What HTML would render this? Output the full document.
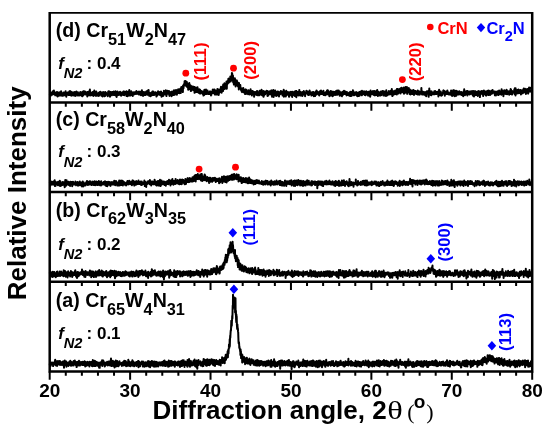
<!DOCTYPE html><html><head><meta charset="utf-8"><title>XRD patterns</title><style>html,body{margin:0;padding:0;background:#fff;overflow:hidden}svg{display:block}</style></head><body><svg width="550" height="431" viewBox="0 0 550 431"><defs><filter id="soft" x="0" y="0" width="1" height="1" color-interpolation-filters="sRGB"><feGaussianBlur stdDeviation="0.4"/></filter></defs><rect width="550" height="431" fill="#fff"/><g filter="url(#soft)"><polyline fill="none" stroke="#000" stroke-width="2.0" stroke-linejoin="round" points="49.7,93.9 49.9,94.3 50.0,93.5 50.2,92.7 50.3,93.3 50.5,92.6 50.7,94.0 50.8,95.6 51.0,93.2 51.1,93.1 51.3,94.5 51.5,94.3 51.6,94.0 51.8,92.7 52.0,93.8 52.1,94.8 52.3,92.1 52.4,93.3 52.6,91.4 52.8,92.2 52.9,91.5 53.1,93.6 53.2,92.2 53.4,94.2 53.6,94.1 53.7,93.6 53.9,90.6 54.0,93.2 54.2,93.8 54.4,94.0 54.5,91.9 54.7,93.2 54.8,92.6 55.0,92.8 55.2,95.3 55.3,92.8 55.5,93.8 55.7,95.0 55.8,93.1 56.0,93.7 56.1,94.0 56.3,94.0 56.5,92.3 56.6,94.0 56.8,95.6 56.9,91.9 57.1,95.0 57.3,94.0 57.4,93.0 57.6,96.5 57.7,94.9 57.9,92.3 58.1,94.0 58.2,94.6 58.4,93.6 58.5,94.8 58.7,93.8 58.9,94.7 59.0,95.7 59.2,93.0 59.3,94.1 59.5,93.3 59.7,94.0 59.8,92.3 60.0,93.1 60.2,93.6 60.3,95.0 60.5,95.4 60.6,92.1 60.8,92.8 61.0,94.7 61.1,91.3 61.3,93.3 61.4,93.7 61.6,95.5 61.8,94.8 61.9,93.4 62.1,93.4 62.2,93.5 62.4,95.8 62.6,93.3 62.7,93.5 62.9,94.3 63.0,93.7 63.2,93.6 63.4,92.4 63.5,93.8 63.7,93.3 63.9,95.4 64.0,94.7 64.2,93.8 64.3,94.7 64.5,93.4 64.7,95.2 64.8,93.8 65.0,94.6 65.1,92.2 65.3,94.3 65.5,91.7 65.6,91.2 65.8,93.5 65.9,92.7 66.1,94.1 66.3,96.8 66.4,92.8 66.6,93.0 66.7,94.1 66.9,94.5 67.1,93.6 67.2,93.6 67.4,94.8 67.6,94.5 67.7,92.5 67.9,93.7 68.0,93.9 68.2,92.5 68.4,94.2 68.5,92.7 68.7,95.1 68.8,94.1 69.0,94.0 69.2,93.1 69.3,93.7 69.5,91.2 69.6,92.4 69.8,94.3 70.0,91.1 70.1,94.9 70.3,91.6 70.4,94.8 70.6,92.7 70.8,94.9 70.9,94.0 71.1,91.8 71.3,95.5 71.4,95.7 71.6,93.8 71.7,93.5 71.9,93.6 72.1,92.6 72.2,95.3 72.4,93.1 72.5,93.8 72.7,92.8 72.9,93.0 73.0,92.2 73.2,95.5 73.3,93.6 73.5,95.1 73.7,93.9 73.8,92.9 74.0,93.4 74.1,93.1 74.3,93.8 74.5,93.3 74.6,93.4 74.8,92.0 75.0,92.8 75.1,96.0 75.3,93.0 75.4,92.5 75.6,94.3 75.8,95.7 75.9,91.9 76.1,93.6 76.2,93.0 76.4,91.5 76.6,94.8 76.7,93.8 76.9,93.9 77.0,92.8 77.2,94.4 77.4,93.1 77.5,93.6 77.7,92.4 77.8,92.2 78.0,95.6 78.2,93.2 78.3,94.2 78.5,93.8 78.6,93.2 78.8,93.2 79.0,94.6 79.1,93.4 79.3,93.6 79.5,93.9 79.6,95.4 79.8,94.7 79.9,94.3 80.1,93.1 80.3,92.0 80.4,95.1 80.6,95.1 80.7,93.6 80.9,94.5 81.1,94.8 81.2,94.9 81.4,95.0 81.5,93.2 81.7,95.8 81.9,92.2 82.0,94.9 82.2,94.5 82.3,95.0 82.5,96.3 82.7,95.7 82.8,92.3 83.0,91.6 83.2,94.9 83.3,92.5 83.5,93.8 83.6,94.9 83.8,91.7 84.0,91.1 84.1,94.1 84.3,93.9 84.4,93.5 84.6,93.9 84.8,92.7 84.9,91.8 85.1,93.6 85.2,92.5 85.4,91.7 85.6,94.5 85.7,93.7 85.9,94.3 86.0,92.5 86.2,93.0 86.4,92.5 86.5,92.7 86.7,94.1 86.9,92.8 87.0,94.3 87.2,94.2 87.3,96.4 87.5,92.0 87.7,95.0 87.8,93.7 88.0,93.8 88.1,91.9 88.3,93.2 88.5,94.8 88.6,93.7 88.8,93.9 88.9,93.4 89.1,95.3 89.3,93.8 89.4,90.9 89.6,92.9 89.7,91.2 89.9,89.6 90.1,93.1 90.2,95.5 90.4,93.9 90.6,92.3 90.7,92.6 90.9,95.3 91.0,94.0 91.2,93.9 91.4,93.7 91.5,93.8 91.7,94.8 91.8,94.5 92.0,94.1 92.2,92.4 92.3,94.5 92.5,92.9 92.6,95.2 92.8,92.1 93.0,93.6 93.1,93.8 93.3,92.1 93.4,96.0 93.6,95.7 93.8,93.2 93.9,94.8 94.1,94.3 94.3,90.4 94.4,94.1 94.6,93.7 94.7,93.9 94.9,92.4 95.1,93.4 95.2,93.6 95.4,95.3 95.5,94.2 95.7,93.8 95.9,95.8 96.0,93.1 96.2,93.3 96.3,91.4 96.5,95.8 96.7,95.0 96.8,95.0 97.0,94.7 97.1,93.9 97.3,94.1 97.5,93.5 97.6,93.5 97.8,93.9 97.9,95.8 98.1,94.5 98.3,93.7 98.4,93.0 98.6,93.0 98.8,95.9 98.9,94.4 99.1,93.9 99.2,93.3 99.4,92.3 99.6,93.7 99.7,94.9 99.9,93.3 100.0,93.5 100.2,93.5 100.4,93.9 100.5,91.7 100.7,93.5 100.8,92.7 101.0,94.9 101.2,92.8 101.3,94.5 101.5,95.8 101.6,93.4 101.8,93.0 102.0,94.0 102.1,93.8 102.3,92.5 102.5,94.4 102.6,96.4 102.8,93.4 102.9,93.5 103.1,92.4 103.3,94.2 103.4,92.1 103.6,92.3 103.7,95.4 103.9,92.6 104.1,95.2 104.2,95.8 104.4,94.1 104.5,94.5 104.7,96.3 104.9,93.5 105.0,93.0 105.2,92.0 105.3,93.8 105.5,95.7 105.7,95.0 105.8,92.5 106.0,92.6 106.2,93.1 106.3,94.1 106.5,93.5 106.6,94.0 106.8,94.1 107.0,93.4 107.1,93.7 107.3,94.0 107.4,93.6 107.6,94.4 107.8,96.2 107.9,94.5 108.1,93.8 108.2,91.6 108.4,94.3 108.6,91.2 108.7,91.9 108.9,94.9 109.0,94.7 109.2,93.6 109.4,91.5 109.5,93.3 109.7,92.9 109.9,94.6 110.0,96.7 110.2,94.0 110.3,92.7 110.5,92.2 110.7,93.7 110.8,93.5 111.0,92.2 111.1,93.9 111.3,92.2 111.5,95.2 111.6,95.1 111.8,95.2 111.9,93.1 112.1,94.4 112.3,93.6 112.4,93.2 112.6,93.3 112.7,92.0 112.9,91.9 113.1,94.8 113.2,93.5 113.4,94.0 113.6,95.0 113.7,91.5 113.9,92.7 114.0,94.0 114.2,94.3 114.4,93.2 114.5,95.1 114.7,94.0 114.8,92.2 115.0,92.5 115.2,94.8 115.3,94.3 115.5,91.3 115.6,95.5 115.8,94.5 116.0,95.5 116.1,93.2 116.3,93.3 116.4,92.3 116.6,97.0 116.8,93.5 116.9,95.8 117.1,92.9 117.2,93.9 117.4,91.6 117.6,93.2 117.7,95.0 117.9,92.1 118.1,95.1 118.2,94.2 118.4,92.4 118.5,93.1 118.7,93.1 118.9,93.7 119.0,93.0 119.2,92.6 119.3,93.3 119.5,92.4 119.7,92.0 119.8,93.7 120.0,94.9 120.1,91.7 120.3,93.7 120.5,92.9 120.6,92.4 120.8,94.8 120.9,93.0 121.1,95.7 121.3,92.7 121.4,94.2 121.6,93.4 121.8,92.7 121.9,94.5 122.1,93.5 122.2,94.5 122.4,93.7 122.6,92.3 122.7,93.6 122.9,93.8 123.0,95.0 123.2,92.5 123.4,93.7 123.5,91.5 123.7,94.6 123.8,92.3 124.0,91.4 124.2,93.6 124.3,95.2 124.5,91.7 124.6,92.3 124.8,92.7 125.0,92.2 125.1,94.2 125.3,92.7 125.5,92.8 125.6,94.5 125.8,92.7 125.9,94.3 126.1,92.4 126.3,92.1 126.4,91.3 126.6,96.1 126.7,93.3 126.9,94.0 127.1,93.7 127.2,93.9 127.4,93.8 127.5,96.2 127.7,92.3 127.9,91.7 128.0,92.4 128.2,92.0 128.3,94.7 128.5,94.8 128.7,92.4 128.8,91.9 129.0,93.2 129.2,95.5 129.3,90.0 129.5,94.4 129.6,92.3 129.8,95.1 130.0,92.3 130.1,93.3 130.3,91.7 130.4,92.4 130.6,95.5 130.8,94.8 130.9,93.2 131.1,92.6 131.2,91.2 131.4,93.2 131.6,93.6 131.7,93.6 131.9,93.6 132.0,92.2 132.2,93.6 132.4,93.6 132.5,95.4 132.7,96.1 132.9,93.5 133.0,92.7 133.2,93.6 133.3,92.9 133.5,92.7 133.7,93.6 133.8,92.3 134.0,94.5 134.1,93.5 134.3,94.0 134.5,93.4 134.6,92.7 134.8,92.4 134.9,93.4 135.1,93.0 135.3,94.0 135.4,93.7 135.6,91.9 135.7,93.8 135.9,91.9 136.1,92.9 136.2,93.3 136.4,91.0 136.5,93.8 136.7,93.9 136.9,93.5 137.0,93.1 137.2,93.2 137.4,92.4 137.5,93.3 137.7,92.9 137.8,93.8 138.0,92.1 138.2,94.0 138.3,93.8 138.5,93.5 138.6,93.1 138.8,94.4 139.0,91.5 139.1,94.3 139.3,94.0 139.4,94.0 139.6,94.2 139.8,92.8 139.9,93.3 140.1,94.5 140.2,94.2 140.4,93.9 140.6,91.7 140.7,94.4 140.9,95.2 141.1,95.0 141.2,94.0 141.4,91.6 141.5,94.9 141.7,93.4 141.9,90.3 142.0,94.1 142.2,91.7 142.3,91.9 142.5,92.8 142.7,95.3 142.8,93.2 143.0,94.0 143.1,95.9 143.3,95.7 143.5,93.5 143.6,93.3 143.8,92.0 143.9,92.7 144.1,94.2 144.3,94.1 144.4,93.8 144.6,94.9 144.8,92.6 144.9,93.6 145.1,94.6 145.2,94.4 145.4,95.0 145.6,94.1 145.7,93.2 145.9,94.1 146.0,92.3 146.2,91.5 146.4,94.4 146.5,93.5 146.7,94.0 146.8,91.4 147.0,93.1 147.2,92.8 147.3,92.5 147.5,90.7 147.6,93.2 147.8,94.8 148.0,94.1 148.1,92.8 148.3,93.6 148.5,94.6 148.6,90.0 148.8,93.4 148.9,94.3 149.1,94.5 149.3,95.8 149.4,95.1 149.6,94.0 149.7,94.0 149.9,94.6 150.1,92.9 150.2,93.5 150.4,94.8 150.5,96.2 150.7,93.4 150.9,93.5 151.0,93.8 151.2,95.3 151.3,93.5 151.5,95.5 151.7,92.3 151.8,93.3 152.0,93.3 152.2,94.6 152.3,94.9 152.5,91.6 152.6,92.4 152.8,94.0 153.0,92.7 153.1,91.6 153.3,94.9 153.4,94.2 153.6,94.2 153.8,92.9 153.9,94.9 154.1,93.2 154.2,95.0 154.4,92.4 154.6,92.4 154.7,93.8 154.9,92.6 155.0,94.4 155.2,93.9 155.4,92.3 155.5,93.6 155.7,93.1 155.8,94.7 156.0,92.7 156.2,93.0 156.3,95.1 156.5,96.5 156.7,96.2 156.8,93.6 157.0,93.8 157.1,95.5 157.3,93.4 157.5,92.2 157.6,93.7 157.8,94.1 157.9,92.4 158.1,91.3 158.3,91.6 158.4,94.4 158.6,92.5 158.7,93.3 158.9,93.8 159.1,94.3 159.2,93.1 159.4,94.2 159.5,92.3 159.7,93.0 159.9,92.1 160.0,95.0 160.2,93.5 160.4,92.5 160.5,93.0 160.7,93.2 160.8,94.4 161.0,91.4 161.2,92.1 161.3,93.0 161.5,96.8 161.6,94.7 161.8,93.3 162.0,94.4 162.1,96.2 162.3,93.1 162.4,93.0 162.6,95.0 162.8,94.1 162.9,94.3 163.1,92.8 163.2,96.0 163.4,95.7 163.6,94.2 163.7,94.3 163.9,90.7 164.1,94.3 164.2,93.2 164.4,94.0 164.5,94.3 164.7,93.0 164.9,91.2 165.0,93.9 165.2,92.4 165.3,93.0 165.5,92.6 165.7,92.9 165.8,90.3 166.0,95.0 166.1,93.7 166.3,94.8 166.5,96.0 166.6,93.4 166.8,91.0 166.9,92.2 167.1,91.7 167.3,92.7 167.4,93.4 167.6,90.7 167.8,93.8 167.9,91.3 168.1,93.7 168.2,93.2 168.4,92.9 168.6,93.2 168.7,92.6 168.9,92.5 169.0,91.0 169.2,93.2 169.4,95.7 169.5,95.9 169.7,95.0 169.8,94.2 170.0,92.3 170.2,95.2 170.3,93.1 170.5,93.1 170.6,92.8 170.8,93.3 171.0,92.6 171.1,93.1 171.3,91.7 171.5,92.7 171.6,96.2 171.8,93.1 171.9,92.8 172.1,93.8 172.3,94.1 172.4,91.6 172.6,92.8 172.7,94.3 172.9,93.4 173.1,93.2 173.2,95.1 173.4,92.1 173.5,93.1 173.7,92.3 173.9,95.0 174.0,90.3 174.2,92.0 174.3,92.2 174.5,93.8 174.7,93.7 174.8,94.8 175.0,90.7 175.1,93.9 175.3,92.4 175.5,91.9 175.6,93.5 175.8,91.5 176.0,89.9 176.1,92.2 176.3,90.6 176.4,91.7 176.6,93.1 176.8,93.0 176.9,94.7 177.1,92.2 177.2,90.3 177.4,91.3 177.6,91.0 177.7,90.6 177.9,92.8 178.0,91.2 178.2,89.3 178.4,93.0 178.5,91.8 178.7,92.4 178.8,91.9 179.0,92.6 179.2,91.7 179.3,93.3 179.5,92.0 179.7,91.9 179.8,91.8 180.0,88.9 180.1,90.7 180.3,90.4 180.5,91.0 180.6,88.4 180.8,92.9 180.9,90.3 181.1,88.1 181.3,87.1 181.4,89.2 181.6,89.3 181.7,88.1 181.9,89.2 182.1,87.7 182.2,89.5 182.4,87.1 182.5,88.1 182.7,89.6 182.9,92.1 183.0,85.7 183.2,86.4 183.4,85.5 183.5,88.1 183.7,84.4 183.8,85.3 184.0,85.9 184.2,84.0 184.3,83.8 184.5,84.4 184.6,81.2 184.8,82.2 185.0,84.0 185.1,84.9 185.3,84.1 185.4,80.9 185.6,83.3 185.8,85.7 185.9,85.1 186.1,83.9 186.2,82.3 186.4,85.2 186.6,82.9 186.7,81.8 186.9,82.6 187.1,87.0 187.2,84.7 187.4,86.6 187.5,83.6 187.7,86.4 187.9,83.7 188.0,84.6 188.2,89.7 188.3,86.7 188.5,84.5 188.7,85.4 188.8,86.3 189.0,88.1 189.1,85.1 189.3,83.0 189.5,85.8 189.6,86.5 189.8,86.8 189.9,89.1 190.1,87.4 190.3,88.4 190.4,85.2 190.6,88.7 190.8,91.0 190.9,88.7 191.1,87.9 191.2,87.8 191.4,90.7 191.6,86.2 191.7,87.6 191.9,88.7 192.0,89.2 192.2,87.3 192.4,88.6 192.5,87.7 192.7,88.4 192.8,88.1 193.0,86.4 193.2,88.4 193.3,89.9 193.5,86.9 193.6,88.2 193.8,89.8 194.0,87.0 194.1,89.1 194.3,87.1 194.4,90.8 194.6,92.8 194.8,92.4 194.9,88.8 195.1,90.4 195.3,89.5 195.4,89.6 195.6,92.0 195.7,87.5 195.9,91.3 196.1,89.7 196.2,92.1 196.4,90.2 196.5,88.9 196.7,90.5 196.9,91.3 197.0,90.3 197.2,91.1 197.3,89.6 197.5,87.2 197.7,92.0 197.8,91.7 198.0,91.0 198.1,90.9 198.3,92.5 198.5,90.3 198.6,90.0 198.8,90.8 199.0,93.0 199.1,89.2 199.3,93.1 199.4,90.5 199.6,89.8 199.8,93.4 199.9,91.4 200.1,89.7 200.2,91.2 200.4,93.1 200.6,93.5 200.7,91.2 200.9,92.5 201.0,93.0 201.2,91.1 201.4,92.5 201.5,92.0 201.7,91.3 201.8,91.4 202.0,92.3 202.2,92.3 202.3,91.4 202.5,91.7 202.7,93.9 202.8,92.6 203.0,93.6 203.1,94.1 203.3,93.2 203.5,95.6 203.6,91.3 203.8,93.6 203.9,92.0 204.1,95.1 204.3,94.9 204.4,89.8 204.6,91.2 204.7,93.5 204.9,93.7 205.1,93.6 205.2,92.5 205.4,93.2 205.5,93.5 205.7,92.5 205.9,94.0 206.0,89.5 206.2,93.5 206.4,91.2 206.5,94.0 206.7,92.3 206.8,91.4 207.0,93.2 207.2,91.4 207.3,91.4 207.5,90.5 207.6,92.6 207.8,93.3 208.0,94.1 208.1,92.5 208.3,94.1 208.4,92.7 208.6,92.5 208.8,93.5 208.9,94.1 209.1,92.2 209.2,92.3 209.4,92.4 209.6,92.8 209.7,91.4 209.9,94.1 210.1,92.1 210.2,93.3 210.4,91.5 210.5,93.1 210.7,93.2 210.9,92.0 211.0,95.4 211.2,93.1 211.3,95.0 211.5,93.9 211.7,91.7 211.8,92.0 212.0,93.2 212.1,92.6 212.3,92.6 212.5,92.1 212.6,90.0 212.8,92.2 212.9,89.4 213.1,93.0 213.3,91.4 213.4,91.4 213.6,92.1 213.7,92.8 213.9,90.4 214.1,89.9 214.2,90.9 214.4,89.5 214.6,91.0 214.7,94.5 214.9,90.8 215.0,93.2 215.2,90.3 215.4,92.6 215.5,91.8 215.7,92.1 215.8,93.0 216.0,94.6 216.2,92.4 216.3,92.2 216.5,90.6 216.6,92.8 216.8,91.6 217.0,93.1 217.1,91.8 217.3,94.4 217.4,89.0 217.6,91.3 217.8,93.0 217.9,91.2 218.1,90.5 218.3,91.2 218.4,89.5 218.6,91.6 218.7,95.0 218.9,93.0 219.1,89.7 219.2,89.9 219.4,90.6 219.5,92.6 219.7,89.8 219.9,89.9 220.0,92.2 220.2,92.1 220.3,90.1 220.5,88.9 220.7,88.1 220.8,89.3 221.0,86.8 221.1,91.4 221.3,89.1 221.5,90.7 221.6,92.8 221.8,91.6 222.0,87.8 222.1,90.9 222.3,91.2 222.4,88.0 222.6,87.5 222.8,88.7 222.9,86.1 223.1,91.0 223.2,84.4 223.4,86.4 223.6,87.6 223.7,87.5 223.9,88.0 224.0,88.0 224.2,87.0 224.4,89.1 224.5,83.2 224.7,86.7 224.8,85.2 225.0,86.5 225.2,86.5 225.3,84.2 225.5,84.5 225.7,86.9 225.8,85.8 226.0,83.7 226.1,88.6 226.3,88.8 226.5,81.4 226.6,84.5 226.8,88.6 226.9,85.0 227.1,83.6 227.3,82.5 227.4,81.6 227.6,82.0 227.7,81.1 227.9,83.5 228.1,80.9 228.2,80.5 228.4,78.7 228.5,80.8 228.7,78.8 228.9,80.1 229.0,82.5 229.2,80.8 229.4,80.9 229.5,80.4 229.7,79.5 229.8,79.0 230.0,78.4 230.2,80.6 230.3,76.4 230.5,81.6 230.6,78.5 230.8,76.7 231.0,77.2 231.1,76.7 231.3,78.5 231.4,76.5 231.6,80.6 231.8,76.3 231.9,72.9 232.1,76.4 232.2,73.6 232.4,78.0 232.6,80.5 232.7,79.7 232.9,75.4 233.0,76.8 233.2,82.5 233.4,79.4 233.5,78.9 233.7,81.4 233.9,84.6 234.0,82.2 234.2,79.9 234.3,80.6 234.5,81.4 234.7,79.0 234.8,78.2 235.0,80.8 235.1,79.0 235.3,81.1 235.5,81.6 235.6,86.5 235.8,80.2 235.9,82.0 236.1,82.1 236.3,83.6 236.4,85.0 236.6,82.3 236.7,81.9 236.9,80.5 237.1,82.2 237.2,85.3 237.4,84.6 237.6,82.8 237.7,84.3 237.9,85.3 238.0,86.4 238.2,84.6 238.4,85.4 238.5,82.8 238.7,84.3 238.8,89.4 239.0,82.9 239.2,86.4 239.3,87.5 239.5,86.7 239.6,86.2 239.8,87.6 240.0,87.9 240.1,88.0 240.3,85.1 240.4,88.2 240.6,87.2 240.8,87.9 240.9,89.3 241.1,90.1 241.3,90.7 241.4,88.6 241.6,91.0 241.7,91.5 241.9,91.6 242.1,92.1 242.2,89.8 242.4,89.9 242.5,91.5 242.7,88.2 242.9,90.8 243.0,89.7 243.2,90.1 243.3,88.1 243.5,89.5 243.7,90.9 243.8,92.3 244.0,92.5 244.1,91.0 244.3,90.9 244.5,90.1 244.6,91.9 244.8,91.1 245.0,92.4 245.1,94.1 245.3,91.5 245.4,89.5 245.6,90.5 245.8,89.6 245.9,90.1 246.1,93.7 246.2,92.2 246.4,89.8 246.6,92.9 246.7,93.8 246.9,91.5 247.0,91.1 247.2,91.6 247.4,92.6 247.5,93.1 247.7,93.9 247.8,93.9 248.0,93.9 248.2,94.2 248.3,93.2 248.5,90.2 248.7,92.2 248.8,92.8 249.0,91.9 249.1,93.7 249.3,92.0 249.5,91.2 249.6,94.5 249.8,93.4 249.9,92.8 250.1,93.8 250.3,94.0 250.4,93.1 250.6,89.2 250.7,91.7 250.9,92.0 251.1,91.3 251.2,92.9 251.4,94.3 251.5,92.0 251.7,91.2 251.9,95.5 252.0,92.1 252.2,91.1 252.3,93.1 252.5,93.3 252.7,91.8 252.8,93.9 253.0,92.1 253.2,91.5 253.3,93.1 253.5,93.9 253.6,92.0 253.8,93.3 254.0,92.7 254.1,96.7 254.3,91.9 254.4,94.8 254.6,92.8 254.8,92.7 254.9,93.9 255.1,94.1 255.2,94.6 255.4,93.4 255.6,92.1 255.7,92.2 255.9,93.6 256.0,93.7 256.2,94.8 256.4,93.5 256.5,94.4 256.7,95.0 256.9,93.2 257.0,91.0 257.2,91.4 257.3,91.1 257.5,95.2 257.7,91.9 257.8,94.7 258.0,93.8 258.1,95.3 258.3,94.4 258.5,92.9 258.6,92.8 258.8,93.2 258.9,93.3 259.1,92.4 259.3,93.0 259.4,95.2 259.6,90.8 259.7,93.4 259.9,91.9 260.1,93.3 260.2,94.2 260.4,93.0 260.6,94.1 260.7,91.0 260.9,94.6 261.0,92.3 261.2,94.0 261.4,93.4 261.5,89.7 261.7,92.1 261.8,93.4 262.0,95.2 262.2,93.5 262.3,93.5 262.5,91.3 262.6,95.1 262.8,95.6 263.0,93.2 263.1,92.9 263.3,91.0 263.4,94.3 263.6,96.8 263.8,94.1 263.9,94.9 264.1,93.9 264.3,91.9 264.4,95.0 264.6,91.6 264.7,92.9 264.9,93.6 265.1,94.4 265.2,93.8 265.4,93.7 265.5,92.2 265.7,91.5 265.9,93.3 266.0,92.3 266.2,91.5 266.3,91.5 266.5,92.6 266.7,90.8 266.8,91.4 267.0,91.1 267.1,93.5 267.3,93.8 267.5,95.9 267.6,91.3 267.8,92.3 268.0,94.5 268.1,93.0 268.3,92.8 268.4,95.5 268.6,92.8 268.8,91.7 268.9,91.5 269.1,93.7 269.2,93.7 269.4,91.4 269.6,92.0 269.7,94.0 269.9,94.0 270.0,92.4 270.2,94.1 270.4,94.0 270.5,90.9 270.7,92.9 270.8,93.8 271.0,92.5 271.2,90.5 271.3,92.9 271.5,94.3 271.6,95.4 271.8,90.4 272.0,96.7 272.1,91.8 272.3,94.6 272.5,94.9 272.6,94.6 272.8,93.5 272.9,91.8 273.1,94.1 273.3,92.4 273.4,90.0 273.6,97.0 273.7,94.2 273.9,95.7 274.1,92.1 274.2,95.2 274.4,95.4 274.5,95.4 274.7,93.3 274.9,91.7 275.0,93.1 275.2,90.4 275.3,91.1 275.5,93.4 275.7,92.0 275.8,93.1 276.0,93.2 276.2,95.9 276.3,95.0 276.5,93.3 276.6,94.9 276.8,92.3 277.0,92.9 277.1,94.5 277.3,91.7 277.4,93.0 277.6,91.6 277.8,93.5 277.9,95.5 278.1,92.3 278.2,93.6 278.4,92.2 278.6,91.8 278.7,91.7 278.9,95.2 279.0,96.4 279.2,94.0 279.4,92.4 279.5,94.3 279.7,92.9 279.9,94.4 280.0,93.7 280.2,93.7 280.3,94.1 280.5,92.6 280.7,92.8 280.8,91.1 281.0,92.8 281.1,91.5 281.3,93.2 281.5,92.1 281.6,93.5 281.8,93.9 281.9,91.5 282.1,92.3 282.3,92.1 282.4,94.3 282.6,95.6 282.7,94.5 282.9,92.9 283.1,95.3 283.2,91.4 283.4,95.3 283.6,92.5 283.7,89.7 283.9,96.8 284.0,95.4 284.2,92.0 284.4,93.6 284.5,93.1 284.7,93.5 284.8,91.4 285.0,92.5 285.2,94.0 285.3,93.7 285.5,94.9 285.6,93.5 285.8,96.4 286.0,92.4 286.1,93.7 286.3,90.8 286.4,91.7 286.6,95.1 286.8,92.1 286.9,94.1 287.1,93.3 287.3,92.0 287.4,92.9 287.6,92.7 287.7,92.7 287.9,94.4 288.1,94.2 288.2,92.6 288.4,92.2 288.5,93.7 288.7,93.2 288.9,94.7 289.0,96.8 289.2,94.5 289.3,93.3 289.5,93.1 289.7,92.2 289.8,92.2 290.0,92.1 290.1,92.9 290.3,92.8 290.5,94.3 290.6,92.8 290.8,93.1 290.9,91.8 291.1,95.5 291.3,94.0 291.4,95.7 291.6,94.4 291.8,95.3 291.9,93.0 292.1,94.3 292.2,96.9 292.4,91.8 292.6,94.9 292.7,95.6 292.9,93.9 293.0,94.4 293.2,95.1 293.4,92.5 293.5,93.9 293.7,92.2 293.8,92.5 294.0,92.5 294.2,93.2 294.3,93.6 294.5,94.0 294.6,91.5 294.8,96.0 295.0,94.9 295.1,94.4 295.3,92.9 295.5,93.3 295.6,94.1 295.8,93.9 295.9,91.1 296.1,94.4 296.3,97.3 296.4,90.9 296.6,94.7 296.7,93.9 296.9,93.2 297.1,95.2 297.2,91.8 297.4,93.6 297.5,95.3 297.7,93.1 297.9,92.8 298.0,93.5 298.2,92.8 298.3,95.5 298.5,92.2 298.7,94.6 298.8,91.7 299.0,94.3 299.2,93.2 299.3,89.9 299.5,93.4 299.6,91.9 299.8,92.8 300.0,95.5 300.1,91.9 300.3,92.0 300.4,95.3 300.6,93.5 300.8,95.5 300.9,93.8 301.1,92.2 301.2,93.3 301.4,95.0 301.6,94.6 301.7,93.4 301.9,93.4 302.0,93.2 302.2,92.6 302.4,96.0 302.5,93.4 302.7,91.9 302.9,92.7 303.0,94.4 303.2,94.2 303.3,93.2 303.5,92.5 303.7,93.4 303.8,91.1 304.0,91.6 304.1,94.5 304.3,92.7 304.5,93.9 304.6,95.0 304.8,94.3 304.9,93.4 305.1,96.2 305.3,94.3 305.4,92.9 305.6,94.4 305.7,93.9 305.9,92.2 306.1,93.5 306.2,93.2 306.4,90.7 306.6,93.2 306.7,93.0 306.9,92.8 307.0,91.2 307.2,92.9 307.4,93.3 307.5,93.5 307.7,91.9 307.8,94.2 308.0,91.7 308.2,93.1 308.3,95.1 308.5,92.5 308.6,92.7 308.8,94.8 309.0,92.9 309.1,93.0 309.3,93.7 309.4,94.8 309.6,90.4 309.8,92.3 309.9,92.0 310.1,91.9 310.2,92.2 310.4,92.3 310.6,93.8 310.7,92.2 310.9,93.5 311.1,93.9 311.2,92.4 311.4,93.6 311.5,95.6 311.7,93.8 311.9,92.5 312.0,93.3 312.2,92.2 312.3,93.7 312.5,94.5 312.7,92.3 312.8,93.1 313.0,94.9 313.1,92.7 313.3,93.6 313.5,92.0 313.6,92.3 313.8,92.7 313.9,96.2 314.1,92.8 314.3,92.7 314.4,92.6 314.6,93.2 314.8,94.2 314.9,93.6 315.1,96.1 315.2,93.7 315.4,95.3 315.6,93.7 315.7,94.2 315.9,91.5 316.0,93.2 316.2,93.3 316.4,93.1 316.5,90.6 316.7,94.5 316.8,92.9 317.0,92.8 317.2,93.0 317.3,93.1 317.5,93.9 317.6,91.7 317.8,92.2 318.0,93.8 318.1,93.6 318.3,92.9 318.5,92.6 318.6,92.3 318.8,93.3 318.9,94.9 319.1,92.0 319.3,95.4 319.4,94.5 319.6,92.8 319.7,94.4 319.9,91.5 320.1,91.1 320.2,91.7 320.4,92.8 320.5,93.0 320.7,92.7 320.9,93.5 321.0,90.6 321.2,94.0 321.3,91.5 321.5,92.5 321.7,92.8 321.8,91.9 322.0,91.6 322.2,92.1 322.3,93.4 322.5,94.1 322.6,94.1 322.8,92.1 323.0,92.3 323.1,92.2 323.3,94.0 323.4,90.7 323.6,95.0 323.8,92.7 323.9,92.3 324.1,93.8 324.2,94.7 324.4,93.8 324.6,94.7 324.7,93.5 324.9,95.0 325.0,95.0 325.2,93.2 325.4,95.3 325.5,93.6 325.7,93.5 325.9,92.2 326.0,93.0 326.2,94.4 326.3,91.7 326.5,94.2 326.7,93.8 326.8,93.7 327.0,90.5 327.1,93.2 327.3,94.2 327.5,92.4 327.6,93.5 327.8,90.3 327.9,94.2 328.1,92.5 328.3,94.5 328.4,91.0 328.6,94.3 328.7,93.1 328.9,94.4 329.1,92.2 329.2,92.6 329.4,96.3 329.5,92.3 329.7,92.4 329.9,93.0 330.0,92.0 330.2,94.9 330.4,95.6 330.5,92.4 330.7,91.1 330.8,94.9 331.0,94.8 331.2,94.4 331.3,94.9 331.5,92.2 331.6,93.1 331.8,91.6 332.0,91.5 332.1,94.6 332.3,92.5 332.4,96.3 332.6,93.5 332.8,92.5 332.9,94.4 333.1,95.7 333.2,94.0 333.4,91.8 333.6,93.8 333.7,95.2 333.9,92.7 334.1,92.3 334.2,94.7 334.4,93.5 334.5,91.9 334.7,92.9 334.9,92.4 335.0,93.7 335.2,93.5 335.3,94.9 335.5,94.3 335.7,91.3 335.8,93.9 336.0,94.5 336.1,94.0 336.3,94.7 336.5,92.6 336.6,92.1 336.8,94.6 336.9,92.0 337.1,90.5 337.3,94.7 337.4,92.4 337.6,93.0 337.8,91.5 337.9,91.6 338.1,91.8 338.2,92.9 338.4,93.8 338.6,90.4 338.7,94.3 338.9,91.8 339.0,92.0 339.2,94.2 339.4,93.3 339.5,91.3 339.7,95.8 339.8,92.2 340.0,93.7 340.2,93.6 340.3,95.2 340.5,92.8 340.6,94.7 340.8,92.4 341.0,94.8 341.1,92.4 341.3,92.9 341.5,95.8 341.6,93.8 341.8,93.5 341.9,96.3 342.1,93.8 342.3,92.3 342.4,94.3 342.6,91.8 342.7,94.8 342.9,94.9 343.1,92.6 343.2,92.5 343.4,93.6 343.5,93.4 343.7,92.1 343.9,94.1 344.0,90.7 344.2,92.8 344.3,92.8 344.5,93.0 344.7,93.7 344.8,91.7 345.0,94.1 345.2,93.1 345.3,92.5 345.5,91.6 345.6,91.8 345.8,93.8 346.0,92.1 346.1,93.4 346.3,94.7 346.4,94.7 346.6,95.4 346.8,92.9 346.9,91.9 347.1,94.7 347.2,93.7 347.4,94.8 347.6,93.3 347.7,94.9 347.9,94.4 348.0,94.3 348.2,94.0 348.4,93.9 348.5,93.6 348.7,93.6 348.8,94.6 349.0,92.7 349.2,95.6 349.3,93.2 349.5,94.6 349.7,93.2 349.8,93.0 350.0,96.0 350.1,92.9 350.3,91.7 350.5,92.4 350.6,92.9 350.8,96.1 350.9,93.6 351.1,94.5 351.3,92.0 351.4,93.8 351.6,94.2 351.7,95.7 351.9,92.4 352.1,94.1 352.2,93.7 352.4,92.0 352.5,93.3 352.7,93.0 352.9,90.3 353.0,94.1 353.2,94.0 353.4,92.7 353.5,91.6 353.7,95.3 353.8,93.7 354.0,94.6 354.2,95.2 354.3,92.6 354.5,94.4 354.6,93.0 354.8,93.2 355.0,93.2 355.1,93.3 355.3,94.8 355.4,93.5 355.6,93.1 355.8,93.0 355.9,93.8 356.1,92.1 356.2,92.7 356.4,93.2 356.6,92.6 356.7,93.2 356.9,92.5 357.1,95.9 357.2,95.0 357.4,93.9 357.5,93.2 357.7,96.2 357.9,93.7 358.0,93.2 358.2,93.7 358.3,93.7 358.5,95.1 358.7,93.3 358.8,96.0 359.0,92.2 359.1,94.2 359.3,92.0 359.5,95.7 359.6,92.9 359.8,93.2 359.9,94.5 360.1,94.9 360.3,91.8 360.4,92.8 360.6,91.5 360.8,93.5 360.9,93.2 361.1,92.8 361.2,92.4 361.4,92.8 361.6,92.3 361.7,94.0 361.9,95.3 362.0,90.8 362.2,93.1 362.4,92.7 362.5,93.9 362.7,92.0 362.8,93.1 363.0,91.9 363.2,94.2 363.3,93.4 363.5,93.1 363.6,93.8 363.8,93.0 364.0,91.3 364.1,94.1 364.3,93.7 364.5,93.1 364.6,94.6 364.8,94.9 364.9,91.9 365.1,92.3 365.3,95.3 365.4,95.1 365.6,92.3 365.7,91.7 365.9,92.4 366.1,92.6 366.2,91.2 366.4,93.3 366.5,91.6 366.7,91.7 366.9,94.5 367.0,92.4 367.2,93.2 367.3,94.1 367.5,94.3 367.7,92.8 367.8,93.3 368.0,92.2 368.1,95.6 368.3,94.1 368.5,91.8 368.6,93.3 368.8,94.2 369.0,93.9 369.1,95.7 369.3,95.1 369.4,92.6 369.6,93.1 369.8,91.6 369.9,93.6 370.1,93.5 370.2,96.8 370.4,93.4 370.6,90.5 370.7,92.4 370.9,93.4 371.0,91.6 371.2,92.1 371.4,92.8 371.5,93.7 371.7,93.0 371.8,92.1 372.0,94.3 372.2,92.5 372.3,92.6 372.5,91.4 372.7,92.2 372.8,94.1 373.0,91.1 373.1,93.2 373.3,94.2 373.5,92.7 373.6,93.6 373.8,91.8 373.9,95.0 374.1,94.7 374.3,93.5 374.4,90.9 374.6,91.9 374.7,94.5 374.9,95.5 375.1,93.6 375.2,94.9 375.4,92.4 375.5,93.0 375.7,93.2 375.9,93.8 376.0,91.2 376.2,94.5 376.4,95.0 376.5,91.7 376.7,91.4 376.8,93.7 377.0,92.4 377.2,90.1 377.3,94.3 377.5,93.4 377.6,92.6 377.8,96.0 378.0,93.4 378.1,92.2 378.3,93.3 378.4,91.8 378.6,92.2 378.8,93.7 378.9,92.5 379.1,92.6 379.2,95.4 379.4,94.3 379.6,94.2 379.7,93.9 379.9,93.8 380.1,95.1 380.2,93.2 380.4,95.6 380.5,91.9 380.7,92.8 380.9,91.4 381.0,92.7 381.2,93.9 381.3,95.1 381.5,92.3 381.7,93.2 381.8,92.7 382.0,92.2 382.1,91.6 382.3,93.2 382.5,90.9 382.6,93.3 382.8,93.2 382.9,92.3 383.1,91.8 383.3,91.3 383.4,95.6 383.6,91.4 383.8,95.2 383.9,93.9 384.1,92.6 384.2,91.6 384.4,94.5 384.6,95.4 384.7,91.9 384.9,92.7 385.0,94.5 385.2,93.5 385.4,95.7 385.5,92.3 385.7,93.8 385.8,91.4 386.0,95.9 386.2,92.1 386.3,90.2 386.5,92.9 386.6,92.9 386.8,95.6 387.0,92.6 387.1,93.0 387.3,93.8 387.4,95.1 387.6,93.0 387.8,94.4 387.9,93.7 388.1,92.6 388.3,93.1 388.4,93.0 388.6,91.8 388.7,94.6 388.9,91.1 389.1,94.5 389.2,94.2 389.4,92.8 389.5,91.9 389.7,92.6 389.9,93.6 390.0,93.9 390.2,93.3 390.3,94.2 390.5,92.1 390.7,93.2 390.8,90.8 391.0,93.9 391.1,93.0 391.3,92.3 391.5,94.4 391.6,93.7 391.8,89.0 392.0,92.8 392.1,90.8 392.3,94.2 392.4,96.1 392.6,92.0 392.8,92.8 392.9,92.3 393.1,93.1 393.2,93.5 393.4,94.3 393.6,91.2 393.7,94.7 393.9,91.2 394.0,92.9 394.2,94.0 394.4,93.4 394.5,91.1 394.7,91.4 394.8,91.7 395.0,92.2 395.2,93.9 395.3,90.4 395.5,92.8 395.7,93.0 395.8,92.9 396.0,92.7 396.1,94.2 396.3,92.7 396.5,93.2 396.6,92.7 396.8,94.4 396.9,89.1 397.1,93.6 397.3,91.4 397.4,91.3 397.6,90.2 397.7,88.9 397.9,91.0 398.1,90.5 398.2,92.1 398.4,89.2 398.5,93.4 398.7,91.7 398.9,90.8 399.0,90.1 399.2,89.9 399.4,89.4 399.5,90.2 399.7,90.9 399.8,90.6 400.0,88.7 400.2,90.3 400.3,89.3 400.5,90.9 400.6,93.4 400.8,91.5 401.0,90.0 401.1,87.9 401.3,88.2 401.4,87.7 401.6,91.4 401.8,89.0 401.9,90.3 402.1,89.2 402.2,90.2 402.4,92.2 402.6,88.9 402.7,89.4 402.9,88.7 403.1,91.2 403.2,88.3 403.4,88.1 403.5,87.7 403.7,87.6 403.9,90.5 404.0,93.8 404.2,88.2 404.3,91.3 404.5,90.2 404.7,88.1 404.8,89.4 405.0,89.4 405.1,88.7 405.3,92.8 405.5,86.9 405.6,90.5 405.8,90.4 405.9,89.0 406.1,90.2 406.3,91.4 406.4,90.3 406.6,90.7 406.7,91.2 406.9,87.1 407.1,92.5 407.2,93.8 407.4,91.8 407.6,91.9 407.7,88.3 407.9,90.3 408.0,89.3 408.2,89.7 408.4,92.1 408.5,89.5 408.7,90.6 408.8,88.0 409.0,90.7 409.2,91.1 409.3,90.0 409.5,90.0 409.6,93.9 409.8,89.4 410.0,89.7 410.1,90.1 410.3,93.1 410.4,94.4 410.6,91.9 410.8,90.5 410.9,90.9 411.1,93.1 411.3,90.4 411.4,93.8 411.6,93.8 411.7,91.9 411.9,92.8 412.1,92.9 412.2,94.1 412.4,90.5 412.5,93.7 412.7,91.5 412.9,91.0 413.0,92.3 413.2,91.9 413.3,90.8 413.5,90.0 413.7,91.0 413.8,94.3 414.0,95.0 414.1,93.2 414.3,94.0 414.5,91.7 414.6,92.3 414.8,92.8 415.0,91.0 415.1,91.2 415.3,92.7 415.4,92.1 415.6,91.1 415.8,93.1 415.9,92.3 416.1,94.0 416.2,92.7 416.4,92.3 416.6,92.9 416.7,92.5 416.9,91.8 417.0,92.2 417.2,93.8 417.4,93.6 417.5,94.5 417.7,90.5 417.8,92.3 418.0,92.3 418.2,93.1 418.3,92.2 418.5,92.2 418.7,93.9 418.8,93.1 419.0,91.3 419.1,94.7 419.3,94.2 419.5,92.1 419.6,94.0 419.8,91.9 419.9,94.4 420.1,92.6 420.3,91.9 420.4,92.5 420.6,91.9 420.7,93.2 420.9,93.2 421.1,93.0 421.2,92.2 421.4,88.1 421.5,93.1 421.7,90.5 421.9,93.3 422.0,94.5 422.2,93.4 422.4,92.5 422.5,92.8 422.7,92.8 422.8,92.3 423.0,92.2 423.2,91.8 423.3,94.6 423.5,93.0 423.6,94.3 423.8,92.7 424.0,93.1 424.1,92.8 424.3,93.7 424.4,94.1 424.6,93.4 424.8,92.2 424.9,92.0 425.1,95.2 425.2,92.7 425.4,92.7 425.6,95.0 425.7,94.5 425.9,93.8 426.0,92.5 426.2,96.2 426.4,93.6 426.5,93.8 426.7,92.8 426.9,91.2 427.0,91.3 427.2,93.6 427.3,93.6 427.5,92.8 427.7,91.5 427.8,91.2 428.0,92.7 428.1,91.2 428.3,94.3 428.5,94.6 428.6,96.8 428.8,94.2 428.9,92.3 429.1,91.9 429.3,88.6 429.4,92.3 429.6,92.9 429.7,94.4 429.9,93.9 430.1,93.9 430.2,93.4 430.4,94.0 430.6,95.0 430.7,91.7 430.9,92.5 431.0,91.3 431.2,95.2 431.4,94.8 431.5,94.1 431.7,91.5 431.8,93.3 432.0,92.8 432.2,93.2 432.3,92.9 432.5,93.8 432.6,92.6 432.8,94.2 433.0,93.4 433.1,92.7 433.3,93.0 433.4,92.5 433.6,94.2 433.8,92.8 433.9,93.5 434.1,92.6 434.3,91.2 434.4,94.3 434.6,91.7 434.7,94.0 434.9,93.7 435.1,90.9 435.2,91.9 435.4,92.4 435.5,92.0 435.7,91.6 435.9,94.1 436.0,92.8 436.2,93.6 436.3,92.6 436.5,93.5 436.7,92.1 436.8,93.1 437.0,93.9 437.1,93.2 437.3,92.5 437.5,91.7 437.6,93.3 437.8,93.6 438.0,92.8 438.1,92.1 438.3,93.8 438.4,96.4 438.6,92.7 438.8,93.6 438.9,93.6 439.1,89.8 439.2,93.3 439.4,92.2 439.6,94.9 439.7,92.8 439.9,92.1 440.0,92.8 440.2,93.3 440.4,92.4 440.5,93.1 440.7,91.4 440.8,92.8 441.0,94.1 441.2,95.7 441.3,94.1 441.5,93.5 441.7,94.7 441.8,94.5 442.0,95.3 442.1,94.5 442.3,93.0 442.5,93.5 442.6,93.4 442.8,93.5 442.9,93.4 443.1,92.1 443.3,90.4 443.4,92.2 443.6,90.5 443.7,93.2 443.9,93.1 444.1,90.9 444.2,94.0 444.4,94.3 444.5,93.2 444.7,95.3 444.9,95.6 445.0,91.5 445.2,94.5 445.3,93.7 445.5,93.7 445.7,94.3 445.8,92.2 446.0,92.3 446.2,92.0 446.3,92.1 446.5,93.0 446.6,91.2 446.8,91.8 447.0,93.9 447.1,93.0 447.3,93.6 447.4,90.6 447.6,92.1 447.8,92.4 447.9,93.2 448.1,92.4 448.2,94.3 448.4,93.0 448.6,93.1 448.7,93.1 448.9,94.0 449.0,92.5 449.2,94.6 449.4,93.7 449.5,93.3 449.7,93.2 449.9,93.8 450.0,94.4 450.2,94.4 450.3,93.6 450.5,94.3 450.7,93.3 450.8,94.8 451.0,93.1 451.1,90.4 451.3,94.9 451.5,93.3 451.6,91.6 451.8,92.9 451.9,92.0 452.1,95.9 452.3,93.8 452.4,91.1 452.6,93.8 452.7,92.6 452.9,95.6 453.1,91.7 453.2,90.2 453.4,93.2 453.6,92.7 453.7,92.6 453.9,90.3 454.0,93.7 454.2,95.3 454.4,90.6 454.5,94.6 454.7,92.4 454.8,96.2 455.0,93.7 455.2,92.9 455.3,94.6 455.5,93.8 455.6,92.3 455.8,94.0 456.0,92.4 456.1,90.8 456.3,95.8 456.4,92.6 456.6,92.3 456.8,93.5 456.9,91.1 457.1,91.3 457.3,92.4 457.4,92.4 457.6,93.2 457.7,94.6 457.9,92.5 458.1,93.7 458.2,93.9 458.4,91.7 458.5,93.4 458.7,91.9 458.9,94.5 459.0,93.7 459.2,93.1 459.3,91.3 459.5,93.2 459.7,92.1 459.8,94.0 460.0,92.9 460.1,92.0 460.3,94.3 460.5,94.0 460.6,92.3 460.8,94.6 461.0,92.7 461.1,92.7 461.3,93.3 461.4,92.1 461.6,92.5 461.8,92.9 461.9,95.1 462.1,95.1 462.2,92.8 462.4,95.2 462.6,93.0 462.7,93.6 462.9,94.2 463.0,93.5 463.2,96.3 463.4,93.4 463.5,91.5 463.7,94.8 463.8,92.5 464.0,92.7 464.2,89.2 464.3,94.4 464.5,94.2 464.6,94.1 464.8,94.4 465.0,95.3 465.1,93.0 465.3,94.3 465.5,92.1 465.6,92.6 465.8,94.5 465.9,93.6 466.1,91.3 466.3,93.5 466.4,92.8 466.6,92.0 466.7,93.6 466.9,92.5 467.1,91.0 467.2,91.6 467.4,95.4 467.5,91.1 467.7,93.4 467.9,93.9 468.0,93.9 468.2,91.5 468.3,92.6 468.5,93.3 468.7,94.1 468.8,92.2 469.0,91.5 469.2,94.4 469.3,94.5 469.5,93.5 469.6,92.3 469.8,93.6 470.0,93.2 470.1,94.2 470.3,91.4 470.4,93.2 470.6,92.8 470.8,91.6 470.9,93.3 471.1,93.1 471.2,92.5 471.4,93.6 471.6,91.2 471.7,93.0 471.9,93.6 472.0,93.4 472.2,94.5 472.4,91.5 472.5,91.1 472.7,93.4 472.9,93.6 473.0,95.8 473.2,93.9 473.3,91.9 473.5,94.1 473.7,91.9 473.8,91.1 474.0,96.5 474.1,93.5 474.3,94.0 474.5,93.8 474.6,95.4 474.8,93.4 474.9,94.6 475.1,91.7 475.3,91.2 475.4,94.9 475.6,95.0 475.7,93.7 475.9,93.3 476.1,93.2 476.2,92.1 476.4,95.0 476.6,93.9 476.7,93.7 476.9,93.5 477.0,94.4 477.2,93.7 477.4,94.0 477.5,91.5 477.7,93.7 477.8,95.9 478.0,92.3 478.2,92.8 478.3,94.2 478.5,94.3 478.6,93.8 478.8,90.9 479.0,93.7 479.1,91.5 479.3,91.9 479.4,93.7 479.6,92.6 479.8,94.1 479.9,97.1 480.1,94.0 480.3,94.0 480.4,91.8 480.6,92.2 480.7,91.6 480.9,92.3 481.1,91.6 481.2,92.1 481.4,92.7 481.5,91.7 481.7,91.1 481.9,91.2 482.0,93.6 482.2,93.1 482.3,94.3 482.5,94.4 482.7,92.5 482.8,93.9 483.0,91.1 483.1,96.0 483.3,94.6 483.5,92.7 483.6,91.4 483.8,93.5 483.9,90.5 484.1,91.9 484.3,94.0 484.4,93.1 484.6,92.3 484.8,94.2 484.9,91.6 485.1,93.3 485.2,92.3 485.4,91.8 485.6,93.6 485.7,91.6 485.9,95.5 486.0,92.2 486.2,95.6 486.4,91.5 486.5,93.7 486.7,91.4 486.8,91.2 487.0,93.2 487.2,93.8 487.3,91.3 487.5,94.5 487.6,91.9 487.8,93.1 488.0,93.4 488.1,93.7 488.3,90.6 488.5,95.1 488.6,93.7 488.8,92.4 488.9,91.6 489.1,90.7 489.3,91.1 489.4,93.6 489.6,92.5 489.7,91.4 489.9,92.2 490.1,95.0 490.2,92.5 490.4,92.1 490.5,94.7 490.7,93.5 490.9,93.0 491.0,92.1 491.2,90.8 491.3,91.3 491.5,92.2 491.7,92.6 491.8,93.3 492.0,93.6 492.2,93.2 492.3,93.2 492.5,91.5 492.6,90.0 492.8,92.2 493.0,91.6 493.1,92.0 493.3,92.5 493.4,91.2 493.6,91.4 493.8,92.7 493.9,93.0 494.1,92.0 494.2,93.5 494.4,92.5 494.6,91.5 494.7,92.9 494.9,95.3 495.0,91.9 495.2,94.4 495.4,94.6 495.5,94.8 495.7,91.7 495.9,95.5 496.0,93.0 496.2,92.5 496.3,92.5 496.5,93.6 496.7,92.9 496.8,92.5 497.0,94.5 497.1,91.8 497.3,91.4 497.5,93.8 497.6,93.7 497.8,94.2 497.9,91.3 498.1,94.2 498.3,93.4 498.4,95.1 498.6,91.1 498.7,93.0 498.9,92.4 499.1,90.6 499.2,91.8 499.4,94.2 499.6,92.1 499.7,91.7 499.9,93.9 500.0,94.0 500.2,94.0 500.4,91.6 500.5,92.6 500.7,94.1 500.8,91.8 501.0,91.7 501.2,93.8 501.3,94.7 501.5,91.1 501.6,89.2 501.8,90.7 502.0,91.3 502.1,92.4 502.3,93.4 502.4,92.4 502.6,91.7 502.8,92.8 502.9,91.3 503.1,92.5 503.2,91.7 503.4,96.2 503.6,93.7 503.7,91.4 503.9,91.2 504.1,92.0 504.2,90.3 504.4,91.6 504.5,91.5 504.7,93.7 504.9,91.9 505.0,91.4 505.2,90.7 505.3,90.9 505.5,92.4 505.7,92.2 505.8,94.0 506.0,91.6 506.1,93.9 506.3,92.8 506.5,92.4 506.6,89.7 506.8,90.7 506.9,93.4 507.1,94.3 507.3,92.7 507.4,93.4 507.6,91.8 507.8,91.9 507.9,91.5 508.1,93.7 508.2,92.8 508.4,92.0 508.6,91.9 508.7,93.1 508.9,92.8 509.0,91.2 509.2,94.7 509.4,92.7 509.5,92.3 509.7,94.3 509.8,93.7 510.0,92.1 510.2,93.0 510.3,90.8 510.5,91.4 510.6,89.1 510.8,93.9 511.0,89.6 511.1,93.1 511.3,91.1 511.5,90.8 511.6,91.9 511.8,92.5 511.9,93.0 512.1,94.6 512.3,92.6 512.4,93.3 512.6,91.3 512.7,93.1 512.9,92.3 513.1,91.4 513.2,91.9 513.4,92.0 513.5,92.3 513.7,92.6 513.9,91.3 514.0,91.0 514.2,93.0 514.3,89.6 514.5,91.1 514.7,94.1 514.8,88.2 515.0,91.0 515.2,92.9 515.3,89.6 515.5,95.5 515.6,88.3 515.8,93.9 516.0,94.1 516.1,93.1 516.3,91.5 516.4,92.3 516.6,90.6 516.8,93.0 516.9,90.2 517.1,91.4 517.2,93.2 517.4,90.2 517.6,91.2 517.7,92.0 517.9,89.8 518.0,93.4 518.2,92.2 518.4,89.6 518.5,91.6 518.7,90.6 518.9,90.7 519.0,91.7 519.2,90.6 519.3,93.0 519.5,90.6 519.7,93.0 519.8,91.5 520.0,92.8 520.1,90.8 520.3,90.8 520.5,89.9 520.6,92.3 520.8,92.8 520.9,94.5 521.1,93.3 521.3,91.8 521.4,91.1 521.6,92.0 521.7,91.4 521.9,93.5 522.1,92.7 522.2,90.2 522.4,90.4 522.5,93.3 522.7,91.8 522.9,91.0 523.0,93.0 523.2,90.7 523.4,90.9 523.5,90.6 523.7,88.4 523.8,92.5 524.0,89.5 524.2,90.4 524.3,90.1 524.5,92.2 524.6,91.1 524.8,91.2 525.0,88.7 525.1,91.0 525.3,89.0 525.4,91.6 525.6,91.6 525.8,91.1 525.9,94.0 526.1,91.8 526.2,91.9 526.4,91.2 526.6,90.7 526.7,92.4 526.9,92.6 527.1,89.1 527.2,92.5 527.4,91.7 527.5,92.4 527.7,91.6 527.9,89.1 528.0,89.2 528.2,93.6 528.3,91.3 528.5,88.8 528.7,91.4 528.8,90.3 529.0,88.1 529.1,87.5 529.3,88.5 529.5,91.2 529.6,90.7 529.8,90.4 529.9,91.2 530.1,91.7 530.3,87.7 530.4,90.3 530.6,89.5 530.8,88.9 530.9,89.9"/><polyline fill="none" stroke="#000" stroke-width="2.0" stroke-linejoin="round" points="49.7,183.2 49.9,183.0 50.0,181.6 50.2,182.8 50.3,185.8 50.5,182.1 50.7,181.3 50.8,183.7 51.0,184.1 51.1,183.9 51.3,182.0 51.5,184.6 51.6,182.4 51.8,182.0 52.0,182.6 52.1,183.2 52.3,184.2 52.4,184.1 52.6,183.3 52.8,184.5 52.9,183.4 53.1,184.4 53.2,181.7 53.4,181.5 53.6,184.3 53.7,181.7 53.9,183.0 54.0,183.2 54.2,182.8 54.4,182.8 54.5,185.0 54.7,180.3 54.8,184.4 55.0,186.1 55.2,183.4 55.3,183.3 55.5,184.2 55.7,185.6 55.8,181.9 56.0,183.5 56.1,183.1 56.3,184.0 56.5,183.5 56.6,184.1 56.8,182.8 56.9,183.4 57.1,182.5 57.3,182.5 57.4,183.2 57.6,183.2 57.7,181.9 57.9,185.2 58.1,183.2 58.2,181.7 58.4,184.7 58.5,182.4 58.7,184.0 58.9,183.3 59.0,183.6 59.2,183.6 59.3,182.7 59.5,183.4 59.7,185.8 59.8,180.7 60.0,183.4 60.2,183.9 60.3,182.1 60.5,181.7 60.6,185.9 60.8,182.9 61.0,185.8 61.1,184.0 61.3,183.4 61.4,183.9 61.6,184.1 61.8,184.8 61.9,183.9 62.1,183.5 62.2,183.6 62.4,185.0 62.6,184.3 62.7,182.1 62.9,182.6 63.0,183.7 63.2,182.6 63.4,182.9 63.5,182.2 63.7,183.0 63.9,183.9 64.0,184.5 64.2,183.4 64.3,185.8 64.5,183.3 64.7,187.2 64.8,184.5 65.0,183.9 65.1,182.7 65.3,179.9 65.5,183.2 65.6,183.6 65.8,185.7 65.9,181.7 66.1,185.6 66.3,183.0 66.4,184.2 66.6,180.3 66.7,183.5 66.9,182.9 67.1,184.2 67.2,183.5 67.4,182.0 67.6,184.5 67.7,184.2 67.9,184.1 68.0,184.6 68.2,184.7 68.4,183.3 68.5,181.7 68.7,181.7 68.8,185.0 69.0,184.2 69.2,183.5 69.3,182.8 69.5,183.4 69.6,183.4 69.8,182.9 70.0,182.5 70.1,185.9 70.3,183.6 70.4,182.6 70.6,181.8 70.8,182.5 70.9,184.2 71.1,184.3 71.3,183.1 71.4,183.4 71.6,183.0 71.7,182.0 71.9,184.9 72.1,183.8 72.2,186.3 72.4,182.4 72.5,183.2 72.7,184.4 72.9,183.0 73.0,181.7 73.2,182.2 73.3,183.5 73.5,183.8 73.7,183.2 73.8,184.5 74.0,184.5 74.1,183.7 74.3,183.4 74.5,183.0 74.6,184.0 74.8,184.4 75.0,183.4 75.1,183.9 75.3,182.9 75.4,181.6 75.6,182.1 75.8,184.3 75.9,183.9 76.1,185.3 76.2,183.4 76.4,184.4 76.6,184.9 76.7,184.5 76.9,182.6 77.0,183.1 77.2,183.5 77.4,182.1 77.5,183.9 77.7,184.6 77.8,182.8 78.0,185.7 78.2,183.0 78.3,183.1 78.5,183.0 78.6,182.5 78.8,183.8 79.0,183.4 79.1,185.3 79.3,184.1 79.5,184.0 79.6,183.1 79.8,181.6 79.9,183.2 80.1,182.3 80.3,184.5 80.4,183.3 80.6,185.3 80.7,184.2 80.9,184.3 81.1,183.6 81.2,183.6 81.4,184.1 81.5,184.4 81.7,182.5 81.9,183.9 82.0,186.5 82.2,183.2 82.3,183.0 82.5,182.5 82.7,181.6 82.8,184.8 83.0,183.4 83.2,183.7 83.3,185.6 83.5,186.4 83.6,182.3 83.8,184.6 84.0,184.1 84.1,183.8 84.3,183.9 84.4,183.3 84.6,185.2 84.8,184.1 84.9,183.7 85.1,184.8 85.2,184.4 85.4,183.9 85.6,183.7 85.7,185.4 85.9,183.9 86.0,183.2 86.2,182.3 86.4,182.9 86.5,182.1 86.7,183.5 86.9,183.6 87.0,180.9 87.2,183.3 87.3,184.1 87.5,183.5 87.7,182.2 87.8,184.9 88.0,182.5 88.1,181.8 88.3,182.0 88.5,183.3 88.6,184.5 88.8,184.7 88.9,183.6 89.1,181.9 89.3,182.5 89.4,182.2 89.6,183.1 89.7,181.2 89.9,183.5 90.1,184.1 90.2,183.1 90.4,183.9 90.6,182.2 90.7,181.6 90.9,182.6 91.0,184.7 91.2,184.6 91.4,182.8 91.5,184.8 91.7,182.9 91.8,185.1 92.0,183.9 92.2,182.8 92.3,184.3 92.5,182.4 92.6,182.2 92.8,181.6 93.0,183.6 93.1,183.3 93.3,183.2 93.4,182.8 93.6,185.0 93.8,182.8 93.9,182.4 94.1,184.8 94.3,185.0 94.4,183.7 94.6,181.2 94.7,182.6 94.9,184.1 95.1,183.3 95.2,185.2 95.4,181.7 95.5,184.1 95.7,182.6 95.9,184.9 96.0,183.2 96.2,184.6 96.3,182.5 96.5,181.6 96.7,182.0 96.8,182.6 97.0,182.1 97.1,184.8 97.3,184.9 97.5,183.6 97.6,182.1 97.8,183.2 97.9,182.5 98.1,185.1 98.3,183.7 98.4,183.9 98.6,182.8 98.8,180.9 98.9,182.4 99.1,182.0 99.2,183.8 99.4,183.4 99.6,182.3 99.7,182.8 99.9,185.2 100.0,182.1 100.2,182.2 100.4,183.0 100.5,182.5 100.7,182.8 100.8,183.9 101.0,185.4 101.2,181.2 101.3,183.3 101.5,183.4 101.6,183.2 101.8,183.1 102.0,182.9 102.1,184.5 102.3,182.7 102.5,183.1 102.6,183.3 102.8,183.4 102.9,183.1 103.1,184.5 103.3,183.3 103.4,183.5 103.6,183.2 103.7,182.1 103.9,182.3 104.1,182.0 104.2,183.5 104.4,182.4 104.5,182.0 104.7,183.6 104.9,183.9 105.0,181.2 105.2,185.3 105.3,183.3 105.5,183.2 105.7,184.6 105.8,183.4 106.0,182.6 106.2,185.9 106.3,182.0 106.5,183.2 106.6,184.3 106.8,182.0 107.0,183.2 107.1,183.8 107.3,186.2 107.4,182.2 107.6,183.2 107.8,184.1 107.9,183.4 108.1,181.8 108.2,183.8 108.4,183.4 108.6,183.8 108.7,184.7 108.9,184.5 109.0,183.8 109.2,183.7 109.4,182.0 109.5,183.1 109.7,183.6 109.9,182.8 110.0,183.4 110.2,182.3 110.3,185.1 110.5,185.9 110.7,182.8 110.8,183.8 111.0,183.0 111.1,184.8 111.3,183.8 111.5,183.4 111.6,183.0 111.8,183.4 111.9,182.1 112.1,184.1 112.3,182.4 112.4,183.9 112.6,183.4 112.7,184.6 112.9,183.3 113.1,184.5 113.2,182.2 113.4,184.0 113.6,183.0 113.7,183.5 113.9,183.4 114.0,184.4 114.2,180.8 114.4,183.7 114.5,181.5 114.7,184.7 114.8,180.9 115.0,182.1 115.2,181.3 115.3,185.3 115.5,181.7 115.6,183.4 115.8,182.6 116.0,181.1 116.1,182.9 116.3,184.1 116.4,183.0 116.6,184.4 116.8,182.8 116.9,183.3 117.1,182.8 117.2,183.7 117.4,185.6 117.6,183.7 117.7,183.5 117.9,182.5 118.1,182.4 118.2,185.0 118.4,181.9 118.5,182.2 118.7,183.1 118.9,182.8 119.0,185.6 119.2,180.4 119.3,183.7 119.5,184.1 119.7,181.9 119.8,182.5 120.0,183.8 120.1,185.2 120.3,182.1 120.5,181.4 120.6,184.4 120.8,185.1 120.9,182.9 121.1,180.6 121.3,185.0 121.4,183.0 121.6,184.6 121.8,183.2 121.9,182.8 122.1,182.7 122.2,185.0 122.4,185.0 122.6,180.7 122.7,182.1 122.9,185.4 123.0,182.8 123.2,181.6 123.4,183.3 123.5,183.1 123.7,183.1 123.8,182.7 124.0,182.9 124.2,182.7 124.3,183.7 124.5,182.3 124.6,182.9 124.8,183.1 125.0,184.8 125.1,183.7 125.3,183.1 125.5,183.9 125.6,183.7 125.8,184.6 125.9,183.9 126.1,185.4 126.3,184.9 126.4,183.2 126.6,182.7 126.7,184.3 126.9,183.9 127.1,183.1 127.2,181.5 127.4,181.0 127.5,183.7 127.7,184.2 127.9,184.2 128.0,181.7 128.2,184.5 128.3,182.6 128.5,183.7 128.7,183.7 128.8,182.3 129.0,182.5 129.2,180.7 129.3,182.1 129.5,181.0 129.6,183.8 129.8,183.3 130.0,184.3 130.1,183.7 130.3,182.5 130.4,183.6 130.6,182.8 130.8,184.0 130.9,183.6 131.1,182.0 131.2,183.2 131.4,183.3 131.6,182.8 131.7,184.3 131.9,185.3 132.0,182.8 132.2,182.8 132.4,180.5 132.5,183.1 132.7,182.7 132.9,180.6 133.0,183.6 133.2,183.9 133.3,182.3 133.5,182.8 133.7,182.0 133.8,184.1 134.0,181.4 134.1,182.8 134.3,185.6 134.5,183.3 134.6,183.8 134.8,183.0 134.9,181.8 135.1,183.2 135.3,183.7 135.4,182.0 135.6,183.6 135.7,184.7 135.9,184.5 136.1,181.3 136.2,182.0 136.4,181.2 136.5,184.5 136.7,183.9 136.9,184.1 137.0,182.1 137.2,181.8 137.4,183.3 137.5,183.3 137.7,182.2 137.8,183.4 138.0,184.0 138.2,183.5 138.3,181.9 138.5,180.6 138.6,182.9 138.8,183.4 139.0,182.9 139.1,182.7 139.3,182.3 139.4,184.1 139.6,183.1 139.8,183.3 139.9,182.0 140.1,182.4 140.2,183.4 140.4,182.0 140.6,181.6 140.7,182.8 140.9,184.6 141.1,183.4 141.2,184.9 141.4,183.0 141.5,182.8 141.7,181.5 141.9,182.5 142.0,184.9 142.2,183.6 142.3,184.1 142.5,184.0 142.7,183.2 142.8,182.9 143.0,183.3 143.1,184.0 143.3,183.7 143.5,183.8 143.6,183.3 143.8,182.2 143.9,182.8 144.1,182.0 144.3,184.4 144.4,180.6 144.6,182.9 144.8,186.1 144.9,182.7 145.1,181.8 145.2,183.1 145.4,184.7 145.6,182.9 145.7,183.9 145.9,183.3 146.0,182.7 146.2,187.0 146.4,183.2 146.5,182.5 146.7,182.5 146.8,183.6 147.0,183.6 147.2,184.1 147.3,183.3 147.5,181.4 147.6,183.8 147.8,182.7 148.0,182.8 148.1,181.3 148.3,182.4 148.5,182.2 148.6,183.1 148.8,181.3 148.9,183.2 149.1,183.3 149.3,181.7 149.4,182.3 149.6,182.1 149.7,184.2 149.9,180.0 150.1,182.7 150.2,181.1 150.4,182.6 150.5,184.1 150.7,182.3 150.9,183.3 151.0,182.1 151.2,185.5 151.3,184.2 151.5,184.5 151.7,181.5 151.8,181.7 152.0,184.4 152.2,182.8 152.3,182.8 152.5,183.5 152.6,181.5 152.8,184.0 153.0,183.1 153.1,183.6 153.3,182.2 153.4,183.7 153.6,182.2 153.8,184.2 153.9,184.4 154.1,184.2 154.2,183.7 154.4,183.8 154.6,179.7 154.7,184.1 154.9,182.7 155.0,183.2 155.2,182.7 155.4,181.3 155.5,182.4 155.7,183.8 155.8,184.8 156.0,182.3 156.2,181.9 156.3,184.8 156.5,181.9 156.7,185.6 156.8,183.1 157.0,181.9 157.1,184.2 157.3,185.1 157.5,181.2 157.6,184.9 157.8,182.6 157.9,184.8 158.1,182.5 158.3,181.0 158.4,183.6 158.6,184.1 158.7,185.6 158.9,185.1 159.1,183.8 159.2,182.7 159.4,182.3 159.5,182.6 159.7,181.9 159.9,182.6 160.0,179.8 160.2,183.2 160.4,182.9 160.5,186.1 160.7,183.9 160.8,182.3 161.0,183.6 161.2,181.4 161.3,182.2 161.5,180.6 161.6,184.7 161.8,183.6 162.0,181.5 162.1,182.8 162.3,184.1 162.4,183.5 162.6,183.4 162.8,181.8 162.9,182.1 163.1,183.0 163.2,184.0 163.4,181.9 163.6,181.5 163.7,184.3 163.9,181.7 164.1,184.2 164.2,183.2 164.4,183.9 164.5,185.0 164.7,183.7 164.9,183.8 165.0,181.7 165.2,182.0 165.3,183.6 165.5,184.7 165.7,184.6 165.8,185.7 166.0,183.2 166.1,183.1 166.3,184.1 166.5,182.8 166.6,182.7 166.8,181.5 166.9,184.0 167.1,181.4 167.3,183.4 167.4,181.0 167.6,184.1 167.8,181.5 167.9,183.8 168.1,180.8 168.2,182.2 168.4,184.2 168.6,181.7 168.7,182.8 168.9,182.1 169.0,179.8 169.2,183.1 169.4,183.2 169.5,181.3 169.7,183.4 169.8,181.7 170.0,181.4 170.2,182.7 170.3,181.8 170.5,185.5 170.6,180.7 170.8,183.6 171.0,183.9 171.1,180.2 171.3,180.5 171.5,183.3 171.6,182.0 171.8,183.1 171.9,184.0 172.1,182.1 172.3,181.3 172.4,179.1 172.6,182.8 172.7,181.4 172.9,183.0 173.1,182.8 173.2,180.8 173.4,184.7 173.5,183.9 173.7,183.6 173.9,181.0 174.0,182.0 174.2,181.8 174.3,182.0 174.5,181.1 174.7,183.0 174.8,182.8 175.0,182.9 175.1,181.8 175.3,184.1 175.5,182.7 175.6,178.9 175.8,181.6 176.0,182.3 176.1,183.6 176.3,182.0 176.4,182.1 176.6,181.5 176.8,183.2 176.9,181.8 177.1,181.6 177.2,181.4 177.4,183.0 177.6,181.6 177.7,180.1 177.9,183.1 178.0,181.4 178.2,182.7 178.4,182.7 178.5,183.8 178.7,183.6 178.8,181.5 179.0,182.0 179.2,180.5 179.3,184.3 179.5,182.7 179.7,183.9 179.8,181.7 180.0,179.4 180.1,184.1 180.3,182.2 180.5,182.2 180.6,182.1 180.8,182.9 180.9,182.7 181.1,179.9 181.3,183.4 181.4,181.2 181.6,181.3 181.7,184.2 181.9,183.1 182.1,181.4 182.2,179.4 182.4,182.0 182.5,182.5 182.7,181.7 182.9,180.1 183.0,180.7 183.2,180.0 183.4,182.0 183.5,182.7 183.7,183.0 183.8,180.6 184.0,181.9 184.2,182.3 184.3,180.8 184.5,181.3 184.6,184.3 184.8,181.7 185.0,182.6 185.1,180.7 185.3,181.4 185.4,178.9 185.6,181.2 185.8,182.8 185.9,184.0 186.1,182.7 186.2,182.0 186.4,181.1 186.6,180.2 186.7,180.7 186.9,181.7 187.1,179.8 187.2,182.1 187.4,179.4 187.5,178.3 187.7,179.3 187.9,178.3 188.0,178.7 188.2,182.1 188.3,180.2 188.5,180.7 188.7,182.0 188.8,182.1 189.0,179.5 189.1,182.1 189.3,180.7 189.5,180.1 189.6,180.6 189.8,177.9 189.9,178.8 190.1,179.7 190.3,180.6 190.4,179.2 190.6,179.4 190.8,181.0 190.9,181.6 191.1,180.6 191.2,181.2 191.4,178.7 191.6,178.8 191.7,179.6 191.9,178.6 192.0,178.3 192.2,181.4 192.4,178.6 192.5,177.3 192.7,179.5 192.8,181.4 193.0,178.7 193.2,180.4 193.3,177.8 193.5,177.6 193.6,177.2 193.8,178.0 194.0,181.0 194.1,176.3 194.3,180.6 194.4,176.4 194.6,177.5 194.8,179.1 194.9,178.7 195.1,178.1 195.3,175.0 195.4,178.1 195.6,175.9 195.7,181.5 195.9,177.1 196.1,177.6 196.2,175.5 196.4,176.5 196.5,175.1 196.7,178.7 196.9,176.7 197.0,178.0 197.2,175.9 197.3,176.2 197.5,179.0 197.7,175.4 197.8,174.0 198.0,177.5 198.1,175.0 198.3,176.1 198.5,178.3 198.6,175.5 198.8,178.3 199.0,175.7 199.1,179.3 199.3,179.0 199.4,176.1 199.6,176.5 199.8,175.5 199.9,177.2 200.1,178.8 200.2,174.6 200.4,178.4 200.6,174.9 200.7,175.6 200.9,174.2 201.0,180.5 201.2,177.2 201.4,177.6 201.5,176.1 201.7,179.0 201.8,173.9 202.0,177.4 202.2,180.9 202.3,176.8 202.5,177.5 202.7,178.6 202.8,176.3 203.0,177.7 203.1,179.2 203.3,178.1 203.5,178.4 203.6,177.3 203.8,178.4 203.9,178.0 204.1,180.3 204.3,179.2 204.4,177.7 204.6,174.4 204.7,179.3 204.9,179.4 205.1,176.9 205.2,175.3 205.4,176.7 205.5,179.9 205.7,176.9 205.9,177.9 206.0,179.0 206.2,180.5 206.4,178.7 206.5,178.6 206.7,178.0 206.8,181.3 207.0,180.5 207.2,178.8 207.3,176.9 207.5,177.9 207.6,180.0 207.8,178.1 208.0,180.5 208.1,179.8 208.3,179.7 208.4,180.3 208.6,180.1 208.8,178.1 208.9,178.9 209.1,182.9 209.2,177.7 209.4,178.8 209.6,181.1 209.7,179.3 209.9,178.4 210.1,177.7 210.2,180.4 210.4,181.2 210.5,181.7 210.7,179.8 210.9,181.3 211.0,178.3 211.2,180.1 211.3,178.9 211.5,180.1 211.7,181.0 211.8,181.4 212.0,178.5 212.1,181.8 212.3,179.3 212.5,178.5 212.6,179.7 212.8,177.9 212.9,180.0 213.1,180.4 213.3,179.8 213.4,180.8 213.6,179.6 213.7,180.1 213.9,178.0 214.1,180.1 214.2,178.9 214.4,179.5 214.6,180.0 214.7,180.4 214.9,177.8 215.0,177.9 215.2,179.7 215.4,180.8 215.5,180.7 215.7,181.4 215.8,182.0 216.0,180.9 216.2,180.1 216.3,178.7 216.5,178.8 216.6,179.5 216.8,180.5 217.0,180.5 217.1,180.1 217.3,179.9 217.4,181.0 217.6,180.4 217.8,180.5 217.9,180.5 218.1,179.3 218.3,178.6 218.4,180.8 218.6,180.7 218.7,179.7 218.9,179.5 219.1,183.3 219.2,178.9 219.4,179.7 219.5,180.4 219.7,178.3 219.9,180.1 220.0,182.5 220.2,181.3 220.3,180.8 220.5,180.8 220.7,180.0 220.8,181.2 221.0,179.6 221.1,179.2 221.3,179.9 221.5,181.1 221.6,180.2 221.8,180.7 222.0,176.8 222.1,181.4 222.3,183.0 222.4,181.6 222.6,179.1 222.8,178.3 222.9,179.9 223.1,178.0 223.2,180.5 223.4,178.6 223.6,180.8 223.7,181.4 223.9,176.3 224.0,179.7 224.2,178.2 224.4,177.1 224.5,178.2 224.7,178.8 224.8,180.6 225.0,176.8 225.2,180.5 225.3,182.0 225.5,179.8 225.7,179.7 225.8,178.8 226.0,177.0 226.1,179.5 226.3,179.2 226.5,179.7 226.6,182.5 226.8,179.6 226.9,179.1 227.1,180.8 227.3,176.3 227.4,176.5 227.6,177.7 227.7,177.2 227.9,179.2 228.1,177.6 228.2,180.7 228.4,180.3 228.5,179.1 228.7,177.3 228.9,178.8 229.0,179.0 229.2,176.0 229.4,178.2 229.5,178.7 229.7,177.9 229.8,180.0 230.0,179.4 230.2,176.1 230.3,177.5 230.5,176.0 230.6,178.2 230.8,175.8 231.0,178.6 231.1,177.8 231.3,178.7 231.4,176.8 231.6,174.7 231.8,179.8 231.9,176.7 232.1,179.2 232.2,177.6 232.4,178.0 232.6,179.8 232.7,177.4 232.9,179.1 233.0,174.4 233.2,178.2 233.4,176.4 233.5,176.6 233.7,176.9 233.9,177.4 234.0,179.5 234.2,173.9 234.3,177.0 234.5,175.8 234.7,178.8 234.8,176.3 235.0,177.7 235.1,176.4 235.3,178.1 235.5,178.7 235.6,176.5 235.8,177.3 235.9,175.0 236.1,177.8 236.3,178.7 236.4,176.5 236.6,179.2 236.7,174.2 236.9,174.6 237.1,175.4 237.2,176.9 237.4,177.8 237.6,177.7 237.7,177.8 237.9,179.1 238.0,177.3 238.2,176.1 238.4,176.2 238.5,181.5 238.7,174.7 238.8,178.1 239.0,180.7 239.2,179.3 239.3,177.3 239.5,178.7 239.6,180.0 239.8,180.6 240.0,177.5 240.1,180.1 240.3,179.4 240.4,180.7 240.6,181.2 240.8,178.7 240.9,177.2 241.1,179.9 241.3,182.0 241.4,180.5 241.6,179.9 241.7,183.1 241.9,178.2 242.1,181.1 242.2,179.0 242.4,180.0 242.5,180.1 242.7,182.2 242.9,178.7 243.0,179.4 243.2,177.9 243.3,180.9 243.5,179.7 243.7,181.0 243.8,178.9 244.0,180.0 244.1,182.0 244.3,180.3 244.5,181.5 244.6,181.4 244.8,180.2 245.0,178.6 245.1,182.2 245.3,181.1 245.4,182.3 245.6,178.2 245.8,178.7 245.9,178.1 246.1,179.9 246.2,182.5 246.4,181.9 246.6,181.1 246.7,181.4 246.9,182.3 247.0,180.9 247.2,181.9 247.4,181.6 247.5,178.5 247.7,180.9 247.8,183.3 248.0,181.0 248.2,181.3 248.3,180.7 248.5,180.9 248.7,183.1 248.8,181.3 249.0,180.3 249.1,177.6 249.3,181.0 249.5,179.1 249.6,179.4 249.8,182.8 249.9,182.7 250.1,179.3 250.3,183.0 250.4,182.5 250.6,180.9 250.7,182.9 250.9,179.8 251.1,180.4 251.2,180.1 251.4,180.5 251.5,183.2 251.7,180.3 251.9,180.6 252.0,180.8 252.2,182.3 252.3,181.7 252.5,183.2 252.7,181.2 252.8,180.5 253.0,181.5 253.2,182.2 253.3,181.0 253.5,182.5 253.6,184.5 253.8,181.5 254.0,182.3 254.1,184.0 254.3,181.4 254.4,181.2 254.6,180.9 254.8,182.8 254.9,182.9 255.1,182.1 255.2,182.4 255.4,183.9 255.6,183.4 255.7,180.6 255.9,182.3 256.0,182.5 256.2,183.3 256.4,182.1 256.5,181.6 256.7,181.8 256.9,180.1 257.0,182.4 257.2,181.7 257.3,183.0 257.5,181.1 257.7,181.9 257.8,181.2 258.0,181.1 258.1,183.3 258.3,181.9 258.5,183.0 258.6,181.1 258.8,182.6 258.9,180.4 259.1,181.9 259.3,181.9 259.4,183.2 259.6,182.7 259.7,182.3 259.9,183.6 260.1,182.8 260.2,183.2 260.4,183.5 260.6,182.5 260.7,182.2 260.9,183.0 261.0,182.1 261.2,183.1 261.4,184.0 261.5,183.7 261.7,182.1 261.8,181.0 262.0,182.5 262.2,182.5 262.3,184.0 262.5,182.1 262.6,182.4 262.8,183.6 263.0,182.0 263.1,182.5 263.3,184.8 263.4,184.5 263.6,183.5 263.8,183.0 263.9,181.5 264.1,183.4 264.3,182.8 264.4,183.0 264.6,182.1 264.7,182.7 264.9,182.5 265.1,183.1 265.2,184.5 265.4,183.2 265.5,180.7 265.7,181.5 265.9,180.8 266.0,181.8 266.2,183.4 266.3,183.2 266.5,182.0 266.7,183.1 266.8,181.8 267.0,181.0 267.1,181.0 267.3,181.7 267.5,184.5 267.6,181.1 267.8,184.3 268.0,184.4 268.1,182.6 268.3,182.7 268.4,182.0 268.6,182.8 268.8,183.6 268.9,182.8 269.1,184.1 269.2,184.3 269.4,183.2 269.6,183.2 269.7,182.8 269.9,183.3 270.0,181.5 270.2,183.3 270.4,183.1 270.5,181.8 270.7,185.5 270.8,181.7 271.0,181.8 271.2,183.2 271.3,180.5 271.5,181.9 271.6,181.0 271.8,181.7 272.0,182.7 272.1,183.3 272.3,184.2 272.5,183.9 272.6,184.3 272.8,183.6 272.9,182.3 273.1,184.3 273.3,182.3 273.4,182.1 273.6,184.8 273.7,183.9 273.9,183.2 274.1,183.8 274.2,184.0 274.4,181.2 274.5,182.8 274.7,181.5 274.9,183.1 275.0,182.1 275.2,184.6 275.3,183.6 275.5,181.9 275.7,182.9 275.8,181.5 276.0,183.0 276.2,183.6 276.3,183.3 276.5,180.6 276.6,182.5 276.8,183.6 277.0,183.3 277.1,184.4 277.3,181.4 277.4,183.6 277.6,182.2 277.8,183.2 277.9,183.5 278.1,183.8 278.2,182.3 278.4,183.2 278.6,181.5 278.7,181.3 278.9,183.7 279.0,182.9 279.2,181.0 279.4,181.9 279.5,183.0 279.7,184.9 279.9,184.3 280.0,184.0 280.2,180.8 280.3,182.9 280.5,183.6 280.7,183.5 280.8,183.5 281.0,182.7 281.1,185.2 281.3,184.8 281.5,182.9 281.6,181.8 281.8,185.5 281.9,182.3 282.1,184.5 282.3,185.4 282.4,181.9 282.6,183.4 282.7,182.6 282.9,183.7 283.1,183.4 283.2,185.4 283.4,183.8 283.6,183.0 283.7,184.4 283.9,182.7 284.0,182.6 284.2,185.8 284.4,182.0 284.5,182.4 284.7,183.1 284.8,181.8 285.0,180.5 285.2,184.3 285.3,182.1 285.5,182.4 285.6,182.6 285.8,181.9 286.0,181.7 286.1,183.3 286.3,186.0 286.4,184.0 286.6,184.0 286.8,181.2 286.9,183.0 287.1,181.6 287.3,184.0 287.4,182.8 287.6,183.1 287.7,183.0 287.9,182.4 288.1,181.2 288.2,183.8 288.4,181.4 288.5,181.6 288.7,182.7 288.9,182.2 289.0,183.4 289.2,184.3 289.3,183.4 289.5,183.3 289.7,183.1 289.8,184.1 290.0,180.8 290.1,183.5 290.3,182.0 290.5,181.6 290.6,183.1 290.8,182.6 290.9,183.8 291.1,184.4 291.3,180.3 291.4,183.0 291.6,185.5 291.8,184.2 291.9,184.9 292.1,183.2 292.2,181.4 292.4,181.7 292.6,184.0 292.7,184.3 292.9,182.2 293.0,182.8 293.2,183.4 293.4,181.0 293.5,182.7 293.7,185.1 293.8,185.8 294.0,183.0 294.2,185.3 294.3,182.5 294.5,182.1 294.6,180.4 294.8,184.3 295.0,182.7 295.1,186.0 295.3,183.5 295.5,183.4 295.6,180.9 295.8,184.9 295.9,182.7 296.1,182.9 296.3,180.4 296.4,184.3 296.6,184.3 296.7,182.4 296.9,183.2 297.1,183.6 297.2,184.3 297.4,183.3 297.5,185.2 297.7,182.8 297.9,182.4 298.0,182.6 298.2,180.1 298.3,182.2 298.5,184.4 298.7,183.5 298.8,182.1 299.0,183.6 299.2,180.7 299.3,182.8 299.5,183.8 299.6,184.0 299.8,182.2 300.0,184.3 300.1,185.4 300.3,182.6 300.4,184.1 300.6,181.3 300.8,180.8 300.9,183.9 301.1,183.2 301.2,183.4 301.4,182.5 301.6,182.8 301.7,184.1 301.9,185.2 302.0,182.9 302.2,181.2 302.4,184.7 302.5,183.9 302.7,184.0 302.9,183.4 303.0,186.0 303.2,183.3 303.3,183.8 303.5,180.9 303.7,182.5 303.8,182.3 304.0,183.1 304.1,183.6 304.3,182.3 304.5,185.3 304.6,181.9 304.8,182.6 304.9,183.5 305.1,181.7 305.3,183.9 305.4,183.9 305.6,182.8 305.7,185.5 305.9,183.3 306.1,183.5 306.2,182.0 306.4,181.1 306.6,182.4 306.7,182.8 306.9,182.6 307.0,184.1 307.2,180.3 307.4,181.8 307.5,181.0 307.7,184.8 307.8,182.5 308.0,182.6 308.2,181.8 308.3,184.3 308.5,182.7 308.6,183.5 308.8,180.7 309.0,184.6 309.1,183.7 309.3,183.9 309.4,184.7 309.6,183.0 309.8,183.0 309.9,184.1 310.1,183.7 310.2,182.9 310.4,183.2 310.6,182.6 310.7,184.1 310.9,184.3 311.1,183.2 311.2,185.5 311.4,181.3 311.5,182.9 311.7,185.3 311.9,182.7 312.0,181.3 312.2,184.9 312.3,183.9 312.5,181.8 312.7,184.1 312.8,182.0 313.0,181.6 313.1,183.0 313.3,182.6 313.5,181.9 313.6,182.8 313.8,182.0 313.9,183.3 314.1,183.2 314.3,184.1 314.4,182.7 314.6,181.6 314.8,181.6 314.9,182.9 315.1,185.1 315.2,184.2 315.4,182.4 315.6,184.4 315.7,181.8 315.9,184.4 316.0,182.7 316.2,184.1 316.4,184.0 316.5,182.9 316.7,183.6 316.8,181.9 317.0,183.1 317.2,184.5 317.3,188.2 317.5,184.1 317.6,183.3 317.8,182.0 318.0,184.5 318.1,181.2 318.3,182.2 318.5,183.7 318.6,181.8 318.8,185.1 318.9,184.5 319.1,182.5 319.3,182.5 319.4,181.6 319.6,181.5 319.7,183.8 319.9,184.0 320.1,183.6 320.2,183.5 320.4,182.5 320.5,183.7 320.7,181.4 320.9,183.2 321.0,185.0 321.2,184.8 321.3,182.7 321.5,182.8 321.7,184.9 321.8,185.4 322.0,181.4 322.2,182.7 322.3,183.5 322.5,184.7 322.6,182.2 322.8,184.0 323.0,182.9 323.1,186.1 323.3,183.8 323.4,183.1 323.6,182.8 323.8,184.5 323.9,184.1 324.1,181.9 324.2,183.5 324.4,181.6 324.6,182.3 324.7,181.7 324.9,181.6 325.0,182.4 325.2,182.0 325.4,183.9 325.5,184.2 325.7,182.9 325.9,181.9 326.0,184.2 326.2,180.8 326.3,180.9 326.5,184.1 326.7,184.0 326.8,184.4 327.0,183.0 327.1,181.7 327.3,182.6 327.5,183.9 327.6,182.3 327.8,182.4 327.9,181.5 328.1,181.8 328.3,184.3 328.4,183.8 328.6,181.8 328.7,181.9 328.9,182.6 329.1,183.9 329.2,181.8 329.4,183.0 329.5,180.6 329.7,181.7 329.9,183.8 330.0,184.3 330.2,181.8 330.4,182.3 330.5,184.2 330.7,182.8 330.8,182.6 331.0,183.9 331.2,183.5 331.3,184.6 331.5,184.2 331.6,182.5 331.8,183.1 332.0,183.2 332.1,181.6 332.3,182.1 332.4,184.4 332.6,181.3 332.8,184.5 332.9,183.6 333.1,183.1 333.2,183.9 333.4,183.8 333.6,184.7 333.7,182.8 333.9,183.0 334.1,183.0 334.2,185.5 334.4,184.4 334.5,182.1 334.7,182.8 334.9,182.4 335.0,183.3 335.2,183.5 335.3,186.0 335.5,181.0 335.7,184.5 335.8,183.8 336.0,182.4 336.1,183.1 336.3,182.7 336.5,183.3 336.6,184.5 336.8,181.4 336.9,184.8 337.1,182.8 337.3,185.1 337.4,183.8 337.6,184.8 337.8,183.9 337.9,184.6 338.1,183.3 338.2,182.3 338.4,184.1 338.6,184.1 338.7,185.8 338.9,180.8 339.0,183.0 339.2,184.5 339.4,181.7 339.5,183.0 339.7,185.8 339.8,185.0 340.0,182.2 340.2,185.0 340.3,184.7 340.5,184.2 340.6,183.7 340.8,183.6 341.0,182.2 341.1,182.6 341.3,184.2 341.5,183.4 341.6,185.5 341.8,182.9 341.9,180.4 342.1,182.9 342.3,183.6 342.4,183.7 342.6,183.4 342.7,182.3 342.9,185.1 343.1,182.5 343.2,184.1 343.4,182.9 343.5,181.8 343.7,185.0 343.9,180.2 344.0,182.3 344.2,183.8 344.3,182.9 344.5,184.2 344.7,183.2 344.8,182.7 345.0,185.9 345.2,183.0 345.3,183.1 345.5,182.0 345.6,182.4 345.8,184.1 346.0,184.0 346.1,183.3 346.3,182.4 346.4,184.1 346.6,181.2 346.8,182.9 346.9,183.0 347.1,182.3 347.2,183.5 347.4,182.5 347.6,182.3 347.7,185.5 347.9,184.2 348.0,184.7 348.2,183.4 348.4,184.5 348.5,184.2 348.7,184.8 348.8,186.2 349.0,183.0 349.2,183.6 349.3,183.2 349.5,179.1 349.7,181.6 349.8,183.3 350.0,184.1 350.1,182.6 350.3,184.7 350.5,184.9 350.6,182.8 350.8,185.0 350.9,185.4 351.1,183.9 351.3,182.1 351.4,185.1 351.6,183.1 351.7,182.9 351.9,183.5 352.1,182.7 352.2,184.6 352.4,184.3 352.5,184.8 352.7,184.0 352.9,182.4 353.0,183.1 353.2,184.4 353.4,182.8 353.5,186.8 353.7,183.0 353.8,182.6 354.0,184.7 354.2,184.2 354.3,183.3 354.5,183.0 354.6,183.8 354.8,184.3 355.0,184.2 355.1,183.0 355.3,183.8 355.4,184.3 355.6,184.2 355.8,179.6 355.9,182.2 356.1,182.4 356.2,183.0 356.4,183.5 356.6,184.4 356.7,184.1 356.9,183.2 357.1,183.3 357.2,185.4 357.4,182.6 357.5,183.7 357.7,185.2 357.9,183.7 358.0,180.9 358.2,183.8 358.3,182.9 358.5,183.2 358.7,184.6 358.8,183.9 359.0,183.0 359.1,184.4 359.3,183.8 359.5,183.4 359.6,183.7 359.8,183.6 359.9,182.9 360.1,182.8 360.3,183.4 360.4,182.2 360.6,181.8 360.8,184.9 360.9,183.0 361.1,183.3 361.2,183.2 361.4,183.4 361.6,183.4 361.7,183.4 361.9,182.4 362.0,184.4 362.2,182.5 362.4,184.6 362.5,181.0 362.7,182.0 362.8,184.5 363.0,183.1 363.2,182.5 363.3,183.8 363.5,182.1 363.6,183.4 363.8,180.7 364.0,182.8 364.1,182.5 364.3,184.0 364.5,184.4 364.6,182.3 364.8,185.3 364.9,182.6 365.1,180.8 365.3,180.5 365.4,185.2 365.6,183.2 365.7,182.5 365.9,182.4 366.1,182.0 366.2,185.0 366.4,183.2 366.5,185.5 366.7,183.1 366.9,180.5 367.0,184.3 367.2,182.9 367.3,183.0 367.5,185.2 367.7,183.0 367.8,184.7 368.0,183.3 368.1,182.4 368.3,183.9 368.5,182.6 368.6,184.8 368.8,184.5 369.0,183.4 369.1,184.1 369.3,184.0 369.4,183.0 369.6,184.4 369.8,183.0 369.9,184.1 370.1,182.2 370.2,183.4 370.4,183.8 370.6,182.4 370.7,182.8 370.9,182.7 371.0,184.2 371.2,182.5 371.4,183.9 371.5,185.2 371.7,183.8 371.8,181.4 372.0,183.5 372.2,184.6 372.3,183.0 372.5,184.7 372.7,184.1 372.8,183.8 373.0,183.0 373.1,182.7 373.3,183.0 373.5,183.4 373.6,184.0 373.8,183.8 373.9,183.0 374.1,183.4 374.3,183.8 374.4,181.4 374.6,182.4 374.7,182.4 374.9,183.1 375.1,183.0 375.2,183.0 375.4,182.3 375.5,184.1 375.7,183.7 375.9,181.4 376.0,183.4 376.2,182.0 376.4,185.4 376.5,182.8 376.7,182.9 376.8,183.4 377.0,183.1 377.2,183.3 377.3,185.2 377.5,183.6 377.6,184.3 377.8,184.7 378.0,182.2 378.1,185.4 378.3,184.2 378.4,184.5 378.6,182.3 378.8,184.3 378.9,183.8 379.1,182.7 379.2,186.1 379.4,184.0 379.6,183.1 379.7,183.6 379.9,184.4 380.1,184.7 380.2,184.0 380.4,184.8 380.5,185.1 380.7,181.8 380.9,182.8 381.0,182.2 381.2,183.5 381.3,185.1 381.5,184.1 381.7,182.1 381.8,183.0 382.0,184.6 382.1,182.7 382.3,183.2 382.5,183.7 382.6,181.1 382.8,184.3 382.9,183.7 383.1,184.0 383.3,182.2 383.4,182.4 383.6,182.6 383.8,183.6 383.9,183.4 384.1,183.5 384.2,185.5 384.4,184.9 384.6,182.5 384.7,182.5 384.9,185.4 385.0,183.0 385.2,185.0 385.4,185.3 385.5,182.7 385.7,183.0 385.8,183.4 386.0,182.3 386.2,182.1 386.3,182.8 386.5,184.4 386.6,182.8 386.8,183.1 387.0,182.8 387.1,181.7 387.3,185.1 387.4,180.5 387.6,182.5 387.8,184.0 387.9,181.6 388.1,184.1 388.3,184.8 388.4,182.3 388.6,183.6 388.7,182.0 388.9,183.9 389.1,183.4 389.2,183.6 389.4,185.0 389.5,183.9 389.7,184.9 389.9,184.1 390.0,181.9 390.2,183.6 390.3,183.9 390.5,181.6 390.7,184.9 390.8,183.4 391.0,183.8 391.1,182.2 391.3,183.4 391.5,183.7 391.6,182.9 391.8,183.4 392.0,180.7 392.1,185.0 392.3,182.0 392.4,180.7 392.6,182.1 392.8,182.3 392.9,184.0 393.1,182.2 393.2,183.6 393.4,182.1 393.6,186.0 393.7,184.0 393.9,185.7 394.0,182.1 394.2,184.1 394.4,182.1 394.5,184.0 394.7,184.1 394.8,181.4 395.0,181.9 395.2,181.9 395.3,181.5 395.5,182.4 395.7,182.1 395.8,181.5 396.0,183.4 396.1,183.9 396.3,181.7 396.5,182.6 396.6,183.3 396.8,183.0 396.9,182.4 397.1,184.2 397.3,184.3 397.4,184.1 397.6,183.0 397.7,185.7 397.9,185.4 398.1,182.8 398.2,183.1 398.4,184.7 398.5,182.3 398.7,183.7 398.9,183.3 399.0,182.4 399.2,183.0 399.4,181.3 399.5,182.6 399.7,180.8 399.8,186.0 400.0,185.0 400.2,184.7 400.3,183.6 400.5,184.4 400.6,184.7 400.8,184.4 401.0,184.3 401.1,182.1 401.3,183.7 401.4,182.5 401.6,181.7 401.8,181.8 401.9,183.7 402.1,184.4 402.2,181.5 402.4,185.3 402.6,184.9 402.7,182.7 402.9,182.6 403.1,183.0 403.2,184.3 403.4,182.6 403.5,181.7 403.7,183.5 403.9,180.6 404.0,183.3 404.2,184.5 404.3,183.4 404.5,184.0 404.7,183.7 404.8,183.9 405.0,183.2 405.1,182.0 405.3,182.7 405.5,182.9 405.6,184.5 405.8,185.0 405.9,183.5 406.1,182.0 406.3,182.0 406.4,182.7 406.6,184.6 406.7,183.3 406.9,182.8 407.1,181.9 407.2,184.0 407.4,183.2 407.6,182.8 407.7,183.0 407.9,184.9 408.0,182.6 408.2,184.9 408.4,184.3 408.5,182.8 408.7,183.9 408.8,182.6 409.0,181.7 409.2,182.4 409.3,181.5 409.5,183.3 409.6,182.7 409.8,183.3 410.0,183.7 410.1,178.7 410.3,183.0 410.4,180.3 410.6,182.8 410.8,181.4 410.9,182.6 411.1,184.2 411.3,180.3 411.4,182.7 411.6,182.3 411.7,180.0 411.9,183.2 412.1,182.4 412.2,181.7 412.4,181.4 412.5,186.4 412.7,181.8 412.9,180.0 413.0,181.1 413.2,181.8 413.3,181.7 413.5,182.1 413.7,180.8 413.8,182.9 414.0,181.5 414.1,180.4 414.3,181.0 414.5,181.6 414.6,183.2 414.8,182.7 415.0,181.6 415.1,182.0 415.3,182.3 415.4,184.6 415.6,181.2 415.8,182.6 415.9,182.9 416.1,180.7 416.2,182.2 416.4,182.1 416.6,181.3 416.7,182.6 416.9,183.2 417.0,183.4 417.2,181.6 417.4,182.1 417.5,185.0 417.7,180.4 417.8,182.2 418.0,183.0 418.2,182.1 418.3,182.7 418.5,182.1 418.7,182.9 418.8,183.6 419.0,181.6 419.1,182.2 419.3,181.8 419.5,181.4 419.6,181.9 419.8,180.5 419.9,182.9 420.1,184.2 420.3,184.2 420.4,183.6 420.6,180.7 420.7,184.0 420.9,181.1 421.1,182.0 421.2,184.4 421.4,180.7 421.5,183.2 421.7,182.5 421.9,181.9 422.0,181.0 422.2,182.7 422.4,181.6 422.5,183.5 422.7,183.8 422.8,180.5 423.0,181.6 423.2,181.9 423.3,180.8 423.5,180.9 423.6,182.4 423.8,182.1 424.0,180.3 424.1,181.7 424.3,183.1 424.4,180.9 424.6,181.3 424.8,184.5 424.9,184.2 425.1,180.5 425.2,180.8 425.4,183.0 425.6,181.1 425.7,182.3 425.9,182.0 426.0,183.3 426.2,179.5 426.4,179.9 426.5,181.1 426.7,184.0 426.9,182.5 427.0,180.6 427.2,183.4 427.3,183.6 427.5,182.5 427.7,182.4 427.8,183.3 428.0,184.3 428.1,183.0 428.3,183.5 428.5,182.8 428.6,182.4 428.8,181.7 428.9,183.2 429.1,182.5 429.3,182.6 429.4,184.1 429.6,183.5 429.7,184.0 429.9,181.0 430.1,183.7 430.2,182.3 430.4,182.0 430.6,182.0 430.7,184.5 430.9,184.0 431.0,182.2 431.2,181.6 431.4,183.1 431.5,182.5 431.7,185.1 431.8,181.3 432.0,180.8 432.2,182.8 432.3,183.1 432.5,183.3 432.6,184.0 432.8,185.7 433.0,182.7 433.1,182.5 433.3,181.0 433.4,183.4 433.6,184.2 433.8,182.8 433.9,184.6 434.1,183.2 434.3,185.0 434.4,183.6 434.6,181.9 434.7,182.4 434.9,181.3 435.1,181.1 435.2,183.5 435.4,184.3 435.5,185.6 435.7,183.1 435.9,182.9 436.0,181.9 436.2,184.4 436.3,183.7 436.5,182.5 436.7,184.1 436.8,183.9 437.0,181.0 437.1,184.1 437.3,183.4 437.5,182.8 437.6,182.7 437.8,185.4 438.0,185.1 438.1,185.5 438.3,181.9 438.4,182.5 438.6,184.4 438.8,181.8 438.9,182.4 439.1,181.1 439.2,185.5 439.4,184.6 439.6,183.8 439.7,183.5 439.9,182.8 440.0,182.8 440.2,184.0 440.4,182.4 440.5,184.8 440.7,182.7 440.8,182.2 441.0,184.9 441.2,183.1 441.3,184.0 441.5,182.8 441.7,180.6 441.8,183.9 442.0,181.7 442.1,184.6 442.3,181.4 442.5,181.0 442.6,183.7 442.8,183.8 442.9,183.4 443.1,181.8 443.3,184.4 443.4,181.5 443.6,182.7 443.7,182.3 443.9,182.8 444.1,184.3 444.2,182.5 444.4,184.0 444.5,184.1 444.7,181.2 444.9,181.9 445.0,182.8 445.2,182.6 445.3,183.7 445.5,181.0 445.7,184.2 445.8,184.2 446.0,183.1 446.2,181.6 446.3,183.3 446.5,182.7 446.6,184.0 446.8,183.2 447.0,184.2 447.1,182.8 447.3,185.1 447.4,180.5 447.6,182.1 447.8,183.9 447.9,181.5 448.1,184.2 448.2,181.9 448.4,183.4 448.6,182.2 448.7,182.8 448.9,183.5 449.0,183.2 449.2,182.9 449.4,185.9 449.5,183.3 449.7,182.2 449.9,184.4 450.0,184.3 450.2,184.8 450.3,185.5 450.5,182.2 450.7,184.6 450.8,184.7 451.0,183.3 451.1,183.6 451.3,179.7 451.5,182.6 451.6,185.5 451.8,181.2 451.9,182.7 452.1,183.7 452.3,184.0 452.4,185.3 452.6,181.2 452.7,183.4 452.9,184.4 453.1,181.8 453.2,183.3 453.4,185.6 453.6,184.9 453.7,184.0 453.9,180.2 454.0,183.2 454.2,183.8 454.4,183.0 454.5,183.3 454.7,187.1 454.8,183.1 455.0,182.2 455.2,183.6 455.3,183.0 455.5,183.0 455.6,183.2 455.8,184.3 456.0,183.6 456.1,181.9 456.3,183.2 456.4,183.9 456.6,182.8 456.8,184.7 456.9,184.3 457.1,182.2 457.3,183.7 457.4,185.7 457.6,185.2 457.7,183.3 457.9,184.4 458.1,182.5 458.2,181.6 458.4,184.0 458.5,183.6 458.7,184.0 458.9,183.3 459.0,183.7 459.2,182.7 459.3,183.9 459.5,184.4 459.7,183.3 459.8,184.3 460.0,181.2 460.1,182.4 460.3,185.1 460.5,185.5 460.6,183.7 460.8,183.2 461.0,181.8 461.1,183.8 461.3,184.3 461.4,181.6 461.6,184.0 461.8,183.9 461.9,183.9 462.1,182.0 462.2,184.0 462.4,181.5 462.6,185.1 462.7,183.5 462.9,182.0 463.0,185.0 463.2,184.7 463.4,182.6 463.5,186.0 463.7,182.1 463.8,183.7 464.0,184.8 464.2,180.6 464.3,184.6 464.5,183.3 464.6,183.3 464.8,182.1 465.0,183.8 465.1,182.0 465.3,182.2 465.5,182.8 465.6,181.9 465.8,185.2 465.9,181.8 466.1,182.4 466.3,183.0 466.4,183.4 466.6,184.3 466.7,184.3 466.9,183.0 467.1,182.9 467.2,183.4 467.4,184.3 467.5,184.2 467.7,182.7 467.9,180.9 468.0,185.9 468.2,184.5 468.3,183.7 468.5,183.8 468.7,182.7 468.8,182.2 469.0,183.0 469.2,183.1 469.3,182.6 469.5,181.6 469.6,183.0 469.8,184.1 470.0,182.8 470.1,183.4 470.3,180.9 470.4,183.1 470.6,183.2 470.8,181.9 470.9,181.3 471.1,183.9 471.2,182.4 471.4,183.9 471.6,182.9 471.7,184.1 471.9,183.0 472.0,181.6 472.2,183.3 472.4,183.0 472.5,184.2 472.7,182.8 472.9,182.9 473.0,184.4 473.2,184.8 473.3,184.3 473.5,184.6 473.7,183.9 473.8,184.3 474.0,184.4 474.1,183.8 474.3,183.4 474.5,183.5 474.6,186.3 474.8,183.4 474.9,183.1 475.1,182.9 475.3,183.3 475.4,183.7 475.6,182.0 475.7,181.0 475.9,183.7 476.1,181.4 476.2,183.7 476.4,183.5 476.6,184.8 476.7,185.4 476.9,183.8 477.0,182.7 477.2,182.0 477.4,182.4 477.5,183.4 477.7,180.9 477.8,183.5 478.0,183.4 478.2,184.1 478.3,183.0 478.5,183.5 478.6,182.5 478.8,182.8 479.0,181.2 479.1,183.5 479.3,185.2 479.4,183.6 479.6,183.8 479.8,182.2 479.9,185.1 480.1,182.4 480.3,184.3 480.4,183.5 480.6,182.2 480.7,184.6 480.9,183.4 481.1,183.6 481.2,183.9 481.4,183.3 481.5,182.9 481.7,183.9 481.9,182.9 482.0,183.4 482.2,182.6 482.3,181.6 482.5,182.6 482.7,182.8 482.8,183.4 483.0,184.8 483.1,181.3 483.3,183.5 483.5,180.7 483.6,182.1 483.8,182.8 483.9,180.7 484.1,181.1 484.3,183.6 484.4,183.5 484.6,183.2 484.8,182.4 484.9,186.0 485.1,183.2 485.2,182.3 485.4,185.4 485.6,184.1 485.7,182.9 485.9,184.8 486.0,183.6 486.2,184.1 486.4,183.7 486.5,182.1 486.7,184.5 486.8,183.6 487.0,182.2 487.2,182.5 487.3,184.5 487.5,182.9 487.6,183.4 487.8,184.2 488.0,183.5 488.1,181.5 488.3,184.1 488.5,184.5 488.6,184.4 488.8,185.3 488.9,183.8 489.1,184.3 489.3,185.3 489.4,183.0 489.6,185.5 489.7,185.5 489.9,184.3 490.1,185.6 490.2,184.4 490.4,182.3 490.5,184.7 490.7,183.8 490.9,183.9 491.0,183.6 491.2,185.0 491.3,184.0 491.5,182.5 491.7,184.0 491.8,184.2 492.0,182.5 492.2,182.9 492.3,182.9 492.5,182.6 492.6,183.8 492.8,184.6 493.0,185.6 493.1,184.8 493.3,184.6 493.4,184.7 493.6,185.0 493.8,182.9 493.9,184.2 494.1,183.8 494.2,183.2 494.4,182.8 494.6,182.8 494.7,183.1 494.9,181.9 495.0,184.0 495.2,183.3 495.4,183.5 495.5,183.8 495.7,184.2 495.9,182.7 496.0,183.2 496.2,181.4 496.3,180.7 496.5,181.0 496.7,185.2 496.8,181.2 497.0,183.9 497.1,185.2 497.3,182.8 497.5,185.3 497.6,185.6 497.8,184.5 497.9,186.2 498.1,184.1 498.3,182.5 498.4,184.0 498.6,182.8 498.7,181.8 498.9,181.8 499.1,186.2 499.2,182.7 499.4,183.4 499.6,182.6 499.7,183.6 499.9,183.1 500.0,182.9 500.2,181.9 500.4,181.7 500.5,182.5 500.7,183.7 500.8,185.9 501.0,184.7 501.2,185.6 501.3,184.0 501.5,183.3 501.6,181.8 501.8,183.4 502.0,180.8 502.1,183.0 502.3,185.4 502.4,183.8 502.6,184.8 502.8,182.9 502.9,181.7 503.1,182.8 503.2,182.9 503.4,184.9 503.6,185.8 503.7,182.5 503.9,183.0 504.1,183.2 504.2,183.0 504.4,181.9 504.5,183.5 504.7,183.8 504.9,183.9 505.0,182.0 505.2,183.3 505.3,181.3 505.5,184.5 505.7,182.2 505.8,183.1 506.0,182.9 506.1,182.7 506.3,182.1 506.5,181.3 506.6,185.5 506.8,183.7 506.9,183.7 507.1,185.9 507.3,183.3 507.4,184.1 507.6,183.4 507.8,184.8 507.9,184.0 508.1,183.8 508.2,183.1 508.4,183.8 508.6,184.8 508.7,180.9 508.9,183.3 509.0,182.9 509.2,183.1 509.4,181.0 509.5,184.3 509.7,182.4 509.8,183.1 510.0,182.8 510.2,181.4 510.3,182.9 510.5,181.2 510.6,182.3 510.8,183.0 511.0,183.4 511.1,183.5 511.3,183.3 511.5,186.0 511.6,183.9 511.8,182.0 511.9,182.7 512.1,182.6 512.3,183.2 512.4,182.7 512.6,182.4 512.7,185.4 512.9,183.5 513.1,183.0 513.2,183.1 513.4,183.2 513.5,185.1 513.7,184.0 513.9,184.8 514.0,179.7 514.2,183.8 514.3,184.7 514.5,185.8 514.7,183.5 514.8,181.4 515.0,184.1 515.2,182.7 515.3,181.3 515.5,182.7 515.6,184.7 515.8,184.9 516.0,184.3 516.1,182.2 516.3,186.4 516.4,182.0 516.6,183.3 516.8,181.7 516.9,185.0 517.1,184.0 517.2,184.5 517.4,183.5 517.6,183.3 517.7,183.6 517.9,181.2 518.0,184.6 518.2,184.5 518.4,183.0 518.5,183.4 518.7,183.8 518.9,185.3 519.0,183.9 519.2,183.5 519.3,182.8 519.5,181.6 519.7,182.7 519.8,183.5 520.0,183.1 520.1,183.5 520.3,184.3 520.5,184.0 520.6,183.8 520.8,184.2 520.9,183.7 521.1,183.4 521.3,184.0 521.4,181.4 521.6,184.9 521.7,181.9 521.9,184.4 522.1,183.5 522.2,184.8 522.4,183.5 522.5,182.3 522.7,184.7 522.9,183.7 523.0,183.6 523.2,183.5 523.4,184.6 523.5,184.4 523.7,183.7 523.8,181.6 524.0,183.0 524.2,183.6 524.3,185.6 524.5,183.9 524.6,183.3 524.8,184.9 525.0,183.3 525.1,183.4 525.3,183.6 525.4,181.6 525.6,184.6 525.8,184.0 525.9,183.1 526.1,182.1 526.2,183.7 526.4,185.1 526.6,182.7 526.7,182.2 526.9,184.0 527.1,181.5 527.2,180.8 527.4,182.9 527.5,182.6 527.7,183.1 527.9,182.8 528.0,183.8 528.2,183.2 528.3,182.7 528.5,182.9 528.7,184.2 528.8,184.6 529.0,184.5 529.1,184.3 529.3,179.5 529.5,182.2 529.6,183.1 529.8,183.7 529.9,181.5 530.1,185.2 530.3,183.8 530.4,182.7 530.6,183.7"/><polyline fill="none" stroke="#000" stroke-width="2.0" stroke-linejoin="round" points="49.7,273.4 49.9,272.8 50.0,274.7 50.2,273.3 50.3,271.8 50.5,273.0 50.7,273.8 50.8,272.3 51.0,275.9 51.1,272.3 51.3,276.6 51.5,275.3 51.6,272.5 51.8,274.2 52.0,275.7 52.1,273.7 52.3,272.2 52.4,274.1 52.6,277.0 52.8,271.7 52.9,274.8 53.1,274.0 53.2,273.8 53.4,273.4 53.6,273.5 53.7,275.5 53.9,274.9 54.0,272.5 54.2,276.3 54.4,272.0 54.5,275.0 54.7,274.2 54.8,275.8 55.0,274.5 55.2,275.6 55.3,273.9 55.5,275.4 55.7,274.5 55.8,277.2 56.0,272.9 56.1,275.8 56.3,274.7 56.5,274.2 56.6,273.1 56.8,274.6 56.9,271.8 57.1,271.9 57.3,275.0 57.4,271.6 57.6,276.1 57.7,273.6 57.9,274.4 58.1,274.1 58.2,274.6 58.4,273.6 58.5,273.4 58.7,273.8 58.9,275.6 59.0,275.7 59.2,275.9 59.3,274.5 59.5,273.7 59.7,271.5 59.8,274.9 60.0,275.2 60.2,273.4 60.3,275.2 60.5,275.9 60.6,274.1 60.8,275.6 61.0,274.4 61.1,271.4 61.3,273.3 61.4,273.4 61.6,274.8 61.8,272.7 61.9,273.3 62.1,272.5 62.2,273.9 62.4,274.1 62.6,275.4 62.7,275.2 62.9,274.2 63.0,274.3 63.2,274.1 63.4,274.2 63.5,276.3 63.7,270.2 63.9,273.7 64.0,274.5 64.2,275.7 64.3,272.3 64.5,274.5 64.7,275.3 64.8,273.3 65.0,271.1 65.1,273.4 65.3,272.2 65.5,275.0 65.6,272.7 65.8,276.7 65.9,274.2 66.1,272.8 66.3,273.2 66.4,272.3 66.6,274.6 66.7,276.2 66.9,273.7 67.1,275.4 67.2,272.6 67.4,274.4 67.6,277.4 67.7,271.9 67.9,275.8 68.0,275.7 68.2,271.2 68.4,271.8 68.5,272.5 68.7,275.4 68.8,273.3 69.0,273.7 69.2,275.0 69.3,274.2 69.5,274.3 69.6,273.5 69.8,275.7 70.0,272.8 70.1,276.5 70.3,273.5 70.4,272.8 70.6,275.0 70.8,274.7 70.9,271.0 71.1,274.3 71.3,271.9 71.4,272.7 71.6,275.2 71.7,272.7 71.9,274.5 72.1,273.4 72.2,276.9 72.4,273.8 72.5,272.2 72.7,272.3 72.9,272.6 73.0,274.2 73.2,274.0 73.3,275.4 73.5,274.2 73.7,274.2 73.8,274.5 74.0,273.8 74.1,274.4 74.3,275.1 74.5,275.1 74.6,273.1 74.8,271.3 75.0,272.7 75.1,274.4 75.3,270.2 75.4,273.2 75.6,274.6 75.8,273.1 75.9,272.3 76.1,276.6 76.2,276.0 76.4,273.6 76.6,275.9 76.7,275.9 76.9,272.3 77.0,278.0 77.2,272.5 77.4,273.6 77.5,272.3 77.7,274.1 77.8,272.0 78.0,273.9 78.2,275.6 78.3,274.3 78.5,273.5 78.6,276.3 78.8,272.6 79.0,275.4 79.1,273.5 79.3,274.3 79.5,274.0 79.6,274.1 79.8,273.9 79.9,272.8 80.1,273.1 80.3,274.6 80.4,273.8 80.6,272.2 80.7,272.9 80.9,272.9 81.1,273.8 81.2,274.2 81.4,274.1 81.5,272.9 81.7,274.0 81.9,271.9 82.0,269.6 82.2,273.8 82.3,271.4 82.5,272.5 82.7,272.1 82.8,274.9 83.0,272.1 83.2,274.3 83.3,273.2 83.5,272.0 83.6,271.5 83.8,274.6 84.0,274.5 84.1,275.1 84.3,276.7 84.4,274.3 84.6,274.3 84.8,273.7 84.9,274.1 85.1,273.4 85.2,272.5 85.4,276.9 85.6,271.1 85.7,274.3 85.9,274.5 86.0,274.1 86.2,272.4 86.4,273.6 86.5,273.2 86.7,272.3 86.9,273.8 87.0,273.3 87.2,273.0 87.3,274.9 87.5,272.3 87.7,274.5 87.8,272.9 88.0,274.5 88.1,274.0 88.3,274.2 88.5,272.4 88.6,272.7 88.8,272.6 88.9,274.1 89.1,275.0 89.3,275.5 89.4,273.1 89.6,274.0 89.7,271.4 89.9,270.5 90.1,272.5 90.2,272.8 90.4,271.5 90.6,271.2 90.7,274.6 90.9,272.6 91.0,271.3 91.2,277.3 91.4,274.1 91.5,273.4 91.7,274.8 91.8,272.7 92.0,276.2 92.2,271.5 92.3,271.9 92.5,273.6 92.6,272.7 92.8,275.9 93.0,271.4 93.1,272.7 93.3,274.2 93.4,274.7 93.6,275.3 93.8,274.3 93.9,277.1 94.1,273.1 94.3,274.1 94.4,275.1 94.6,273.3 94.7,273.4 94.9,273.1 95.1,272.8 95.2,272.1 95.4,273.0 95.5,271.5 95.7,274.4 95.9,271.4 96.0,276.9 96.2,276.3 96.3,275.4 96.5,273.5 96.7,272.9 96.8,275.6 97.0,274.1 97.1,274.6 97.3,272.7 97.5,275.4 97.6,272.6 97.8,273.9 97.9,271.2 98.1,272.8 98.3,274.5 98.4,273.1 98.6,273.1 98.8,275.0 98.9,273.7 99.1,275.6 99.2,270.1 99.4,274.6 99.6,274.5 99.7,271.5 99.9,271.8 100.0,275.1 100.2,272.2 100.4,272.8 100.5,274.7 100.7,273.3 100.8,274.5 101.0,272.5 101.2,274.2 101.3,275.4 101.5,274.3 101.6,270.5 101.8,274.7 102.0,273.9 102.1,272.4 102.3,275.9 102.5,271.2 102.6,276.6 102.8,272.8 102.9,276.1 103.1,273.7 103.3,271.8 103.4,273.9 103.6,274.3 103.7,274.6 103.9,275.4 104.1,272.4 104.2,274.5 104.4,274.9 104.5,273.4 104.7,272.4 104.9,272.3 105.0,274.9 105.2,275.0 105.3,272.5 105.5,271.8 105.7,275.6 105.8,271.4 106.0,274.0 106.2,272.6 106.3,271.1 106.5,273.9 106.6,273.5 106.8,275.9 107.0,277.2 107.1,273.5 107.3,275.3 107.4,275.3 107.6,273.0 107.8,272.5 107.9,276.2 108.1,273.2 108.2,273.7 108.4,273.3 108.6,273.6 108.7,272.8 108.9,274.9 109.0,275.6 109.2,273.2 109.4,271.7 109.5,273.8 109.7,271.5 109.9,272.8 110.0,275.6 110.2,277.2 110.3,274.3 110.5,272.2 110.7,274.9 110.8,270.4 111.0,272.7 111.1,276.0 111.3,274.9 111.5,271.7 111.6,271.3 111.8,275.0 111.9,273.7 112.1,272.9 112.3,274.4 112.4,272.9 112.6,270.9 112.7,275.0 112.9,272.8 113.1,272.2 113.2,271.8 113.4,274.1 113.6,272.5 113.7,274.7 113.9,273.3 114.0,275.4 114.2,273.2 114.4,272.8 114.5,270.8 114.7,272.1 114.8,274.8 115.0,278.3 115.2,271.9 115.3,272.2 115.5,274.3 115.6,274.5 115.8,272.7 116.0,273.9 116.1,271.3 116.3,273.3 116.4,275.1 116.6,276.2 116.8,273.5 116.9,273.4 117.1,274.4 117.2,275.4 117.4,274.5 117.6,272.6 117.7,274.3 117.9,275.2 118.1,272.7 118.2,271.7 118.4,274.5 118.5,274.3 118.7,275.2 118.9,273.9 119.0,272.8 119.2,273.1 119.3,272.2 119.5,272.3 119.7,272.9 119.8,273.0 120.0,275.4 120.1,271.9 120.3,273.7 120.5,272.9 120.6,276.0 120.8,274.1 120.9,273.2 121.1,275.0 121.3,273.8 121.4,273.0 121.6,276.1 121.8,274.8 121.9,276.3 122.1,275.5 122.2,274.9 122.4,273.9 122.6,272.1 122.7,274.8 122.9,273.9 123.0,274.8 123.2,273.7 123.4,272.7 123.5,272.2 123.7,274.8 123.8,275.7 124.0,273.3 124.2,274.4 124.3,275.8 124.5,272.5 124.6,273.2 124.8,272.1 125.0,275.5 125.1,274.1 125.3,273.1 125.5,271.3 125.6,273.5 125.8,275.2 125.9,273.3 126.1,273.1 126.3,274.7 126.4,271.9 126.6,273.8 126.7,274.7 126.9,272.6 127.1,272.5 127.2,274.1 127.4,273.6 127.5,273.4 127.7,274.1 127.9,274.1 128.0,272.4 128.2,272.8 128.3,274.4 128.5,275.4 128.7,275.8 128.8,272.5 129.0,275.4 129.2,274.9 129.3,273.7 129.5,274.5 129.6,275.0 129.8,276.4 130.0,272.2 130.1,274.7 130.3,273.5 130.4,273.4 130.6,275.5 130.8,275.0 130.9,272.2 131.1,273.3 131.2,274.1 131.4,271.6 131.6,275.1 131.7,273.6 131.9,274.0 132.0,274.3 132.2,276.5 132.4,273.8 132.5,273.2 132.7,276.4 132.9,273.0 133.0,273.0 133.2,271.7 133.3,275.4 133.5,274.2 133.7,274.5 133.8,274.0 134.0,273.6 134.1,272.6 134.3,272.6 134.5,274.4 134.6,273.9 134.8,276.2 134.9,272.6 135.1,273.0 135.3,272.2 135.4,275.8 135.6,271.9 135.7,274.9 135.9,275.9 136.1,273.5 136.2,274.8 136.4,270.6 136.5,273.2 136.7,271.3 136.9,274.0 137.0,273.8 137.2,272.6 137.4,275.2 137.5,274.3 137.7,273.0 137.8,273.0 138.0,271.6 138.2,273.5 138.3,276.9 138.5,272.7 138.6,274.4 138.8,272.9 139.0,275.0 139.1,274.4 139.3,273.4 139.4,271.1 139.6,273.0 139.8,275.5 139.9,273.4 140.1,274.7 140.2,273.0 140.4,271.0 140.6,274.4 140.7,274.2 140.9,272.9 141.1,273.2 141.2,274.2 141.4,272.9 141.5,274.3 141.7,273.4 141.9,270.2 142.0,273.5 142.2,272.9 142.3,272.5 142.5,274.4 142.7,273.0 142.8,274.6 143.0,275.4 143.1,274.0 143.3,271.4 143.5,272.7 143.6,275.1 143.8,273.4 143.9,272.5 144.1,273.6 144.3,274.5 144.4,274.1 144.6,274.7 144.8,272.5 144.9,273.3 145.1,273.4 145.2,273.7 145.4,270.6 145.6,273.4 145.7,271.7 145.9,275.8 146.0,276.1 146.2,276.3 146.4,275.0 146.5,273.0 146.7,275.2 146.8,273.4 147.0,274.7 147.2,272.4 147.3,272.9 147.5,274.4 147.6,276.4 147.8,273.7 148.0,277.1 148.1,277.9 148.3,271.8 148.5,273.7 148.6,272.3 148.8,273.5 148.9,272.9 149.1,273.6 149.3,275.2 149.4,275.1 149.6,274.1 149.7,273.7 149.9,273.9 150.1,273.9 150.2,274.6 150.4,273.7 150.5,274.5 150.7,271.8 150.9,274.9 151.0,276.4 151.2,274.0 151.3,271.6 151.5,275.8 151.7,273.2 151.8,269.3 152.0,273.4 152.2,274.6 152.3,274.3 152.5,275.6 152.6,274.7 152.8,273.9 153.0,270.8 153.1,272.1 153.3,274.0 153.4,274.7 153.6,272.2 153.8,272.8 153.9,274.4 154.1,270.9 154.2,270.8 154.4,273.4 154.6,274.1 154.7,273.0 154.9,270.3 155.0,273.8 155.2,271.7 155.4,274.7 155.5,273.6 155.7,274.1 155.8,274.7 156.0,272.9 156.2,275.0 156.3,275.6 156.5,274.3 156.7,275.7 156.8,272.8 157.0,275.1 157.1,274.1 157.3,272.2 157.5,273.6 157.6,272.9 157.8,272.9 157.9,273.8 158.1,275.3 158.3,273.2 158.4,273.9 158.6,271.5 158.7,273.9 158.9,275.4 159.1,274.9 159.2,274.4 159.4,272.9 159.5,272.2 159.7,273.6 159.9,271.7 160.0,271.9 160.2,275.1 160.4,272.3 160.5,276.4 160.7,271.6 160.8,274.4 161.0,271.9 161.2,274.0 161.3,272.1 161.5,273.8 161.6,273.5 161.8,273.0 162.0,274.5 162.1,276.0 162.3,272.8 162.4,275.0 162.6,273.8 162.8,273.7 162.9,277.0 163.1,270.4 163.2,272.7 163.4,271.0 163.6,273.2 163.7,273.3 163.9,279.4 164.1,274.2 164.2,276.4 164.4,275.6 164.5,273.0 164.7,274.4 164.9,276.2 165.0,273.9 165.2,274.0 165.3,274.4 165.5,271.4 165.7,272.5 165.8,274.2 166.0,274.5 166.1,272.3 166.3,273.2 166.5,273.5 166.6,273.4 166.8,274.7 166.9,273.8 167.1,273.9 167.3,271.5 167.4,272.1 167.6,274.1 167.8,271.3 167.9,274.1 168.1,272.7 168.2,272.4 168.4,274.6 168.6,272.6 168.7,272.4 168.9,272.6 169.0,273.7 169.2,277.8 169.4,270.5 169.5,273.6 169.7,273.3 169.8,275.1 170.0,273.1 170.2,269.9 170.3,275.6 170.5,272.0 170.6,273.5 170.8,271.6 171.0,272.0 171.1,272.9 171.3,274.9 171.5,274.9 171.6,272.7 171.8,274.4 171.9,273.1 172.1,273.8 172.3,273.8 172.4,274.6 172.6,272.7 172.7,273.4 172.9,273.9 173.1,273.7 173.2,272.4 173.4,276.2 173.5,272.9 173.7,274.7 173.9,273.9 174.0,275.4 174.2,270.3 174.3,276.7 174.5,273.3 174.7,271.7 174.8,273.8 175.0,277.0 175.1,274.4 175.3,271.7 175.5,272.9 175.6,275.6 175.8,271.4 176.0,273.3 176.1,273.1 176.3,276.9 176.4,273.1 176.6,275.6 176.8,272.5 176.9,272.3 177.1,275.1 177.2,274.5 177.4,270.9 177.6,274.5 177.7,274.5 177.9,272.6 178.0,273.9 178.2,274.0 178.4,272.8 178.5,272.7 178.7,272.5 178.8,273.1 179.0,271.5 179.2,273.5 179.3,271.3 179.5,273.6 179.7,273.4 179.8,272.0 180.0,274.8 180.1,276.5 180.3,275.5 180.5,271.4 180.6,275.5 180.8,273.8 180.9,273.4 181.1,272.6 181.3,273.5 181.4,275.6 181.6,274.3 181.7,272.9 181.9,272.5 182.1,272.9 182.2,274.4 182.4,276.3 182.5,271.9 182.7,273.5 182.9,272.9 183.0,272.3 183.2,274.1 183.4,274.3 183.5,271.3 183.7,271.9 183.8,275.3 184.0,273.9 184.2,274.3 184.3,272.7 184.5,272.9 184.6,274.2 184.8,272.7 185.0,271.8 185.1,273.4 185.3,274.8 185.4,271.9 185.6,275.0 185.8,274.5 185.9,272.1 186.1,273.4 186.2,273.4 186.4,274.4 186.6,274.4 186.7,271.4 186.9,271.4 187.1,275.0 187.2,273.6 187.4,274.0 187.5,273.9 187.7,275.7 187.9,271.6 188.0,275.1 188.2,272.1 188.3,274.5 188.5,275.4 188.7,271.3 188.8,274.0 189.0,272.9 189.1,272.9 189.3,273.4 189.5,271.7 189.6,271.9 189.8,274.4 189.9,274.6 190.1,272.5 190.3,271.1 190.4,276.9 190.6,275.0 190.8,273.9 190.9,271.7 191.1,272.4 191.2,273.7 191.4,271.8 191.6,275.8 191.7,273.5 191.9,273.9 192.0,271.7 192.2,271.9 192.4,272.1 192.5,273.7 192.7,272.9 192.8,272.8 193.0,273.7 193.2,273.6 193.3,275.5 193.5,272.9 193.6,271.7 193.8,273.2 194.0,275.5 194.1,272.4 194.3,273.3 194.4,272.7 194.6,273.8 194.8,273.6 194.9,271.9 195.1,272.8 195.3,274.6 195.4,274.9 195.6,274.6 195.7,274.5 195.9,272.6 196.1,272.6 196.2,274.6 196.4,271.3 196.5,273.0 196.7,270.2 196.9,272.5 197.0,272.0 197.2,271.2 197.3,274.0 197.5,271.9 197.7,272.5 197.8,272.7 198.0,271.9 198.1,275.2 198.3,272.3 198.5,273.3 198.6,271.0 198.8,272.3 199.0,272.5 199.1,272.5 199.3,272.1 199.4,273.2 199.6,275.4 199.8,272.7 199.9,272.7 200.1,272.3 200.2,276.9 200.4,275.4 200.6,273.8 200.7,274.0 200.9,271.8 201.0,272.6 201.2,273.2 201.4,273.0 201.5,271.5 201.7,271.6 201.8,273.6 202.0,273.3 202.2,269.5 202.3,272.9 202.5,274.8 202.7,271.7 202.8,273.1 203.0,270.4 203.1,274.0 203.3,270.9 203.5,270.7 203.6,272.2 203.8,276.4 203.9,271.7 204.1,270.6 204.3,273.3 204.4,273.0 204.6,275.2 204.7,270.6 204.9,270.0 205.1,272.0 205.2,273.1 205.4,273.1 205.5,274.2 205.7,270.1 205.9,271.1 206.0,272.2 206.2,273.8 206.4,273.2 206.5,271.7 206.7,270.7 206.8,273.8 207.0,273.9 207.2,276.7 207.3,272.0 207.5,274.9 207.6,270.3 207.8,271.4 208.0,271.1 208.1,271.5 208.3,270.8 208.4,271.3 208.6,272.1 208.8,271.4 208.9,273.2 209.1,271.9 209.2,272.1 209.4,274.4 209.6,272.5 209.7,272.2 209.9,271.9 210.1,272.0 210.2,272.9 210.4,270.6 210.5,273.7 210.7,274.4 210.9,273.7 211.0,271.0 211.2,269.1 211.3,271.0 211.5,272.0 211.7,273.1 211.8,271.4 212.0,271.1 212.1,274.1 212.3,270.5 212.5,273.3 212.6,273.0 212.8,269.3 212.9,271.9 213.1,270.5 213.3,269.8 213.4,268.2 213.6,268.7 213.7,272.0 213.9,270.6 214.1,271.7 214.2,269.4 214.4,270.6 214.6,270.6 214.7,268.4 214.9,268.2 215.0,271.8 215.2,271.2 215.4,269.3 215.5,270.7 215.7,272.0 215.8,274.0 216.0,269.2 216.2,271.8 216.3,274.3 216.5,270.7 216.6,273.1 216.8,266.0 217.0,273.0 217.1,270.4 217.3,267.1 217.4,271.7 217.6,272.1 217.8,272.3 217.9,272.3 218.1,270.0 218.3,268.7 218.4,269.1 218.6,269.8 218.7,270.5 218.9,268.9 219.1,269.7 219.2,271.2 219.4,270.1 219.5,273.6 219.7,273.3 219.9,267.1 220.0,268.1 220.2,266.6 220.3,266.8 220.5,269.8 220.7,266.8 220.8,266.6 221.0,267.9 221.1,269.9 221.3,267.5 221.5,267.4 221.6,269.7 221.8,268.7 222.0,268.5 222.1,269.3 222.3,265.2 222.4,267.5 222.6,265.6 222.8,268.7 222.9,268.1 223.1,264.1 223.2,268.8 223.4,263.3 223.6,268.0 223.7,265.7 223.9,263.1 224.0,262.3 224.2,263.7 224.4,264.0 224.5,262.2 224.7,264.7 224.8,259.9 225.0,262.7 225.2,262.4 225.3,257.6 225.5,262.3 225.7,258.2 225.8,254.8 226.0,258.9 226.1,259.4 226.3,261.8 226.5,257.9 226.6,262.3 226.8,261.8 226.9,260.5 227.1,260.6 227.3,257.6 227.4,254.8 227.6,257.5 227.7,257.9 227.9,255.4 228.1,253.6 228.2,249.4 228.4,255.1 228.5,253.8 228.7,248.6 228.9,252.1 229.0,253.4 229.2,250.6 229.4,252.8 229.5,252.3 229.7,245.3 229.8,248.4 230.0,250.4 230.2,251.4 230.3,252.6 230.5,242.3 230.6,247.7 230.8,249.9 231.0,251.3 231.1,252.6 231.3,244.5 231.4,246.2 231.6,244.1 231.8,249.9 231.9,243.4 232.1,251.3 232.2,250.7 232.4,249.5 232.6,241.7 232.7,246.5 232.9,251.1 233.0,245.0 233.2,248.8 233.4,249.6 233.5,253.0 233.7,251.6 233.9,252.0 234.0,250.4 234.2,252.1 234.3,252.2 234.5,255.1 234.7,253.1 234.8,256.9 235.0,249.9 235.1,258.3 235.3,255.1 235.5,259.0 235.6,256.7 235.8,259.2 235.9,261.3 236.1,256.5 236.3,258.6 236.4,258.4 236.6,259.8 236.7,255.7 236.9,259.7 237.1,259.9 237.2,259.0 237.4,260.8 237.6,258.1 237.7,265.3 237.9,263.4 238.0,267.1 238.2,261.1 238.4,260.8 238.5,264.4 238.7,260.3 238.8,264.8 239.0,263.1 239.2,264.1 239.3,265.7 239.5,265.5 239.6,269.5 239.8,267.2 240.0,263.4 240.1,268.3 240.3,263.7 240.4,266.8 240.6,264.3 240.8,265.3 240.9,269.8 241.1,266.2 241.3,266.2 241.4,266.5 241.6,267.2 241.7,270.7 241.9,265.8 242.1,265.8 242.2,269.4 242.4,265.3 242.5,267.8 242.7,270.8 242.9,268.7 243.0,267.9 243.2,267.6 243.3,267.3 243.5,268.0 243.7,269.4 243.8,271.5 244.0,271.1 244.1,268.3 244.3,268.1 244.5,270.8 244.6,266.2 244.8,268.8 245.0,269.1 245.1,267.7 245.3,268.0 245.4,270.5 245.6,266.9 245.8,268.3 245.9,268.9 246.1,270.2 246.2,267.7 246.4,272.1 246.6,269.7 246.7,269.8 246.9,269.7 247.0,269.2 247.2,268.7 247.4,272.5 247.5,270.8 247.7,270.3 247.8,272.3 248.0,269.3 248.2,271.7 248.3,270.7 248.5,269.2 248.7,272.1 248.8,268.2 249.0,271.9 249.1,269.3 249.3,271.6 249.5,273.3 249.6,271.9 249.8,269.9 249.9,271.0 250.1,270.4 250.3,269.1 250.4,269.2 250.6,271.2 250.7,272.1 250.9,268.2 251.1,271.1 251.2,272.1 251.4,271.5 251.5,269.6 251.7,273.1 251.9,269.3 252.0,272.5 252.2,274.1 252.3,268.0 252.5,271.9 252.7,272.0 252.8,271.9 253.0,270.3 253.2,271.1 253.3,269.3 253.5,271.8 253.6,272.5 253.8,270.6 254.0,270.2 254.1,270.9 254.3,271.7 254.4,271.9 254.6,271.6 254.8,271.9 254.9,269.7 255.1,267.4 255.2,272.9 255.4,274.2 255.6,269.6 255.7,270.9 255.9,272.5 256.0,273.5 256.2,273.1 256.4,274.1 256.5,272.0 256.7,272.7 256.9,272.8 257.0,271.4 257.2,274.1 257.3,273.1 257.5,273.7 257.7,271.6 257.8,273.9 258.0,270.5 258.1,272.9 258.3,268.1 258.5,270.7 258.6,273.5 258.8,271.6 258.9,272.6 259.1,269.8 259.3,274.8 259.4,273.3 259.6,272.3 259.7,273.1 259.9,272.9 260.1,274.7 260.2,272.8 260.4,270.1 260.6,272.1 260.7,274.5 260.9,273.4 261.0,271.9 261.2,273.5 261.4,272.7 261.5,273.5 261.7,270.1 261.8,271.2 262.0,273.6 262.2,272.3 262.3,273.2 262.5,275.7 262.6,272.2 262.8,273.0 263.0,271.8 263.1,271.7 263.3,272.6 263.4,270.4 263.6,269.4 263.8,274.9 263.9,272.6 264.1,274.5 264.3,273.0 264.4,273.0 264.6,273.8 264.7,273.9 264.9,270.9 265.1,274.7 265.2,271.3 265.4,273.2 265.5,276.8 265.7,273.0 265.9,275.4 266.0,272.3 266.2,273.8 266.3,273.0 266.5,273.5 266.7,271.6 266.8,271.5 267.0,273.4 267.1,270.5 267.3,271.7 267.5,273.9 267.6,272.0 267.8,271.6 268.0,271.3 268.1,273.2 268.3,272.4 268.4,273.2 268.6,272.7 268.8,275.9 268.9,272.4 269.1,270.0 269.2,273.2 269.4,273.1 269.6,273.3 269.7,270.6 269.9,274.8 270.0,273.0 270.2,273.0 270.4,270.7 270.5,273.8 270.7,273.0 270.8,275.2 271.0,272.5 271.2,271.2 271.3,273.3 271.5,271.7 271.6,273.8 271.8,271.5 272.0,273.0 272.1,272.8 272.3,273.1 272.5,272.4 272.6,271.9 272.8,273.1 272.9,272.3 273.1,273.4 273.3,272.8 273.4,269.8 273.6,273.1 273.7,275.3 273.9,273.7 274.1,274.1 274.2,273.9 274.4,272.5 274.5,271.2 274.7,274.4 274.9,274.8 275.0,274.1 275.2,273.9 275.3,273.8 275.5,273.2 275.7,273.7 275.8,273.3 276.0,273.8 276.2,271.9 276.3,272.3 276.5,274.1 276.6,272.8 276.8,269.7 277.0,273.5 277.1,269.9 277.3,276.1 277.4,274.4 277.6,274.3 277.8,272.3 277.9,271.6 278.1,273.0 278.2,273.4 278.4,272.2 278.6,273.6 278.7,274.4 278.9,274.2 279.0,271.8 279.2,270.1 279.4,273.4 279.5,272.4 279.7,274.0 279.9,275.8 280.0,275.8 280.2,273.8 280.3,275.0 280.5,275.8 280.7,273.4 280.8,273.8 281.0,274.6 281.1,273.3 281.3,272.7 281.5,272.3 281.6,273.4 281.8,272.5 281.9,274.6 282.1,272.9 282.3,275.6 282.4,275.2 282.6,271.6 282.7,275.0 282.9,272.8 283.1,275.4 283.2,274.2 283.4,273.4 283.6,274.4 283.7,272.6 283.9,273.9 284.0,274.0 284.2,273.2 284.4,274.0 284.5,272.0 284.7,274.3 284.8,271.7 285.0,274.4 285.2,274.2 285.3,274.5 285.5,272.7 285.6,277.9 285.8,273.1 286.0,273.7 286.1,272.4 286.3,275.6 286.4,272.8 286.6,274.9 286.8,272.1 286.9,274.0 287.1,273.0 287.3,274.9 287.4,273.1 287.6,272.3 287.7,274.2 287.9,271.8 288.1,272.1 288.2,274.6 288.4,270.8 288.5,274.6 288.7,273.0 288.9,272.2 289.0,273.9 289.2,274.5 289.3,272.7 289.5,273.3 289.7,274.7 289.8,274.6 290.0,273.5 290.1,272.4 290.3,272.2 290.5,272.7 290.6,274.5 290.8,274.4 290.9,274.0 291.1,275.6 291.3,273.1 291.4,273.0 291.6,273.0 291.8,276.3 291.9,270.6 292.1,274.0 292.2,274.2 292.4,273.7 292.6,277.0 292.7,275.3 292.9,274.7 293.0,272.3 293.2,274.3 293.4,273.1 293.5,273.7 293.7,273.9 293.8,272.9 294.0,274.5 294.2,276.0 294.3,275.1 294.5,273.9 294.6,270.9 294.8,275.2 295.0,275.2 295.1,273.4 295.3,273.0 295.5,274.6 295.6,272.5 295.8,274.8 295.9,272.1 296.1,272.3 296.3,273.7 296.4,271.6 296.6,273.7 296.7,274.4 296.9,271.8 297.1,275.0 297.2,272.9 297.4,274.4 297.5,274.0 297.7,273.0 297.9,272.9 298.0,271.2 298.2,272.7 298.3,272.6 298.5,276.0 298.7,275.1 298.8,271.7 299.0,274.8 299.2,274.0 299.3,273.1 299.5,274.3 299.6,274.8 299.8,272.9 300.0,273.3 300.1,273.9 300.3,272.3 300.4,274.0 300.6,273.6 300.8,272.7 300.9,272.5 301.1,274.1 301.2,274.9 301.4,274.2 301.6,272.5 301.7,274.8 301.9,273.9 302.0,274.5 302.2,275.4 302.4,272.4 302.5,273.5 302.7,272.9 302.9,272.5 303.0,276.6 303.2,275.0 303.3,271.2 303.5,274.3 303.7,272.9 303.8,275.3 304.0,273.8 304.1,273.5 304.3,273.9 304.5,274.3 304.6,273.8 304.8,273.4 304.9,273.5 305.1,274.4 305.3,272.1 305.4,273.7 305.6,273.6 305.7,273.0 305.9,274.8 306.1,271.9 306.2,273.2 306.4,272.5 306.6,274.5 306.7,273.1 306.9,273.8 307.0,274.3 307.2,271.5 307.4,274.4 307.5,272.7 307.7,273.4 307.8,273.6 308.0,274.9 308.2,274.8 308.3,276.2 308.5,274.0 308.6,273.1 308.8,273.0 309.0,274.7 309.1,276.0 309.3,274.2 309.4,272.9 309.6,274.1 309.8,274.1 309.9,273.8 310.1,272.7 310.2,270.2 310.4,273.0 310.6,275.2 310.7,274.0 310.9,270.6 311.1,273.8 311.2,271.1 311.4,276.6 311.5,274.0 311.7,272.1 311.9,274.9 312.0,272.6 312.2,274.5 312.3,273.8 312.5,272.1 312.7,274.7 312.8,271.9 313.0,275.7 313.1,273.8 313.3,272.3 313.5,271.2 313.6,276.0 313.8,275.8 313.9,272.0 314.1,276.1 314.3,274.0 314.4,273.4 314.6,273.6 314.8,273.4 314.9,275.8 315.1,274.0 315.2,271.2 315.4,276.7 315.6,275.0 315.7,272.2 315.9,273.3 316.0,272.5 316.2,273.8 316.4,274.3 316.5,274.1 316.7,272.9 316.8,272.6 317.0,275.0 317.2,273.6 317.3,276.9 317.5,272.6 317.6,274.9 317.8,273.8 318.0,272.7 318.1,275.7 318.3,273.9 318.5,272.5 318.6,273.3 318.8,275.2 318.9,272.0 319.1,275.7 319.3,274.7 319.4,273.4 319.6,275.7 319.7,276.2 319.9,274.6 320.1,274.0 320.2,276.4 320.4,275.9 320.5,272.5 320.7,273.5 320.9,273.5 321.0,273.2 321.2,271.7 321.3,275.1 321.5,273.9 321.7,273.9 321.8,275.8 322.0,273.0 322.2,273.7 322.3,274.2 322.5,273.2 322.6,273.6 322.8,274.9 323.0,273.8 323.1,275.7 323.3,272.7 323.4,274.1 323.6,271.8 323.8,273.6 323.9,272.8 324.1,275.7 324.2,274.8 324.4,274.5 324.6,276.4 324.7,275.8 324.9,274.8 325.0,272.8 325.2,271.7 325.4,273.7 325.5,273.3 325.7,272.9 325.9,273.4 326.0,271.4 326.2,275.9 326.3,272.2 326.5,272.8 326.7,274.6 326.8,271.5 327.0,275.1 327.1,275.1 327.3,273.4 327.5,272.3 327.6,273.1 327.8,271.2 327.9,275.8 328.1,273.9 328.3,272.7 328.4,272.5 328.6,274.6 328.7,275.9 328.9,272.0 329.1,273.0 329.2,271.3 329.4,274.8 329.5,274.0 329.7,277.0 329.9,273.6 330.0,273.2 330.2,272.8 330.4,275.0 330.5,271.5 330.7,274.9 330.8,274.2 331.0,273.1 331.2,272.5 331.3,275.3 331.5,276.5 331.6,273.2 331.8,274.6 332.0,276.3 332.1,272.9 332.3,273.4 332.4,272.1 332.6,273.6 332.8,273.7 332.9,273.2 333.1,272.7 333.2,271.5 333.4,271.9 333.6,272.4 333.7,274.7 333.9,273.1 334.1,272.6 334.2,274.7 334.4,274.6 334.5,272.7 334.7,272.9 334.9,274.8 335.0,274.3 335.2,272.6 335.3,274.2 335.5,273.8 335.7,275.4 335.8,272.6 336.0,275.1 336.1,274.4 336.3,272.4 336.5,275.3 336.6,275.1 336.8,271.9 336.9,276.7 337.1,272.2 337.3,272.5 337.4,273.3 337.6,274.9 337.8,274.7 337.9,273.7 338.1,275.8 338.2,274.4 338.4,275.8 338.6,277.9 338.7,274.1 338.9,270.1 339.0,273.2 339.2,272.3 339.4,273.9 339.5,274.0 339.7,272.0 339.8,272.1 340.0,273.4 340.2,273.5 340.3,270.0 340.5,275.2 340.6,273.9 340.8,273.8 341.0,274.2 341.1,272.3 341.3,273.7 341.5,275.3 341.6,275.4 341.8,274.5 341.9,273.4 342.1,272.6 342.3,275.7 342.4,274.6 342.6,273.2 342.7,270.7 342.9,272.6 343.1,271.0 343.2,275.6 343.4,274.1 343.5,272.7 343.7,273.4 343.9,277.6 344.0,275.6 344.2,271.8 344.3,273.6 344.5,272.0 344.7,271.3 344.8,274.1 345.0,277.4 345.2,276.1 345.3,273.9 345.5,273.3 345.6,274.1 345.8,275.4 346.0,271.7 346.1,271.1 346.3,276.6 346.4,274.2 346.6,276.2 346.8,274.2 346.9,276.0 347.1,272.9 347.2,274.6 347.4,276.1 347.6,275.3 347.7,273.1 347.9,275.2 348.0,272.8 348.2,271.7 348.4,274.6 348.5,275.9 348.7,275.1 348.8,272.0 349.0,275.1 349.2,274.8 349.3,273.1 349.5,270.1 349.7,275.3 349.8,275.2 350.0,274.6 350.1,271.2 350.3,271.6 350.5,275.3 350.6,275.0 350.8,274.6 350.9,273.5 351.1,274.4 351.3,273.0 351.4,273.4 351.6,272.5 351.7,274.2 351.9,273.2 352.1,275.3 352.2,274.9 352.4,272.6 352.5,276.6 352.7,272.2 352.9,274.5 353.0,275.5 353.2,275.8 353.4,270.5 353.5,275.3 353.7,275.7 353.8,276.0 354.0,270.5 354.2,272.8 354.3,273.7 354.5,273.2 354.6,275.8 354.8,272.8 355.0,275.7 355.1,274.7 355.3,271.6 355.4,272.3 355.6,273.1 355.8,274.0 355.9,275.3 356.1,273.6 356.2,275.2 356.4,271.5 356.6,269.2 356.7,273.3 356.9,274.5 357.1,273.3 357.2,272.3 357.4,274.5 357.5,276.7 357.7,273.7 357.9,272.7 358.0,272.6 358.2,276.8 358.3,273.8 358.5,274.8 358.7,275.7 358.8,275.5 359.0,272.4 359.1,275.3 359.3,275.1 359.5,274.6 359.6,275.4 359.8,273.0 359.9,273.7 360.1,273.0 360.3,275.0 360.4,272.9 360.6,274.4 360.8,272.2 360.9,273.7 361.1,273.3 361.2,273.7 361.4,274.0 361.6,273.6 361.7,273.5 361.9,270.7 362.0,275.5 362.2,272.9 362.4,273.5 362.5,272.6 362.7,275.3 362.8,272.5 363.0,274.6 363.2,275.6 363.3,276.3 363.5,275.6 363.6,274.8 363.8,272.0 364.0,275.8 364.1,275.6 364.3,275.1 364.5,275.1 364.6,274.0 364.8,273.1 364.9,275.5 365.1,275.8 365.3,272.3 365.4,275.2 365.6,274.2 365.7,275.2 365.9,274.3 366.1,275.5 366.2,275.4 366.4,275.2 366.5,271.8 366.7,275.1 366.9,273.9 367.0,272.2 367.2,274.9 367.3,271.8 367.5,275.2 367.7,276.4 367.8,273.1 368.0,275.2 368.1,274.5 368.3,274.8 368.5,271.8 368.6,274.8 368.8,274.1 369.0,275.0 369.1,273.9 369.3,275.5 369.4,274.3 369.6,274.9 369.8,275.9 369.9,274.2 370.1,275.4 370.2,274.2 370.4,274.7 370.6,273.1 370.7,275.0 370.9,275.7 371.0,273.8 371.2,275.1 371.4,274.5 371.5,272.2 371.7,274.4 371.8,275.9 372.0,273.2 372.2,271.2 372.3,274.2 372.5,272.9 372.7,276.7 372.8,273.8 373.0,273.9 373.1,273.0 373.3,274.3 373.5,273.1 373.6,272.6 373.8,273.8 373.9,272.7 374.1,275.9 374.3,272.2 374.4,273.8 374.6,272.9 374.7,271.9 374.9,276.4 375.1,270.8 375.2,276.0 375.4,271.8 375.5,274.0 375.7,277.2 375.9,270.8 376.0,271.9 376.2,275.8 376.4,274.2 376.5,273.1 376.7,273.9 376.8,272.5 377.0,274.1 377.2,276.1 377.3,273.3 377.5,274.1 377.6,275.7 377.8,276.8 378.0,273.0 378.1,274.3 378.3,273.1 378.4,273.0 378.6,273.3 378.8,273.0 378.9,271.3 379.1,271.0 379.2,272.8 379.4,274.1 379.6,275.7 379.7,273.1 379.9,273.7 380.1,274.9 380.2,275.0 380.4,273.7 380.5,273.8 380.7,276.7 380.9,273.4 381.0,273.2 381.2,271.5 381.3,274.5 381.5,273.5 381.7,276.7 381.8,273.4 382.0,275.1 382.1,275.3 382.3,276.3 382.5,272.0 382.6,276.2 382.8,273.9 382.9,273.7 383.1,273.4 383.3,273.3 383.4,273.4 383.6,270.5 383.8,274.7 383.9,274.0 384.1,272.5 384.2,273.8 384.4,277.3 384.6,274.5 384.7,273.3 384.9,276.4 385.0,272.7 385.2,273.7 385.4,273.1 385.5,273.6 385.7,275.0 385.8,274.8 386.0,272.8 386.2,273.7 386.3,274.0 386.5,273.3 386.6,273.8 386.8,272.8 387.0,272.8 387.1,274.0 387.3,272.4 387.4,274.5 387.6,273.6 387.8,272.5 387.9,273.0 388.1,273.2 388.3,273.7 388.4,274.1 388.6,273.6 388.7,272.6 388.9,276.0 389.1,275.2 389.2,274.1 389.4,275.3 389.5,274.4 389.7,273.5 389.9,274.0 390.0,277.8 390.2,275.3 390.3,275.4 390.5,273.3 390.7,274.8 390.8,277.2 391.0,274.5 391.1,275.5 391.3,275.7 391.5,274.8 391.6,276.2 391.8,274.2 392.0,274.6 392.1,273.0 392.3,277.7 392.4,274.3 392.6,274.1 392.8,275.9 392.9,273.2 393.1,273.9 393.2,272.8 393.4,273.9 393.6,273.3 393.7,274.7 393.9,273.7 394.0,273.0 394.2,273.5 394.4,273.7 394.5,273.1 394.7,275.3 394.8,274.9 395.0,274.1 395.2,272.2 395.3,274.6 395.5,272.0 395.7,274.2 395.8,274.0 396.0,273.0 396.1,272.7 396.3,272.9 396.5,276.9 396.6,273.5 396.8,273.6 396.9,275.3 397.1,274.5 397.3,275.4 397.4,272.1 397.6,272.3 397.7,278.7 397.9,273.8 398.1,273.5 398.2,274.1 398.4,275.3 398.5,272.2 398.7,274.3 398.9,273.8 399.0,274.9 399.2,274.1 399.4,273.1 399.5,272.6 399.7,270.3 399.8,275.3 400.0,271.8 400.2,273.3 400.3,276.3 400.5,273.3 400.6,274.8 400.8,273.6 401.0,274.9 401.1,273.9 401.3,273.1 401.4,275.8 401.6,273.5 401.8,271.9 401.9,273.4 402.1,274.7 402.2,272.3 402.4,275.0 402.6,275.0 402.7,277.0 402.9,273.0 403.1,274.8 403.2,271.5 403.4,273.3 403.5,274.0 403.7,274.5 403.9,273.8 404.0,273.7 404.2,273.0 404.3,273.2 404.5,274.3 404.7,274.7 404.8,274.8 405.0,275.3 405.1,275.6 405.3,271.3 405.5,273.1 405.6,273.6 405.8,272.9 405.9,275.4 406.1,275.0 406.3,273.7 406.4,274.0 406.6,275.7 406.7,273.4 406.9,273.4 407.1,275.2 407.2,274.6 407.4,275.9 407.6,274.4 407.7,275.0 407.9,273.1 408.0,272.5 408.2,273.9 408.4,270.0 408.5,274.5 408.7,275.3 408.8,274.0 409.0,273.5 409.2,275.4 409.3,273.8 409.5,275.3 409.6,277.0 409.8,274.9 410.0,275.2 410.1,274.6 410.3,274.2 410.4,274.3 410.6,274.0 410.8,275.4 410.9,271.5 411.1,273.5 411.3,274.8 411.4,272.6 411.6,273.7 411.7,272.9 411.9,274.5 412.1,275.1 412.2,276.0 412.4,274.6 412.5,272.8 412.7,274.2 412.9,274.7 413.0,275.9 413.2,270.8 413.3,274.4 413.5,271.2 413.7,274.9 413.8,274.5 414.0,274.6 414.1,275.1 414.3,274.4 414.5,272.9 414.6,274.3 414.8,275.6 415.0,273.7 415.1,273.9 415.3,272.1 415.4,275.5 415.6,273.1 415.8,272.8 415.9,273.2 416.1,272.6 416.2,273.5 416.4,275.7 416.6,275.0 416.7,275.9 416.9,276.0 417.0,272.5 417.2,274.5 417.4,276.0 417.5,277.1 417.7,271.8 417.8,271.7 418.0,274.5 418.2,273.3 418.3,272.4 418.5,274.3 418.7,272.6 418.8,270.5 419.0,273.7 419.1,274.0 419.3,274.7 419.5,275.1 419.6,274.0 419.8,273.4 419.9,272.8 420.1,271.4 420.3,273.1 420.4,275.2 420.6,274.7 420.7,276.7 420.9,273.5 421.1,271.1 421.2,274.9 421.4,275.2 421.5,272.0 421.7,271.4 421.9,273.9 422.0,274.7 422.2,272.1 422.4,273.2 422.5,272.5 422.7,271.9 422.8,271.7 423.0,273.8 423.2,273.1 423.3,272.6 423.5,269.8 423.6,276.1 423.8,272.2 424.0,273.4 424.1,271.9 424.3,274.1 424.4,271.3 424.6,273.6 424.8,273.2 424.9,274.8 425.1,271.8 425.2,272.4 425.4,273.0 425.6,276.4 425.7,271.1 425.9,273.7 426.0,272.2 426.2,273.6 426.4,274.1 426.5,273.3 426.7,273.4 426.9,273.3 427.0,271.9 427.2,272.4 427.3,270.1 427.5,272.0 427.7,271.2 427.8,271.9 428.0,273.4 428.1,272.7 428.3,272.7 428.5,273.6 428.6,267.8 428.8,272.2 428.9,271.3 429.1,271.0 429.3,268.8 429.4,271.7 429.6,272.5 429.7,272.2 429.9,270.1 430.1,271.1 430.2,271.5 430.4,272.9 430.6,271.7 430.7,269.6 430.9,269.4 431.0,269.4 431.2,269.4 431.4,268.0 431.5,270.3 431.7,267.6 431.8,267.4 432.0,269.6 432.2,268.0 432.3,268.7 432.5,265.5 432.6,270.8 432.8,269.5 433.0,269.4 433.1,270.6 433.3,270.4 433.4,269.0 433.6,273.8 433.8,269.8 433.9,272.4 434.1,274.0 434.3,270.1 434.4,271.5 434.6,270.1 434.7,273.3 434.9,271.2 435.1,270.2 435.2,274.2 435.4,273.6 435.5,270.9 435.7,274.3 435.9,272.8 436.0,276.8 436.2,275.4 436.3,272.0 436.5,272.5 436.7,271.6 436.8,273.2 437.0,273.2 437.1,274.2 437.3,273.3 437.5,271.0 437.6,272.1 437.8,275.4 438.0,275.1 438.1,273.1 438.3,273.2 438.4,273.2 438.6,273.5 438.8,271.0 438.9,274.8 439.1,272.5 439.2,273.7 439.4,269.8 439.6,273.9 439.7,275.5 439.9,270.3 440.0,275.8 440.2,274.3 440.4,272.5 440.5,271.3 440.7,275.3 440.8,274.0 441.0,274.5 441.2,273.3 441.3,272.5 441.5,274.9 441.7,272.3 441.8,275.0 442.0,271.3 442.1,272.3 442.3,271.6 442.5,275.6 442.6,271.2 442.8,272.1 442.9,274.7 443.1,274.1 443.3,276.9 443.4,276.4 443.6,274.6 443.7,274.7 443.9,271.1 444.1,272.5 444.2,273.3 444.4,273.5 444.5,271.8 444.7,272.4 444.9,272.5 445.0,275.3 445.2,274.4 445.3,273.3 445.5,273.4 445.7,274.2 445.8,272.8 446.0,273.4 446.2,271.3 446.3,274.7 446.5,275.2 446.6,274.3 446.8,274.5 447.0,274.3 447.1,276.7 447.3,274.1 447.4,271.9 447.6,272.3 447.8,274.8 447.9,275.3 448.1,274.9 448.2,275.0 448.4,274.1 448.6,271.7 448.7,272.8 448.9,271.2 449.0,273.2 449.2,271.8 449.4,273.9 449.5,273.6 449.7,271.0 449.9,274.9 450.0,274.9 450.2,271.8 450.3,274.0 450.5,274.9 450.7,273.4 450.8,275.1 451.0,274.1 451.1,275.4 451.3,274.1 451.5,273.6 451.6,274.6 451.8,275.0 451.9,274.2 452.1,273.2 452.3,272.7 452.4,273.3 452.6,273.0 452.7,274.1 452.9,274.1 453.1,273.7 453.2,273.8 453.4,274.1 453.6,276.1 453.7,275.6 453.9,273.0 454.0,274.4 454.2,273.3 454.4,273.7 454.5,273.5 454.7,272.9 454.8,271.8 455.0,270.3 455.2,274.1 455.3,275.5 455.5,272.5 455.6,274.6 455.8,273.3 456.0,274.2 456.1,272.7 456.3,273.5 456.4,273.7 456.6,270.4 456.8,274.1 456.9,273.6 457.1,270.2 457.3,274.8 457.4,273.8 457.6,274.1 457.7,274.3 457.9,273.2 458.1,272.3 458.2,273.2 458.4,273.2 458.5,277.0 458.7,276.5 458.9,273.1 459.0,273.2 459.2,274.3 459.3,274.6 459.5,272.8 459.7,272.4 459.8,276.6 460.0,275.4 460.1,271.6 460.3,271.2 460.5,272.6 460.6,274.1 460.8,274.6 461.0,273.3 461.1,271.5 461.3,274.1 461.4,274.7 461.6,273.8 461.8,273.1 461.9,274.7 462.1,273.7 462.2,272.2 462.4,274.0 462.6,271.9 462.7,275.2 462.9,274.5 463.0,272.4 463.2,274.1 463.4,275.6 463.5,270.7 463.7,273.6 463.8,276.2 464.0,271.5 464.2,273.6 464.3,271.7 464.5,273.7 464.6,270.3 464.8,271.4 465.0,273.0 465.1,274.0 465.3,274.4 465.5,274.4 465.6,275.5 465.8,274.8 465.9,274.9 466.1,272.4 466.3,273.6 466.4,278.5 466.6,277.1 466.7,275.0 466.9,274.9 467.1,275.3 467.2,273.2 467.4,276.7 467.5,273.3 467.7,273.7 467.9,277.0 468.0,270.8 468.2,274.4 468.3,271.3 468.5,272.9 468.7,273.7 468.8,273.3 469.0,274.1 469.2,272.7 469.3,273.7 469.5,272.1 469.6,273.3 469.8,271.8 470.0,274.8 470.1,271.9 470.3,274.8 470.4,273.2 470.6,273.4 470.8,275.6 470.9,274.0 471.1,271.0 471.2,274.6 471.4,269.5 471.6,274.2 471.7,273.2 471.9,271.8 472.0,273.9 472.2,273.4 472.4,276.8 472.5,273.2 472.7,276.7 472.9,275.9 473.0,272.9 473.2,272.6 473.3,275.8 473.5,273.6 473.7,274.1 473.8,273.4 474.0,272.0 474.1,273.3 474.3,272.4 474.5,271.5 474.6,273.4 474.8,276.5 474.9,276.2 475.1,273.7 475.3,274.0 475.4,274.6 475.6,275.9 475.7,274.3 475.9,273.1 476.1,273.2 476.2,275.5 476.4,277.7 476.6,272.9 476.7,270.8 476.9,275.0 477.0,273.7 477.2,274.0 477.4,275.7 477.5,273.9 477.7,271.8 477.8,270.9 478.0,273.8 478.2,272.1 478.3,274.3 478.5,271.9 478.6,273.3 478.8,271.6 479.0,273.3 479.1,273.2 479.3,274.7 479.4,275.8 479.6,273.6 479.8,272.5 479.9,276.8 480.1,274.4 480.3,274.7 480.4,274.7 480.6,276.0 480.7,275.3 480.9,274.8 481.1,275.0 481.2,272.5 481.4,272.9 481.5,273.7 481.7,274.0 481.9,273.9 482.0,274.3 482.2,273.9 482.3,273.2 482.5,271.4 482.7,275.1 482.8,274.7 483.0,272.5 483.1,274.6 483.3,274.4 483.5,273.9 483.6,271.1 483.8,272.0 483.9,272.9 484.1,276.3 484.3,272.6 484.4,273.3 484.6,272.2 484.8,273.1 484.9,274.4 485.1,270.7 485.2,269.6 485.4,274.8 485.6,273.9 485.7,272.9 485.9,275.3 486.0,275.3 486.2,270.7 486.4,273.6 486.5,275.5 486.7,272.8 486.8,273.4 487.0,275.3 487.2,273.4 487.3,272.0 487.5,272.8 487.6,271.9 487.8,274.7 488.0,271.3 488.1,275.3 488.3,271.4 488.5,273.9 488.6,271.6 488.8,273.4 488.9,275.4 489.1,275.5 489.3,275.8 489.4,273.7 489.6,274.0 489.7,274.2 489.9,274.8 490.1,273.2 490.2,275.5 490.4,274.3 490.5,275.6 490.7,274.6 490.9,274.9 491.0,272.7 491.2,273.2 491.3,271.9 491.5,273.4 491.7,273.6 491.8,275.1 492.0,271.9 492.2,278.7 492.3,273.7 492.5,275.7 492.6,275.4 492.8,270.1 493.0,273.4 493.1,276.1 493.3,270.2 493.4,275.0 493.6,272.5 493.8,273.1 493.9,274.2 494.1,271.0 494.2,274.1 494.4,272.9 494.6,272.7 494.7,274.9 494.9,279.1 495.0,274.4 495.2,274.7 495.4,273.8 495.5,272.8 495.7,274.2 495.9,276.1 496.0,274.1 496.2,275.2 496.3,273.5 496.5,277.6 496.7,271.4 496.8,274.7 497.0,274.7 497.1,274.2 497.3,272.2 497.5,272.1 497.6,273.5 497.8,274.0 497.9,272.0 498.1,272.2 498.3,274.7 498.4,275.4 498.6,273.0 498.7,272.8 498.9,272.7 499.1,277.6 499.2,274.6 499.4,273.7 499.6,275.3 499.7,277.3 499.9,275.6 500.0,271.7 500.2,273.7 500.4,273.2 500.5,273.3 500.7,272.0 500.8,273.2 501.0,272.2 501.2,274.3 501.3,273.9 501.5,271.7 501.6,271.3 501.8,273.1 502.0,274.8 502.1,274.6 502.3,273.7 502.4,268.9 502.6,273.1 502.8,272.7 502.9,273.3 503.1,272.0 503.2,273.2 503.4,272.8 503.6,277.9 503.7,274.9 503.9,273.5 504.1,273.8 504.2,273.6 504.4,274.1 504.5,273.2 504.7,273.8 504.9,275.4 505.0,275.1 505.2,274.3 505.3,275.8 505.5,274.2 505.7,272.3 505.8,271.2 506.0,272.8 506.1,273.7 506.3,274.4 506.5,275.4 506.6,273.0 506.8,272.6 506.9,275.0 507.1,275.6 507.3,273.1 507.4,274.3 507.6,275.9 507.8,274.3 507.9,273.7 508.1,270.7 508.2,275.8 508.4,274.8 508.6,274.0 508.7,273.1 508.9,271.9 509.0,273.7 509.2,273.7 509.4,275.5 509.5,272.0 509.7,276.0 509.8,273.9 510.0,275.6 510.2,272.4 510.3,274.3 510.5,275.7 510.6,274.0 510.8,271.6 511.0,273.3 511.1,274.6 511.3,271.7 511.5,271.7 511.6,274.2 511.8,272.4 511.9,274.8 512.1,272.1 512.3,271.1 512.4,272.7 512.6,276.1 512.7,272.5 512.9,273.8 513.1,274.2 513.2,272.4 513.4,275.5 513.5,274.1 513.7,274.5 513.9,271.3 514.0,271.2 514.2,269.7 514.3,273.5 514.5,273.5 514.7,274.9 514.8,276.1 515.0,273.4 515.2,273.4 515.3,274.5 515.5,276.1 515.6,272.6 515.8,274.8 516.0,273.5 516.1,273.3 516.3,275.1 516.4,272.6 516.6,272.2 516.8,274.8 516.9,273.8 517.1,273.4 517.2,273.6 517.4,274.6 517.6,273.3 517.7,275.0 517.9,274.5 518.0,276.1 518.2,275.7 518.4,275.1 518.5,273.5 518.7,274.0 518.9,272.9 519.0,278.1 519.2,273.5 519.3,274.7 519.5,275.9 519.7,271.8 519.8,272.6 520.0,273.2 520.1,272.3 520.3,271.9 520.5,273.1 520.6,275.8 520.8,274.9 520.9,273.9 521.1,273.9 521.3,271.3 521.4,274.9 521.6,274.5 521.7,272.2 521.9,274.1 522.1,273.5 522.2,273.1 522.4,272.4 522.5,272.8 522.7,272.4 522.9,274.5 523.0,274.4 523.2,274.3 523.4,273.6 523.5,273.2 523.7,276.9 523.8,271.0 524.0,275.6 524.2,274.4 524.3,273.9 524.5,273.1 524.6,273.5 524.8,272.1 525.0,271.8 525.1,273.7 525.3,271.4 525.4,275.1 525.6,275.5 525.8,268.7 525.9,271.5 526.1,274.3 526.2,274.2 526.4,274.0 526.6,274.5 526.7,275.0 526.9,275.1 527.1,276.5 527.2,273.9 527.4,275.1 527.5,271.4 527.7,273.6 527.9,272.0 528.0,275.9 528.2,277.4 528.3,274.7 528.5,271.9 528.7,273.7 528.8,273.9 529.0,274.1 529.1,275.5 529.3,275.3 529.5,269.9 529.6,275.9 529.8,273.1 529.9,273.0 530.1,276.0 530.3,273.4 530.4,271.8 530.6,271.9"/><polyline fill="none" stroke="#000" stroke-width="2.0" stroke-linejoin="round" points="49.7,363.6 49.9,364.9 50.0,365.7 50.2,363.3 50.3,362.9 50.5,365.9 50.7,362.9 50.8,365.7 51.0,363.9 51.1,363.9 51.3,363.2 51.5,364.0 51.6,362.9 51.8,362.6 52.0,363.4 52.1,362.6 52.3,364.0 52.4,363.7 52.6,363.2 52.8,363.3 52.9,363.2 53.1,366.1 53.2,363.5 53.4,362.7 53.6,363.1 53.7,364.5 53.9,363.3 54.0,363.3 54.2,363.2 54.4,363.8 54.5,364.1 54.7,364.2 54.8,361.2 55.0,362.0 55.2,359.7 55.3,364.7 55.5,365.2 55.7,365.4 55.8,363.8 56.0,365.2 56.1,363.5 56.3,363.4 56.5,361.3 56.6,362.4 56.8,362.7 56.9,364.9 57.1,366.0 57.3,362.9 57.4,364.1 57.6,364.0 57.7,362.4 57.9,361.1 58.1,362.5 58.2,361.5 58.4,363.1 58.5,363.3 58.7,363.3 58.9,363.3 59.0,364.3 59.2,362.2 59.3,364.8 59.5,361.1 59.7,363.6 59.8,364.1 60.0,362.4 60.2,361.2 60.3,364.5 60.5,362.6 60.6,364.7 60.8,364.7 61.0,363.5 61.1,363.5 61.3,365.0 61.4,364.1 61.6,362.2 61.8,363.8 61.9,364.3 62.1,363.8 62.2,363.8 62.4,363.3 62.6,363.4 62.7,362.2 62.9,361.5 63.0,365.2 63.2,362.6 63.4,363.9 63.5,361.4 63.7,363.8 63.9,362.3 64.0,367.8 64.2,362.1 64.3,362.2 64.5,364.9 64.7,365.2 64.8,360.5 65.0,363.9 65.1,364.8 65.3,361.8 65.5,364.5 65.6,362.8 65.8,362.1 65.9,363.0 66.1,362.9 66.3,361.5 66.4,366.8 66.6,362.9 66.7,362.5 66.9,364.8 67.1,363.4 67.2,365.5 67.4,363.2 67.6,364.0 67.7,363.7 67.9,363.8 68.0,363.2 68.2,363.4 68.4,366.0 68.5,362.6 68.7,362.8 68.8,363.0 69.0,364.4 69.2,364.1 69.3,364.9 69.5,361.6 69.6,363.9 69.8,363.3 70.0,363.1 70.1,363.8 70.3,360.7 70.4,363.9 70.6,363.8 70.8,361.5 70.9,363.4 71.1,365.8 71.3,363.0 71.4,364.4 71.6,363.2 71.7,362.4 71.9,362.2 72.1,363.0 72.2,365.4 72.4,364.7 72.5,362.5 72.7,365.0 72.9,363.4 73.0,362.5 73.2,364.2 73.3,362.2 73.5,361.3 73.7,365.4 73.8,360.9 74.0,364.3 74.1,361.4 74.3,363.5 74.5,363.3 74.6,362.9 74.8,360.4 75.0,363.4 75.1,363.5 75.3,362.3 75.4,363.4 75.6,365.0 75.8,362.5 75.9,363.9 76.1,361.9 76.2,364.1 76.4,364.5 76.6,367.1 76.7,364.8 76.9,364.2 77.0,365.6 77.2,362.1 77.4,365.1 77.5,362.8 77.7,362.7 77.8,365.1 78.0,363.9 78.2,365.4 78.3,361.5 78.5,363.9 78.6,362.8 78.8,363.2 79.0,360.8 79.1,364.9 79.3,363.9 79.5,362.1 79.6,361.6 79.8,362.3 79.9,365.6 80.1,363.4 80.3,363.1 80.4,364.3 80.6,363.6 80.7,363.9 80.9,364.6 81.1,364.0 81.2,364.8 81.4,361.9 81.5,363.6 81.7,363.1 81.9,363.7 82.0,363.5 82.2,362.7 82.3,363.1 82.5,364.9 82.7,362.8 82.8,361.8 83.0,364.4 83.2,365.0 83.3,363.2 83.5,363.8 83.6,362.4 83.8,363.3 84.0,365.1 84.1,364.7 84.3,363.8 84.4,363.2 84.6,361.3 84.8,364.0 84.9,364.2 85.1,365.1 85.2,366.4 85.4,364.1 85.6,364.9 85.7,362.0 85.9,365.3 86.0,364.8 86.2,365.5 86.4,364.5 86.5,364.2 86.7,365.7 86.9,362.6 87.0,364.5 87.2,365.1 87.3,362.5 87.5,361.9 87.7,364.2 87.8,363.8 88.0,364.4 88.1,364.5 88.3,362.5 88.5,364.1 88.6,365.2 88.8,363.1 88.9,363.2 89.1,362.0 89.3,364.8 89.4,366.4 89.6,361.7 89.7,364.7 89.9,364.9 90.1,362.8 90.2,363.1 90.4,362.1 90.6,362.5 90.7,363.8 90.9,364.5 91.0,363.8 91.2,364.8 91.4,363.9 91.5,361.9 91.7,365.7 91.8,365.3 92.0,362.6 92.2,366.1 92.3,364.3 92.5,363.8 92.6,366.3 92.8,360.1 93.0,361.3 93.1,364.6 93.3,363.3 93.4,362.3 93.6,365.7 93.8,364.3 93.9,361.8 94.1,362.7 94.3,364.8 94.4,366.1 94.6,360.8 94.7,364.0 94.9,363.1 95.1,361.1 95.2,363.4 95.4,361.3 95.5,362.9 95.7,365.9 95.9,364.3 96.0,364.7 96.2,364.5 96.3,364.1 96.5,365.0 96.7,362.0 96.8,363.1 97.0,364.8 97.1,362.6 97.3,363.0 97.5,365.3 97.6,365.8 97.8,362.8 97.9,362.5 98.1,364.5 98.3,364.0 98.4,362.7 98.6,364.5 98.8,364.4 98.9,363.7 99.1,367.8 99.2,365.6 99.4,364.8 99.6,365.1 99.7,367.8 99.9,365.2 100.0,362.6 100.2,364.1 100.4,363.7 100.5,362.8 100.7,364.0 100.8,364.0 101.0,363.6 101.2,362.9 101.3,364.8 101.5,361.4 101.6,364.8 101.8,363.6 102.0,364.0 102.1,360.3 102.3,366.0 102.5,361.2 102.6,362.4 102.8,364.6 102.9,362.8 103.1,363.1 103.3,360.5 103.4,363.0 103.6,363.9 103.7,364.6 103.9,363.2 104.1,363.9 104.2,364.3 104.4,362.7 104.5,362.6 104.7,366.4 104.9,362.4 105.0,365.4 105.2,363.7 105.3,365.7 105.5,362.7 105.7,364.4 105.8,364.1 106.0,363.3 106.2,364.1 106.3,362.5 106.5,363.5 106.6,363.1 106.8,364.7 107.0,363.5 107.1,361.7 107.3,363.1 107.4,363.5 107.6,362.4 107.8,365.5 107.9,364.2 108.1,364.8 108.2,362.6 108.4,363.1 108.6,365.1 108.7,361.6 108.9,364.2 109.0,363.8 109.2,362.9 109.4,363.8 109.5,362.1 109.7,364.0 109.9,361.9 110.0,361.8 110.2,365.6 110.3,362.6 110.5,360.6 110.7,365.0 110.8,362.5 111.0,358.6 111.1,363.6 111.3,365.0 111.5,364.1 111.6,366.1 111.8,363.5 111.9,364.5 112.1,362.2 112.3,363.9 112.4,365.8 112.6,364.4 112.7,363.9 112.9,360.8 113.1,363.1 113.2,361.8 113.4,364.7 113.6,362.6 113.7,364.2 113.9,362.2 114.0,366.3 114.2,362.0 114.4,363.8 114.5,367.4 114.7,363.9 114.8,362.4 115.0,364.5 115.2,365.1 115.3,364.9 115.5,360.8 115.6,363.9 115.8,360.6 116.0,366.4 116.1,363.7 116.3,363.0 116.4,364.6 116.6,364.3 116.8,361.9 116.9,366.0 117.1,363.3 117.2,361.1 117.4,365.6 117.6,365.8 117.7,365.4 117.9,364.4 118.1,362.4 118.2,365.0 118.4,366.3 118.5,364.8 118.7,365.9 118.9,362.5 119.0,365.1 119.2,365.0 119.3,361.5 119.5,361.3 119.7,362.6 119.8,363.8 120.0,364.3 120.1,363.3 120.3,363.5 120.5,363.5 120.6,363.8 120.8,364.5 120.9,364.4 121.1,363.6 121.3,364.0 121.4,363.0 121.6,364.8 121.8,362.9 121.9,366.0 122.1,363.6 122.2,364.0 122.4,362.5 122.6,363.1 122.7,363.9 122.9,363.7 123.0,362.7 123.2,362.0 123.4,363.7 123.5,363.9 123.7,364.4 123.8,365.4 124.0,363.2 124.2,360.8 124.3,363.4 124.5,361.0 124.6,361.8 124.8,365.1 125.0,364.5 125.1,362.7 125.3,362.7 125.5,363.5 125.6,361.1 125.8,364.3 125.9,363.1 126.1,366.3 126.3,362.1 126.4,365.1 126.6,362.7 126.7,365.1 126.9,362.2 127.1,364.7 127.2,363.0 127.4,362.5 127.5,363.4 127.7,364.3 127.9,364.2 128.0,365.9 128.2,364.8 128.3,359.8 128.5,363.1 128.7,360.8 128.8,363.1 129.0,364.5 129.2,361.7 129.3,361.9 129.5,363.9 129.6,363.2 129.8,365.9 130.0,364.1 130.1,364.4 130.3,366.2 130.4,362.9 130.6,363.6 130.8,362.2 130.9,364.0 131.1,365.1 131.2,365.6 131.4,363.6 131.6,362.6 131.7,362.5 131.9,361.6 132.0,363.8 132.2,365.6 132.4,360.2 132.5,360.5 132.7,365.7 132.9,361.3 133.0,364.1 133.2,361.8 133.3,364.8 133.5,364.8 133.7,363.9 133.8,364.8 134.0,363.7 134.1,364.5 134.3,366.3 134.5,365.2 134.6,362.7 134.8,362.5 134.9,363.3 135.1,363.3 135.3,363.8 135.4,362.8 135.6,364.6 135.7,363.7 135.9,364.2 136.1,363.7 136.2,364.5 136.4,361.9 136.5,366.0 136.7,364.2 136.9,364.3 137.0,364.5 137.2,365.2 137.4,364.7 137.5,364.0 137.7,363.4 137.8,361.3 138.0,364.0 138.2,363.2 138.3,363.2 138.5,367.2 138.6,361.0 138.8,363.7 139.0,365.4 139.1,365.1 139.3,365.5 139.4,361.8 139.6,362.3 139.8,364.6 139.9,363.2 140.1,366.2 140.2,364.0 140.4,364.0 140.6,364.3 140.7,363.3 140.9,363.8 141.1,362.7 141.2,363.6 141.4,363.0 141.5,364.0 141.7,361.6 141.9,361.5 142.0,364.3 142.2,364.0 142.3,362.3 142.5,363.3 142.7,362.1 142.8,366.6 143.0,361.4 143.1,366.2 143.3,362.5 143.5,364.3 143.6,363.3 143.8,363.1 143.9,365.0 144.1,364.9 144.3,363.3 144.4,362.4 144.6,366.7 144.8,365.7 144.9,363.9 145.1,363.2 145.2,364.1 145.4,363.8 145.6,365.4 145.7,362.3 145.9,363.7 146.0,362.5 146.2,365.6 146.4,366.3 146.5,363.5 146.7,364.5 146.8,365.7 147.0,363.2 147.2,362.3 147.3,365.2 147.5,364.4 147.6,363.4 147.8,365.8 148.0,364.0 148.1,361.1 148.3,364.2 148.5,363.6 148.6,366.4 148.8,363.7 148.9,363.4 149.1,364.3 149.3,364.0 149.4,361.6 149.6,363.8 149.7,363.2 149.9,365.7 150.1,367.2 150.2,362.0 150.4,362.3 150.5,362.4 150.7,362.7 150.9,362.7 151.0,363.8 151.2,365.3 151.3,361.8 151.5,361.4 151.7,361.0 151.8,365.3 152.0,365.6 152.2,361.4 152.3,361.3 152.5,363.9 152.6,365.3 152.8,365.2 153.0,364.0 153.1,364.7 153.3,364.1 153.4,362.9 153.6,366.5 153.8,363.7 153.9,362.1 154.1,363.0 154.2,361.4 154.4,363.7 154.6,365.3 154.7,361.8 154.9,365.3 155.0,366.7 155.2,364.2 155.4,362.0 155.5,362.4 155.7,363.2 155.8,361.8 156.0,361.8 156.2,363.3 156.3,363.4 156.5,364.6 156.7,361.9 156.8,366.4 157.0,365.2 157.1,365.0 157.3,362.7 157.5,366.2 157.6,363.2 157.8,366.3 157.9,365.2 158.1,362.4 158.3,363.0 158.4,366.4 158.6,365.1 158.7,363.4 158.9,364.0 159.1,364.0 159.2,362.5 159.4,363.4 159.5,362.7 159.7,363.0 159.9,364.3 160.0,362.3 160.2,364.7 160.4,363.8 160.5,364.8 160.7,365.0 160.8,365.5 161.0,364.6 161.2,364.7 161.3,363.4 161.5,364.5 161.6,362.3 161.8,363.3 162.0,364.8 162.1,363.6 162.3,364.3 162.4,362.1 162.6,365.7 162.8,362.8 162.9,364.2 163.1,363.6 163.2,365.0 163.4,363.1 163.6,362.2 163.7,360.9 163.9,363.2 164.1,361.9 164.2,364.4 164.4,365.8 164.5,360.4 164.7,361.8 164.9,364.1 165.0,365.5 165.2,364.1 165.3,364.1 165.5,364.4 165.7,364.5 165.8,366.1 166.0,364.5 166.1,361.8 166.3,363.0 166.5,364.0 166.6,362.5 166.8,363.3 166.9,362.9 167.1,362.6 167.3,364.7 167.4,363.1 167.6,362.0 167.8,362.6 167.9,363.7 168.1,366.7 168.2,364.0 168.4,365.8 168.6,364.4 168.7,360.5 168.9,364.2 169.0,362.4 169.2,361.7 169.4,362.1 169.5,366.3 169.7,361.3 169.8,362.7 170.0,365.3 170.2,364.6 170.3,361.1 170.5,363.5 170.6,362.9 170.8,363.3 171.0,364.7 171.1,362.8 171.3,363.2 171.5,365.8 171.6,360.9 171.8,363.1 171.9,364.3 172.1,361.8 172.3,362.7 172.4,361.7 172.6,363.9 172.7,362.7 172.9,364.8 173.1,365.1 173.2,363.7 173.4,363.1 173.5,364.0 173.7,363.7 173.9,361.8 174.0,365.2 174.2,364.0 174.3,364.8 174.5,361.6 174.7,364.9 174.8,366.7 175.0,364.5 175.1,361.5 175.3,363.7 175.5,363.5 175.6,363.9 175.8,363.3 176.0,364.3 176.1,362.9 176.3,363.9 176.4,362.6 176.6,363.8 176.8,365.1 176.9,362.9 177.1,364.6 177.2,362.3 177.4,363.1 177.6,363.3 177.7,365.4 177.9,362.5 178.0,365.4 178.2,361.4 178.4,363.4 178.5,364.9 178.7,364.6 178.8,362.1 179.0,361.8 179.2,364.9 179.3,361.7 179.5,364.4 179.7,362.8 179.8,363.6 180.0,367.0 180.1,365.9 180.3,364.8 180.5,361.5 180.6,364.1 180.8,363.7 180.9,363.4 181.1,365.6 181.3,361.0 181.4,364.0 181.6,363.8 181.7,362.5 181.9,366.1 182.1,361.7 182.2,363.6 182.4,363.7 182.5,360.3 182.7,361.4 182.9,362.1 183.0,364.7 183.2,365.0 183.4,364.4 183.5,363.9 183.7,360.3 183.8,363.9 184.0,362.8 184.2,365.3 184.3,365.5 184.5,366.9 184.6,364.6 184.8,364.8 185.0,362.0 185.1,363.7 185.3,361.7 185.4,364.9 185.6,361.8 185.8,363.2 185.9,362.3 186.1,362.8 186.2,364.2 186.4,362.7 186.6,363.9 186.7,362.0 186.9,365.6 187.1,362.6 187.2,365.0 187.4,366.7 187.5,359.9 187.7,362.0 187.9,363.2 188.0,365.3 188.2,362.8 188.3,364.1 188.5,362.4 188.7,364.4 188.8,361.7 189.0,364.8 189.1,359.1 189.3,360.7 189.5,366.2 189.6,363.8 189.8,362.2 189.9,366.8 190.1,365.1 190.3,365.2 190.4,362.9 190.6,364.4 190.8,364.2 190.9,361.0 191.1,364.4 191.2,363.2 191.4,365.4 191.6,365.4 191.7,362.5 191.9,362.6 192.0,363.8 192.2,364.5 192.4,362.9 192.5,363.3 192.7,364.4 192.8,364.1 193.0,365.2 193.2,363.8 193.3,362.1 193.5,360.8 193.6,364.7 193.8,363.0 194.0,362.9 194.1,363.0 194.3,361.1 194.4,362.9 194.6,359.5 194.8,362.8 194.9,362.1 195.1,366.2 195.3,364.1 195.4,363.1 195.6,363.7 195.7,364.5 195.9,362.3 196.1,363.1 196.2,362.9 196.4,367.2 196.5,363.5 196.7,360.4 196.9,364.6 197.0,367.3 197.2,362.0 197.3,368.7 197.5,363.3 197.7,364.9 197.8,362.5 198.0,363.0 198.1,361.5 198.3,361.8 198.5,360.1 198.6,365.1 198.8,361.6 199.0,363.9 199.1,363.9 199.3,362.4 199.4,363.4 199.6,363.2 199.8,362.6 199.9,363.4 200.1,363.4 200.2,361.8 200.4,361.4 200.6,362.0 200.7,363.5 200.9,365.4 201.0,365.6 201.2,363.8 201.4,364.8 201.5,363.5 201.7,365.0 201.8,363.5 202.0,363.9 202.2,362.9 202.3,363.3 202.5,366.2 202.7,361.4 202.8,363.3 203.0,362.4 203.1,364.7 203.3,366.1 203.5,362.8 203.6,359.0 203.8,364.2 203.9,364.2 204.1,360.6 204.3,362.9 204.4,363.1 204.6,359.7 204.7,364.3 204.9,363.9 205.1,363.6 205.2,361.6 205.4,362.1 205.5,362.2 205.7,363.9 205.9,361.7 206.0,365.4 206.2,363.8 206.4,359.8 206.5,365.8 206.7,363.4 206.8,362.3 207.0,363.3 207.2,360.3 207.3,363.4 207.5,359.3 207.6,361.5 207.8,365.2 208.0,365.1 208.1,362.6 208.3,361.6 208.4,364.5 208.6,363.0 208.8,363.4 208.9,364.0 209.1,361.4 209.2,364.3 209.4,359.7 209.6,365.3 209.7,360.5 209.9,362.0 210.1,361.9 210.2,364.1 210.4,364.1 210.5,363.5 210.7,363.8 210.9,363.7 211.0,362.8 211.2,359.9 211.3,359.3 211.5,359.3 211.7,362.8 211.8,362.5 212.0,362.6 212.1,363.2 212.3,362.5 212.5,361.2 212.6,360.4 212.8,359.8 212.9,364.7 213.1,364.2 213.3,360.6 213.4,362.3 213.6,363.4 213.7,365.3 213.9,361.7 214.1,363.0 214.2,364.5 214.4,359.9 214.6,361.5 214.7,362.6 214.9,361.4 215.0,366.0 215.2,364.0 215.4,362.9 215.5,361.0 215.7,363.9 215.8,363.5 216.0,361.6 216.2,361.7 216.3,360.0 216.5,362.3 216.6,363.8 216.8,364.0 217.0,363.3 217.1,363.7 217.3,361.3 217.4,361.5 217.6,364.2 217.8,362.9 217.9,360.9 218.1,363.0 218.3,363.5 218.4,363.3 218.6,362.2 218.7,361.2 218.9,362.7 219.1,364.8 219.2,362.2 219.4,360.8 219.5,362.4 219.7,359.8 219.9,362.2 220.0,361.2 220.2,363.3 220.3,361.8 220.5,363.4 220.7,365.5 220.8,361.1 221.0,360.0 221.1,362.2 221.3,361.2 221.5,361.6 221.6,360.2 221.8,362.2 222.0,361.3 222.1,357.3 222.3,360.6 222.4,361.5 222.6,362.9 222.8,359.8 222.9,359.3 223.1,362.7 223.2,359.5 223.4,360.6 223.6,361.2 223.7,361.6 223.9,360.2 224.0,358.0 224.2,361.8 224.4,359.0 224.5,358.7 224.7,363.3 224.8,361.1 225.0,357.3 225.2,358.2 225.3,358.5 225.5,357.3 225.7,354.8 225.8,359.9 226.0,359.6 226.1,358.3 226.3,356.7 226.5,357.7 226.6,358.2 226.8,354.4 226.9,355.5 227.1,354.6 227.3,356.8 227.4,355.4 227.6,351.5 227.7,352.4 227.9,357.2 228.1,350.3 228.2,352.2 228.4,349.6 228.5,353.4 228.7,349.3 228.9,347.4 229.0,344.5 229.2,345.8 229.4,347.6 229.5,346.1 229.7,339.2 229.8,346.2 230.0,339.5 230.2,335.6 230.3,337.7 230.5,333.7 230.6,332.2 230.8,330.2 231.0,330.3 231.1,327.0 231.3,320.8 231.4,326.9 231.6,321.1 231.8,325.6 231.9,321.2 232.1,319.6 232.2,315.9 232.4,318.6 232.6,310.1 232.7,305.5 232.9,309.4 233.0,294.7 233.2,303.3 233.4,304.6 233.5,300.7 233.7,307.2 233.9,304.0 234.0,300.9 234.2,298.4 234.3,305.1 234.5,297.4 234.7,299.0 234.8,304.9 235.0,305.1 235.1,312.5 235.3,304.0 235.5,298.3 235.6,310.7 235.8,314.9 235.9,310.8 236.1,319.6 236.3,322.3 236.4,314.5 236.6,317.3 236.7,316.4 236.9,325.0 237.1,327.6 237.2,329.0 237.4,324.4 237.6,327.9 237.7,327.6 237.9,328.8 238.0,331.4 238.2,332.3 238.4,338.2 238.5,341.5 238.7,343.4 238.8,342.9 239.0,342.3 239.2,345.3 239.3,348.0 239.5,346.7 239.6,348.6 239.8,348.6 240.0,349.0 240.1,351.1 240.3,349.2 240.4,354.9 240.6,349.6 240.8,354.8 240.9,351.3 241.1,358.1 241.3,357.2 241.4,354.0 241.6,355.2 241.7,354.2 241.9,356.8 242.1,358.0 242.2,362.6 242.4,355.1 242.5,360.4 242.7,357.1 242.9,359.0 243.0,360.4 243.2,359.9 243.3,359.8 243.5,358.9 243.7,359.4 243.8,359.8 244.0,361.8 244.1,357.1 244.3,359.0 244.5,357.8 244.6,358.4 244.8,358.8 245.0,362.3 245.1,364.2 245.3,362.9 245.4,358.5 245.6,360.8 245.8,358.8 245.9,361.6 246.1,363.1 246.2,362.0 246.4,362.5 246.6,360.8 246.7,357.8 246.9,357.8 247.0,361.1 247.2,362.3 247.4,363.5 247.5,360.8 247.7,361.6 247.8,361.9 248.0,363.3 248.2,361.5 248.3,359.8 248.5,363.5 248.7,362.4 248.8,362.4 249.0,359.7 249.1,361.8 249.3,359.1 249.5,358.6 249.6,361.6 249.8,361.3 249.9,362.9 250.1,364.4 250.3,362.0 250.4,365.0 250.6,361.2 250.7,363.4 250.9,360.1 251.1,362.4 251.2,361.7 251.4,361.9 251.5,363.2 251.7,359.3 251.9,362.5 252.0,361.1 252.2,362.6 252.3,363.0 252.5,361.8 252.7,361.8 252.8,360.6 253.0,363.3 253.2,361.4 253.3,363.2 253.5,360.3 253.6,364.7 253.8,360.9 254.0,364.4 254.1,361.9 254.3,363.5 254.4,362.4 254.6,363.7 254.8,362.7 254.9,364.7 255.1,363.7 255.2,363.8 255.4,365.3 255.6,361.6 255.7,364.8 255.9,362.9 256.0,360.4 256.2,363.5 256.4,362.5 256.5,365.4 256.7,362.0 256.9,362.9 257.0,363.2 257.2,359.9 257.3,363.6 257.5,361.3 257.7,365.1 257.8,365.5 258.0,362.9 258.1,360.4 258.3,363.2 258.5,363.2 258.6,364.0 258.8,362.5 258.9,361.1 259.1,362.7 259.3,361.5 259.4,365.7 259.6,361.9 259.7,362.0 259.9,362.9 260.1,361.1 260.2,362.3 260.4,362.8 260.6,362.3 260.7,362.6 260.9,364.9 261.0,363.7 261.2,361.0 261.4,362.4 261.5,364.2 261.7,362.1 261.8,363.2 262.0,363.0 262.2,363.9 262.3,362.8 262.5,362.9 262.6,361.8 262.8,363.7 263.0,361.7 263.1,365.8 263.3,363.1 263.4,362.8 263.6,364.3 263.8,363.0 263.9,363.3 264.1,363.1 264.3,362.0 264.4,361.7 264.6,362.1 264.7,364.9 264.9,362.2 265.1,362.6 265.2,362.5 265.4,364.2 265.5,366.2 265.7,361.8 265.9,364.0 266.0,363.4 266.2,362.7 266.3,364.0 266.5,361.3 266.7,364.5 266.8,363.6 267.0,361.7 267.1,365.6 267.3,364.5 267.5,365.0 267.6,361.0 267.8,362.8 268.0,362.4 268.1,364.2 268.3,365.3 268.4,360.4 268.6,363.3 268.8,363.1 268.9,364.8 269.1,363.2 269.2,361.3 269.4,363.0 269.6,361.7 269.7,362.1 269.9,363.3 270.0,362.6 270.2,363.7 270.4,361.0 270.5,366.8 270.7,365.2 270.8,364.4 271.0,361.3 271.2,360.0 271.3,362.0 271.5,363.0 271.6,366.7 271.8,365.3 272.0,362.5 272.1,365.1 272.3,365.2 272.5,363.3 272.6,365.2 272.8,363.8 272.9,362.3 273.1,361.6 273.3,363.1 273.4,364.8 273.6,361.3 273.7,360.9 273.9,364.2 274.1,359.2 274.2,366.1 274.4,362.7 274.5,364.5 274.7,366.1 274.9,361.2 275.0,361.8 275.2,366.7 275.3,362.9 275.5,363.2 275.7,363.7 275.8,365.0 276.0,365.4 276.2,363.5 276.3,362.9 276.5,363.3 276.6,363.8 276.8,365.3 277.0,363.6 277.1,366.1 277.3,362.1 277.4,364.2 277.6,366.0 277.8,365.3 277.9,363.9 278.1,362.1 278.2,362.3 278.4,363.2 278.6,363.9 278.7,363.0 278.9,361.2 279.0,362.3 279.2,364.2 279.4,364.7 279.5,361.3 279.7,362.9 279.9,360.9 280.0,362.6 280.2,368.7 280.3,363.5 280.5,362.9 280.7,362.5 280.8,361.6 281.0,360.6 281.1,363.3 281.3,363.0 281.5,365.6 281.6,361.0 281.8,364.1 281.9,365.4 282.1,360.5 282.3,364.4 282.4,361.0 282.6,364.2 282.7,365.6 282.9,363.4 283.1,363.9 283.2,362.4 283.4,363.9 283.6,365.1 283.7,363.2 283.9,363.2 284.0,364.0 284.2,364.7 284.4,361.0 284.5,363.5 284.7,362.4 284.8,364.2 285.0,365.0 285.2,363.9 285.3,365.4 285.5,362.0 285.6,362.8 285.8,362.0 286.0,363.5 286.1,363.6 286.3,363.2 286.4,361.6 286.6,363.3 286.8,362.8 286.9,364.4 287.1,363.0 287.3,365.2 287.4,363.8 287.6,360.7 287.7,363.2 287.9,361.3 288.1,364.9 288.2,365.6 288.4,363.4 288.5,364.1 288.7,361.3 288.9,360.1 289.0,362.6 289.2,363.1 289.3,361.2 289.5,363.6 289.7,363.9 289.8,364.4 290.0,365.8 290.1,364.7 290.3,362.9 290.5,363.6 290.6,364.4 290.8,361.9 290.9,365.5 291.1,364.8 291.3,363.1 291.4,362.5 291.6,369.2 291.8,364.7 291.9,364.9 292.1,366.2 292.2,364.9 292.4,363.8 292.6,364.5 292.7,362.1 292.9,364.6 293.0,361.2 293.2,364.1 293.4,364.3 293.5,361.2 293.7,366.4 293.8,361.8 294.0,365.1 294.2,362.7 294.3,364.0 294.5,362.5 294.6,367.2 294.8,365.0 295.0,366.2 295.1,364.7 295.3,364.5 295.5,363.7 295.6,363.2 295.8,364.4 295.9,363.8 296.1,363.3 296.3,361.5 296.4,363.1 296.6,364.4 296.7,362.8 296.9,364.0 297.1,363.3 297.2,362.0 297.4,362.2 297.5,362.4 297.7,363.1 297.9,363.1 298.0,365.2 298.2,361.9 298.3,360.5 298.5,364.6 298.7,362.9 298.8,363.4 299.0,367.3 299.2,365.7 299.3,364.4 299.5,365.0 299.6,363.7 299.8,365.0 300.0,362.6 300.1,362.5 300.3,362.8 300.4,365.9 300.6,365.9 300.8,362.6 300.9,365.3 301.1,363.3 301.2,365.2 301.4,363.1 301.6,365.0 301.7,363.4 301.9,363.1 302.0,363.5 302.2,363.8 302.4,362.7 302.5,361.5 302.7,366.1 302.9,363.0 303.0,360.8 303.2,360.2 303.3,359.4 303.5,362.6 303.7,365.6 303.8,361.1 304.0,363.1 304.1,360.8 304.3,365.2 304.5,364.1 304.6,364.1 304.8,365.6 304.9,366.0 305.1,365.1 305.3,362.7 305.4,361.6 305.6,362.0 305.7,360.9 305.9,366.3 306.1,363.3 306.2,363.8 306.4,363.9 306.6,366.6 306.7,362.7 306.9,365.3 307.0,364.0 307.2,363.4 307.4,360.7 307.5,365.0 307.7,362.5 307.8,362.9 308.0,363.9 308.2,363.7 308.3,365.3 308.5,362.6 308.6,363.8 308.8,364.0 309.0,363.6 309.1,364.6 309.3,363.2 309.4,365.4 309.6,362.5 309.8,361.4 309.9,363.5 310.1,365.4 310.2,362.8 310.4,362.6 310.6,363.1 310.7,363.8 310.9,363.3 311.1,364.1 311.2,361.0 311.4,365.8 311.5,364.5 311.7,362.3 311.9,365.6 312.0,364.3 312.2,365.8 312.3,361.8 312.5,366.1 312.7,363.7 312.8,360.5 313.0,364.7 313.1,363.1 313.3,362.1 313.5,363.3 313.6,360.7 313.8,364.5 313.9,363.3 314.1,363.2 314.3,365.7 314.4,363.6 314.6,362.6 314.8,362.2 314.9,363.5 315.1,365.2 315.2,362.7 315.4,362.0 315.6,365.0 315.7,363.7 315.9,363.6 316.0,366.7 316.2,361.8 316.4,363.9 316.5,360.9 316.7,363.1 316.8,364.5 317.0,365.3 317.2,361.7 317.3,364.9 317.5,364.8 317.6,363.4 317.8,367.3 318.0,363.6 318.1,362.3 318.3,364.2 318.5,360.8 318.6,365.9 318.8,365.1 318.9,363.0 319.1,364.5 319.3,364.4 319.4,366.5 319.6,362.7 319.7,361.7 319.9,360.6 320.1,363.2 320.2,361.3 320.4,363.3 320.5,364.2 320.7,362.9 320.9,362.2 321.0,365.4 321.2,363.3 321.3,364.0 321.5,365.0 321.7,361.6 321.8,362.2 322.0,367.3 322.2,363.4 322.3,362.0 322.5,363.2 322.6,362.7 322.8,361.8 323.0,363.0 323.1,363.6 323.3,363.6 323.4,364.4 323.6,361.0 323.8,361.4 323.9,364.8 324.1,362.9 324.2,365.4 324.4,364.1 324.6,361.5 324.7,364.4 324.9,362.1 325.0,364.0 325.2,365.4 325.4,366.8 325.5,363.5 325.7,364.7 325.9,364.1 326.0,364.8 326.2,359.8 326.3,363.0 326.5,364.0 326.7,364.3 326.8,362.5 327.0,364.8 327.1,365.3 327.3,363.7 327.5,363.3 327.6,363.1 327.8,363.8 327.9,365.4 328.1,365.9 328.3,362.9 328.4,362.2 328.6,362.4 328.7,365.1 328.9,363.9 329.1,364.1 329.2,364.3 329.4,364.2 329.5,363.4 329.7,362.1 329.9,362.7 330.0,363.8 330.2,364.2 330.4,363.1 330.5,363.0 330.7,365.7 330.8,362.9 331.0,363.9 331.2,363.1 331.3,362.3 331.5,361.3 331.6,362.8 331.8,362.4 332.0,364.9 332.1,361.9 332.3,363.0 332.4,364.6 332.6,363.4 332.8,364.4 332.9,364.9 333.1,361.1 333.2,363.0 333.4,362.2 333.6,365.6 333.7,363.4 333.9,364.4 334.1,366.1 334.2,363.1 334.4,363.7 334.5,364.2 334.7,363.2 334.9,365.5 335.0,364.8 335.2,365.1 335.3,363.7 335.5,363.1 335.7,363.1 335.8,363.1 336.0,361.2 336.1,364.2 336.3,364.8 336.5,363.6 336.6,362.9 336.8,363.7 336.9,363.9 337.1,364.1 337.3,366.3 337.4,362.3 337.6,364.2 337.8,364.6 337.9,363.7 338.1,363.3 338.2,362.1 338.4,362.7 338.6,364.7 338.7,365.8 338.9,362.6 339.0,364.3 339.2,364.4 339.4,365.1 339.5,364.0 339.7,364.3 339.8,364.9 340.0,361.9 340.2,363.7 340.3,361.0 340.5,360.7 340.6,362.4 340.8,361.3 341.0,364.4 341.1,365.1 341.3,363.2 341.5,363.4 341.6,363.3 341.8,363.2 341.9,363.8 342.1,364.1 342.3,362.9 342.4,362.5 342.6,362.8 342.7,364.8 342.9,363.0 343.1,365.7 343.2,363.3 343.4,365.6 343.5,361.9 343.7,362.6 343.9,364.3 344.0,364.3 344.2,363.4 344.3,366.6 344.5,363.7 344.7,364.0 344.8,362.8 345.0,366.0 345.2,364.9 345.3,364.2 345.5,361.2 345.6,364.1 345.8,362.9 346.0,364.2 346.1,364.9 346.3,362.5 346.4,363.9 346.6,364.9 346.8,363.8 346.9,363.1 347.1,362.1 347.2,362.6 347.4,361.8 347.6,365.1 347.7,363.8 347.9,361.8 348.0,363.6 348.2,361.7 348.4,358.8 348.5,365.4 348.7,365.3 348.8,361.5 349.0,362.6 349.2,363.9 349.3,363.1 349.5,362.4 349.7,362.9 349.8,363.3 350.0,362.8 350.1,363.9 350.3,363.3 350.5,362.5 350.6,363.6 350.8,361.2 350.9,365.7 351.1,361.1 351.3,363.5 351.4,364.1 351.6,364.2 351.7,364.0 351.9,365.4 352.1,362.0 352.2,363.5 352.4,363.8 352.5,362.9 352.7,362.7 352.9,365.5 353.0,362.6 353.2,362.9 353.4,363.2 353.5,363.3 353.7,363.8 353.8,363.3 354.0,364.1 354.2,363.8 354.3,364.3 354.5,365.6 354.6,362.4 354.8,366.0 355.0,363.0 355.1,364.6 355.3,363.8 355.4,363.2 355.6,360.8 355.8,365.9 355.9,362.5 356.1,362.5 356.2,365.1 356.4,363.7 356.6,366.4 356.7,366.0 356.9,364.6 357.1,364.0 357.2,364.7 357.4,361.7 357.5,363.8 357.7,363.8 357.9,362.9 358.0,364.0 358.2,361.5 358.3,364.9 358.5,365.5 358.7,361.7 358.8,363.8 359.0,365.8 359.1,364.2 359.3,362.1 359.5,362.2 359.6,364.8 359.8,366.3 359.9,362.0 360.1,363.7 360.3,362.5 360.4,363.2 360.6,364.0 360.8,363.5 360.9,362.6 361.1,366.6 361.2,363.4 361.4,363.3 361.6,365.2 361.7,363.6 361.9,363.3 362.0,365.0 362.2,362.1 362.4,364.7 362.5,365.1 362.7,364.6 362.8,363.3 363.0,363.6 363.2,361.1 363.3,363.4 363.5,364.0 363.6,364.8 363.8,363.8 364.0,363.0 364.1,362.4 364.3,363.5 364.5,363.8 364.6,365.3 364.8,363.6 364.9,362.9 365.1,363.4 365.3,362.9 365.4,363.3 365.6,360.4 365.7,361.3 365.9,361.9 366.1,364.3 366.2,363.5 366.4,363.8 366.5,365.3 366.7,362.1 366.9,365.2 367.0,364.1 367.2,362.6 367.3,365.7 367.5,361.5 367.7,362.0 367.8,363.3 368.0,364.2 368.1,363.3 368.3,360.5 368.5,363.2 368.6,363.5 368.8,367.2 369.0,365.6 369.1,363.8 369.3,362.0 369.4,364.1 369.6,361.9 369.8,363.9 369.9,364.1 370.1,363.0 370.2,364.0 370.4,363.1 370.6,362.8 370.7,365.8 370.9,364.4 371.0,363.2 371.2,362.5 371.4,363.8 371.5,364.4 371.7,364.8 371.8,365.7 372.0,364.3 372.2,362.0 372.3,366.5 372.5,365.3 372.7,364.8 372.8,365.5 373.0,361.5 373.1,363.1 373.3,362.9 373.5,365.3 373.6,361.9 373.8,363.1 373.9,365.8 374.1,364.5 374.3,363.0 374.4,366.3 374.6,361.7 374.7,364.2 374.9,363.3 375.1,364.3 375.2,363.2 375.4,362.4 375.5,363.9 375.7,361.7 375.9,364.4 376.0,363.1 376.2,364.9 376.4,362.9 376.5,362.6 376.7,364.2 376.8,365.4 377.0,360.6 377.2,363.8 377.3,364.5 377.5,361.6 377.6,362.3 377.8,364.5 378.0,362.4 378.1,362.7 378.3,366.0 378.4,362.2 378.6,362.4 378.8,360.3 378.9,362.0 379.1,361.8 379.2,366.0 379.4,365.3 379.6,361.8 379.7,366.4 379.9,364.7 380.1,363.3 380.2,364.7 380.4,364.1 380.5,362.5 380.7,361.1 380.9,362.3 381.0,363.6 381.2,363.1 381.3,362.5 381.5,365.0 381.7,362.1 381.8,364.9 382.0,362.9 382.1,363.7 382.3,362.0 382.5,363.6 382.6,362.5 382.8,361.1 382.9,363.6 383.1,363.5 383.3,364.8 383.4,364.0 383.6,362.1 383.8,362.7 383.9,360.0 384.1,362.0 384.2,365.4 384.4,365.8 384.6,364.7 384.7,364.0 384.9,364.4 385.0,364.3 385.2,361.1 385.4,362.3 385.5,365.3 385.7,365.3 385.8,363.9 386.0,363.1 386.2,363.0 386.3,362.8 386.5,362.3 386.6,360.8 386.8,363.8 387.0,362.9 387.1,363.3 387.3,366.0 387.4,364.4 387.6,362.6 387.8,364.4 387.9,361.4 388.1,365.1 388.3,364.0 388.4,363.3 388.6,364.4 388.7,365.7 388.9,362.9 389.1,362.2 389.2,366.6 389.4,363.6 389.5,365.7 389.7,362.6 389.9,364.1 390.0,362.7 390.2,364.5 390.3,363.2 390.5,362.6 390.7,365.8 390.8,364.1 391.0,360.7 391.1,363.2 391.3,362.3 391.5,361.8 391.6,362.7 391.8,362.9 392.0,363.6 392.1,362.4 392.3,360.9 392.4,362.8 392.6,364.8 392.8,361.6 392.9,364.5 393.1,364.2 393.2,362.9 393.4,364.0 393.6,362.5 393.7,363.0 393.9,362.1 394.0,364.2 394.2,365.6 394.4,362.6 394.5,365.3 394.7,360.5 394.8,362.3 395.0,362.1 395.2,366.1 395.3,362.7 395.5,364.7 395.7,360.6 395.8,363.7 396.0,364.4 396.1,363.5 396.3,359.6 396.5,363.8 396.6,364.7 396.8,365.5 396.9,364.1 397.1,361.1 397.3,363.3 397.4,364.9 397.6,362.4 397.7,364.4 397.9,362.9 398.1,363.7 398.2,364.7 398.4,362.5 398.5,367.7 398.7,363.8 398.9,364.1 399.0,362.5 399.2,363.7 399.4,363.2 399.5,361.5 399.7,361.4 399.8,364.0 400.0,363.4 400.2,359.8 400.3,360.5 400.5,363.1 400.6,363.5 400.8,364.5 401.0,361.8 401.1,364.4 401.3,363.1 401.4,362.8 401.6,363.4 401.8,365.0 401.9,364.4 402.1,364.9 402.2,362.6 402.4,363.2 402.6,361.9 402.7,362.8 402.9,363.0 403.1,362.9 403.2,364.6 403.4,364.2 403.5,364.7 403.7,363.8 403.9,365.1 404.0,363.7 404.2,365.0 404.3,364.3 404.5,364.6 404.7,363.5 404.8,361.8 405.0,361.5 405.1,366.4 405.3,364.1 405.5,364.2 405.6,363.3 405.8,362.9 405.9,367.7 406.1,361.9 406.3,363.5 406.4,363.5 406.6,361.9 406.7,361.7 406.9,362.5 407.1,363.1 407.2,362.9 407.4,364.8 407.6,361.9 407.7,364.2 407.9,365.7 408.0,364.9 408.2,361.9 408.4,359.3 408.5,364.8 408.7,364.3 408.8,362.7 409.0,365.4 409.2,363.0 409.3,363.7 409.5,362.1 409.6,364.0 409.8,362.9 410.0,362.8 410.1,365.1 410.3,363.9 410.4,361.4 410.6,364.6 410.8,364.8 410.9,362.4 411.1,363.0 411.3,363.6 411.4,363.2 411.6,363.7 411.7,364.5 411.9,362.9 412.1,366.6 412.2,362.5 412.4,362.8 412.5,366.4 412.7,367.0 412.9,363.6 413.0,363.3 413.2,362.0 413.3,365.2 413.5,363.8 413.7,362.3 413.8,364.2 414.0,365.6 414.1,364.6 414.3,366.8 414.5,365.3 414.6,364.2 414.8,363.5 415.0,364.4 415.1,365.3 415.3,364.8 415.4,365.1 415.6,363.9 415.8,364.7 415.9,365.3 416.1,363.3 416.2,361.7 416.4,366.1 416.6,364.4 416.7,362.9 416.9,363.9 417.0,363.2 417.2,361.1 417.4,363.3 417.5,361.5 417.7,363.9 417.8,363.4 418.0,365.2 418.2,363.4 418.3,364.1 418.5,363.1 418.7,363.0 418.8,361.5 419.0,365.0 419.1,363.8 419.3,362.7 419.5,363.9 419.6,363.0 419.8,362.5 419.9,363.9 420.1,365.3 420.3,363.2 420.4,361.5 420.6,362.7 420.7,366.2 420.9,362.4 421.1,365.3 421.2,363.2 421.4,364.6 421.5,363.4 421.7,361.3 421.9,363.0 422.0,366.6 422.2,363.4 422.4,364.4 422.5,363.1 422.7,363.4 422.8,364.0 423.0,364.3 423.2,366.8 423.3,363.5 423.5,363.3 423.6,362.6 423.8,361.7 424.0,361.2 424.1,364.5 424.3,360.9 424.4,365.6 424.6,364.8 424.8,363.1 424.9,361.9 425.1,363.6 425.2,363.6 425.4,365.2 425.6,362.5 425.7,363.0 425.9,363.5 426.0,363.2 426.2,362.7 426.4,361.1 426.5,361.2 426.7,362.6 426.9,363.2 427.0,365.0 427.2,366.9 427.3,366.1 427.5,364.1 427.7,366.3 427.8,363.4 428.0,362.8 428.1,366.9 428.3,362.0 428.5,363.0 428.6,363.2 428.8,365.7 428.9,362.7 429.1,364.7 429.3,363.0 429.4,361.8 429.6,363.9 429.7,363.8 429.9,361.9 430.1,362.3 430.2,362.4 430.4,365.0 430.6,364.2 430.7,363.9 430.9,364.3 431.0,362.9 431.2,364.3 431.4,362.7 431.5,361.6 431.7,362.5 431.8,363.9 432.0,363.7 432.2,365.1 432.3,361.1 432.5,363.2 432.6,364.1 432.8,362.2 433.0,363.9 433.1,363.0 433.3,361.9 433.4,365.2 433.6,361.5 433.8,365.0 433.9,363.0 434.1,362.2 434.3,362.3 434.4,362.5 434.6,362.3 434.7,364.0 434.9,360.9 435.1,365.4 435.2,364.8 435.4,365.6 435.5,362.1 435.7,360.2 435.9,362.7 436.0,363.3 436.2,364.0 436.3,362.8 436.5,363.4 436.7,363.8 436.8,361.3 437.0,366.2 437.1,361.9 437.3,363.9 437.5,365.1 437.6,362.4 437.8,363.6 438.0,365.9 438.1,363.2 438.3,365.1 438.4,364.0 438.6,363.9 438.8,364.6 438.9,363.2 439.1,363.3 439.2,365.0 439.4,363.9 439.6,364.3 439.7,361.8 439.9,363.6 440.0,365.3 440.2,364.9 440.4,364.1 440.5,362.8 440.7,362.7 440.8,364.2 441.0,365.6 441.2,363.6 441.3,365.5 441.5,363.1 441.7,365.3 441.8,362.1 442.0,363.8 442.1,362.0 442.3,364.5 442.5,364.4 442.6,362.2 442.8,362.5 442.9,362.9 443.1,361.4 443.3,362.2 443.4,362.3 443.6,364.7 443.7,365.6 443.9,362.9 444.1,363.1 444.2,363.9 444.4,362.8 444.5,363.2 444.7,364.8 444.9,363.9 445.0,363.4 445.2,362.7 445.3,365.7 445.5,362.7 445.7,363.7 445.8,362.1 446.0,362.7 446.2,363.7 446.3,363.0 446.5,364.3 446.6,363.7 446.8,361.5 447.0,360.2 447.1,365.0 447.3,362.7 447.4,365.7 447.6,363.6 447.8,362.4 447.9,364.4 448.1,363.2 448.2,363.6 448.4,362.2 448.6,364.5 448.7,365.1 448.9,362.8 449.0,366.1 449.2,362.7 449.4,363.9 449.5,361.2 449.7,360.8 449.9,366.6 450.0,365.6 450.2,365.2 450.3,361.1 450.5,363.9 450.7,364.2 450.8,363.7 451.0,364.0 451.1,362.2 451.3,363.3 451.5,361.9 451.6,363.0 451.8,364.1 451.9,362.4 452.1,363.1 452.3,362.9 452.4,363.6 452.6,364.9 452.7,363.9 452.9,364.1 453.1,361.4 453.2,363.0 453.4,364.7 453.6,362.3 453.7,362.9 453.9,362.1 454.0,365.5 454.2,362.9 454.4,362.5 454.5,364.4 454.7,365.1 454.8,364.2 455.0,365.0 455.2,363.8 455.3,363.3 455.5,362.9 455.6,362.8 455.8,362.7 456.0,364.1 456.1,363.4 456.3,363.6 456.4,364.4 456.6,363.4 456.8,361.5 456.9,362.4 457.1,361.9 457.3,360.7 457.4,363.7 457.6,361.8 457.7,361.6 457.9,361.9 458.1,364.8 458.2,363.1 458.4,365.0 458.5,363.4 458.7,362.9 458.9,364.3 459.0,364.4 459.2,363.7 459.3,362.0 459.5,362.8 459.7,361.8 459.8,363.1 460.0,363.6 460.1,365.7 460.3,365.5 460.5,364.5 460.6,364.9 460.8,363.8 461.0,367.5 461.1,365.7 461.3,367.3 461.4,364.0 461.6,364.1 461.8,365.0 461.9,363.7 462.1,363.9 462.2,362.0 462.4,364.8 462.6,363.7 462.7,364.6 462.9,363.1 463.0,360.9 463.2,364.2 463.4,365.2 463.5,361.6 463.7,362.0 463.8,363.0 464.0,363.1 464.2,361.0 464.3,366.0 464.5,364.9 464.6,362.5 464.8,360.8 465.0,364.0 465.1,366.3 465.3,364.7 465.5,365.1 465.6,362.1 465.8,363.8 465.9,361.2 466.1,366.3 466.3,364.3 466.4,360.3 466.6,360.7 466.7,364.1 466.9,363.6 467.1,363.0 467.2,364.3 467.4,366.4 467.5,363.9 467.7,360.8 467.9,363.2 468.0,361.5 468.2,362.2 468.3,363.9 468.5,363.1 468.7,361.8 468.8,363.3 469.0,362.2 469.2,364.2 469.3,363.0 469.5,363.9 469.6,363.0 469.8,364.5 470.0,363.2 470.1,363.3 470.3,362.5 470.4,363.6 470.6,360.7 470.8,367.3 470.9,362.3 471.1,363.5 471.2,362.6 471.4,362.6 471.6,363.9 471.7,362.6 471.9,362.7 472.0,361.3 472.2,361.9 472.4,361.6 472.5,365.9 472.7,361.3 472.9,361.7 473.0,363.6 473.2,365.4 473.3,360.8 473.5,361.0 473.7,363.4 473.8,363.7 474.0,361.1 474.1,360.6 474.3,361.8 474.5,364.3 474.6,363.1 474.8,364.3 474.9,363.0 475.1,363.1 475.3,364.1 475.4,363.0 475.6,363.5 475.7,361.8 475.9,362.2 476.1,363.8 476.2,362.7 476.4,362.0 476.6,364.1 476.7,363.9 476.9,363.0 477.0,361.9 477.2,364.4 477.4,366.8 477.5,361.8 477.7,360.7 477.8,361.8 478.0,361.5 478.2,361.0 478.3,361.1 478.5,364.2 478.6,364.2 478.8,365.1 479.0,364.0 479.1,362.1 479.3,364.4 479.4,361.8 479.6,362.2 479.8,360.9 479.9,364.5 480.1,364.2 480.3,361.9 480.4,362.1 480.6,362.6 480.7,362.8 480.9,363.8 481.1,362.5 481.2,363.0 481.4,360.0 481.5,361.8 481.7,359.4 481.9,365.0 482.0,364.3 482.2,363.2 482.3,363.8 482.5,365.2 482.7,363.4 482.8,359.3 483.0,361.5 483.1,358.0 483.3,360.4 483.5,359.6 483.6,361.5 483.8,362.1 483.9,359.9 484.1,360.9 484.3,361.7 484.4,360.9 484.6,360.8 484.8,357.0 484.9,360.2 485.1,362.2 485.2,361.2 485.4,358.1 485.6,360.1 485.7,360.9 485.9,358.7 486.0,361.4 486.2,358.8 486.4,359.5 486.5,359.8 486.7,363.8 486.8,359.2 487.0,358.7 487.2,360.9 487.3,358.7 487.5,359.8 487.6,355.3 487.8,359.8 488.0,359.1 488.1,356.7 488.3,361.4 488.5,358.4 488.6,358.4 488.8,356.3 488.9,355.6 489.1,357.5 489.3,355.7 489.4,359.3 489.6,360.0 489.7,357.1 489.9,355.2 490.1,357.4 490.2,356.2 490.4,358.4 490.5,358.4 490.7,357.2 490.9,358.2 491.0,360.0 491.2,361.2 491.3,357.0 491.5,359.4 491.7,357.6 491.8,356.1 492.0,360.5 492.2,358.9 492.3,358.4 492.5,358.9 492.6,358.0 492.8,356.4 493.0,361.7 493.1,360.1 493.3,359.0 493.4,360.4 493.6,361.1 493.8,358.4 493.9,359.9 494.1,358.4 494.2,360.2 494.4,358.7 494.6,363.6 494.7,358.7 494.9,360.3 495.0,360.3 495.2,359.0 495.4,361.4 495.5,359.7 495.7,359.2 495.9,360.0 496.0,358.8 496.2,362.3 496.3,361.4 496.5,362.1 496.7,358.2 496.8,361.0 497.0,359.3 497.1,360.9 497.3,363.0 497.5,361.3 497.6,360.7 497.8,362.9 497.9,362.8 498.1,364.3 498.3,358.2 498.4,361.9 498.6,360.8 498.7,360.1 498.9,361.8 499.1,359.8 499.2,358.1 499.4,360.3 499.6,361.4 499.7,364.9 499.9,360.8 500.0,360.2 500.2,358.9 500.4,361.6 500.5,361.8 500.7,362.4 500.8,360.0 501.0,361.1 501.2,358.8 501.3,362.6 501.5,360.0 501.6,358.2 501.8,364.3 502.0,363.3 502.1,363.1 502.3,363.1 502.4,361.1 502.6,364.3 502.8,361.1 502.9,365.6 503.1,363.1 503.2,360.0 503.4,364.1 503.6,365.8 503.7,362.5 503.9,364.5 504.1,362.6 504.2,362.0 504.4,359.0 504.5,364.8 504.7,362.3 504.9,363.5 505.0,361.3 505.2,361.6 505.3,364.7 505.5,362.5 505.7,362.4 505.8,361.2 506.0,363.4 506.1,364.2 506.3,362.4 506.5,362.8 506.6,361.3 506.8,365.2 506.9,362.2 507.1,362.9 507.3,365.7 507.4,362.8 507.6,360.9 507.8,361.8 507.9,362.6 508.1,365.8 508.2,363.5 508.4,362.9 508.6,364.4 508.7,365.2 508.9,362.1 509.0,365.4 509.2,364.5 509.4,363.9 509.5,359.7 509.7,363.5 509.8,365.3 510.0,362.9 510.2,366.7 510.3,363.4 510.5,361.8 510.6,364.2 510.8,363.7 511.0,364.5 511.1,363.0 511.3,365.2 511.5,362.5 511.6,363.5 511.8,361.5 511.9,362.1 512.1,363.6 512.3,362.4 512.4,362.7 512.6,363.0 512.7,363.7 512.9,364.5 513.1,364.5 513.2,364.9 513.4,363.7 513.5,362.5 513.7,361.0 513.9,362.8 514.0,362.2 514.2,360.7 514.3,365.8 514.5,360.6 514.7,363.9 514.8,364.2 515.0,363.0 515.2,367.2 515.3,363.4 515.5,362.3 515.6,366.0 515.8,362.2 516.0,361.3 516.1,361.9 516.3,362.4 516.4,363.5 516.6,363.9 516.8,361.1 516.9,363.9 517.1,366.7 517.2,362.3 517.4,363.2 517.6,364.4 517.7,365.2 517.9,362.4 518.0,362.0 518.2,361.9 518.4,365.0 518.5,364.8 518.7,360.2 518.9,360.3 519.0,361.6 519.2,361.2 519.3,364.0 519.5,363.8 519.7,366.3 519.8,364.6 520.0,363.6 520.1,365.2 520.3,362.1 520.5,361.4 520.6,363.5 520.8,364.8 520.9,361.0 521.1,364.8 521.3,364.7 521.4,362.7 521.6,363.7 521.7,363.0 521.9,363.6 522.1,364.6 522.2,362.3 522.4,365.0 522.5,364.7 522.7,364.8 522.9,360.5 523.0,360.7 523.2,364.5 523.4,362.6 523.5,362.4 523.7,362.3 523.8,361.5 524.0,363.0 524.2,362.4 524.3,362.5 524.5,364.2 524.6,361.7 524.8,365.1 525.0,360.2 525.1,367.2 525.3,361.5 525.4,364.3 525.6,364.8 525.8,363.5 525.9,364.6 526.1,363.3 526.2,360.9 526.4,364.0 526.6,365.2 526.7,362.7 526.9,361.0 527.1,362.6 527.2,364.0 527.4,363.9 527.5,365.1 527.7,364.3 527.9,364.2 528.0,360.5 528.2,366.8 528.3,363.6 528.5,364.8 528.7,363.0 528.8,363.3 529.0,363.6 529.1,365.8 529.3,365.7 529.5,364.4 529.6,366.4 529.8,362.9 529.9,364.3 530.1,362.8 530.3,365.4 530.4,363.6 530.6,365.0 530.8,366.1 530.9,360.4"/><rect x="49.7" y="12.5" width="482.50" height="359.00" fill="none" stroke="#000" stroke-width="2.5"/><line x1="49.7" y1="102.4" x2="532.2" y2="102.4" stroke="#000" stroke-width="2.5"/><line x1="49.7" y1="192.0" x2="532.2" y2="192.0" stroke="#000" stroke-width="2.5"/><line x1="49.7" y1="281.8" x2="532.2" y2="281.8" stroke="#000" stroke-width="2.5"/><path d="M65.78,102.40v4.3M81.87,102.40v4.3M97.95,102.40v4.3M114.03,102.40v4.3M130.12,102.40v8.3M146.20,102.40v4.3M162.28,102.40v4.3M178.37,102.40v4.3M194.45,102.40v4.3M210.53,102.40v8.3M226.62,102.40v4.3M242.70,102.40v4.3M258.78,102.40v4.3M274.87,102.40v4.3M290.95,102.40v8.3M307.03,102.40v4.3M323.12,102.40v4.3M339.20,102.40v4.3M355.28,102.40v4.3M371.37,102.40v8.3M387.45,102.40v4.3M403.53,102.40v4.3M419.62,102.40v4.3M435.70,102.40v4.3M451.78,102.40v8.3M467.87,102.40v4.3M483.95,102.40v4.3M500.03,102.40v4.3M516.12,102.40v4.3M65.78,192.00v4.3M81.87,192.00v4.3M97.95,192.00v4.3M114.03,192.00v4.3M130.12,192.00v8.3M146.20,192.00v4.3M162.28,192.00v4.3M178.37,192.00v4.3M194.45,192.00v4.3M210.53,192.00v8.3M226.62,192.00v4.3M242.70,192.00v4.3M258.78,192.00v4.3M274.87,192.00v4.3M290.95,192.00v8.3M307.03,192.00v4.3M323.12,192.00v4.3M339.20,192.00v4.3M355.28,192.00v4.3M371.37,192.00v8.3M387.45,192.00v4.3M403.53,192.00v4.3M419.62,192.00v4.3M435.70,192.00v4.3M451.78,192.00v8.3M467.87,192.00v4.3M483.95,192.00v4.3M500.03,192.00v4.3M516.12,192.00v4.3M65.78,281.80v4.3M81.87,281.80v4.3M97.95,281.80v4.3M114.03,281.80v4.3M130.12,281.80v8.3M146.20,281.80v4.3M162.28,281.80v4.3M178.37,281.80v4.3M194.45,281.80v4.3M210.53,281.80v8.3M226.62,281.80v4.3M242.70,281.80v4.3M258.78,281.80v4.3M274.87,281.80v4.3M290.95,281.80v8.3M307.03,281.80v4.3M323.12,281.80v4.3M339.20,281.80v4.3M355.28,281.80v4.3M371.37,281.80v8.3M387.45,281.80v4.3M403.53,281.80v4.3M419.62,281.80v4.3M435.70,281.80v4.3M451.78,281.80v8.3M467.87,281.80v4.3M483.95,281.80v4.3M500.03,281.80v4.3M516.12,281.80v4.3M49.70,371.50v8.3M65.78,371.50v4.3M81.87,371.50v4.3M97.95,371.50v4.3M114.03,371.50v4.3M130.12,371.50v8.3M146.20,371.50v4.3M162.28,371.50v4.3M178.37,371.50v4.3M194.45,371.50v4.3M210.53,371.50v8.3M226.62,371.50v4.3M242.70,371.50v4.3M258.78,371.50v4.3M274.87,371.50v4.3M290.95,371.50v8.3M307.03,371.50v4.3M323.12,371.50v4.3M339.20,371.50v4.3M355.28,371.50v4.3M371.37,371.50v8.3M387.45,371.50v4.3M403.53,371.50v4.3M419.62,371.50v4.3M435.70,371.50v4.3M451.78,371.50v8.3M467.87,371.50v4.3M483.95,371.50v4.3M500.03,371.50v4.3M516.12,371.50v4.3M532.20,371.50v8.3" stroke="#000" stroke-width="2.0" fill="none"/><text x="49.7" y="396.9" font-family='"Liberation Sans", Arial, Helvetica, sans-serif' font-weight="bold" font-size="19" text-anchor="middle">20</text><text x="130.1" y="396.9" font-family='"Liberation Sans", Arial, Helvetica, sans-serif' font-weight="bold" font-size="19" text-anchor="middle">30</text><text x="210.5" y="396.9" font-family='"Liberation Sans", Arial, Helvetica, sans-serif' font-weight="bold" font-size="19" text-anchor="middle">40</text><text x="291.0" y="396.9" font-family='"Liberation Sans", Arial, Helvetica, sans-serif' font-weight="bold" font-size="19" text-anchor="middle">50</text><text x="371.4" y="396.9" font-family='"Liberation Sans", Arial, Helvetica, sans-serif' font-weight="bold" font-size="19" text-anchor="middle">60</text><text x="451.8" y="396.9" font-family='"Liberation Sans", Arial, Helvetica, sans-serif' font-weight="bold" font-size="19" text-anchor="middle">70</text><text x="532.2" y="396.9" font-family='"Liberation Sans", Arial, Helvetica, sans-serif' font-weight="bold" font-size="19" text-anchor="middle">80</text><text x="152.6" y="418.8" font-family='"Liberation Sans", Arial, Helvetica, sans-serif' font-weight="bold" font-size="26">Diffraction angle, 2</text><text transform="translate(387.2,418.6) scale(1.2,0.93)" font-family='"Liberation Serif", "Times New Roman", serif' font-size="27">&#952;</text><text x="407.3" y="418.7" font-family='"Liberation Serif", "Times New Roman", serif' font-size="22">(</text><text x="413.7" y="407.5" font-family='"Liberation Sans", Arial, Helvetica, sans-serif' font-weight="bold" font-size="19">o</text><text x="426.2" y="418.7" font-family='"Liberation Serif", "Times New Roman", serif' font-size="22">)</text><text transform="translate(25.8,193.3) rotate(-90)" text-anchor="middle" font-family='"Liberation Sans", Arial, Helvetica, sans-serif' font-weight="bold" font-size="26">Relative Intensity</text><text x="55.8" y="36.9" font-family='"Liberation Sans", Arial, Helvetica, sans-serif' font-weight="bold" font-size="19.6">(d) Cr<tspan dy="7.7" font-size="16.3">51</tspan><tspan dy="-7.7">W</tspan><tspan dy="7.7" font-size="16.3">2</tspan><tspan dy="-7.7">N</tspan><tspan dy="7.7" font-size="16.3">47</tspan></text><text x="57.5" y="69.0" font-family='"Liberation Sans", Arial, Helvetica, sans-serif' font-weight="bold" font-size="17"><tspan font-style="italic" dx="0.8">f</tspan><tspan dy="9.3" dx="-0.2" font-size="14.6" font-style="italic">N2</tspan><tspan dy="-9.3" dx="-0.6"> : 0.4</tspan></text><text x="55.8" y="126.2" font-family='"Liberation Sans", Arial, Helvetica, sans-serif' font-weight="bold" font-size="19.6">(c) Cr<tspan dy="7.7" font-size="16.3">58</tspan><tspan dy="-7.7">W</tspan><tspan dy="7.7" font-size="16.3">2</tspan><tspan dy="-7.7">N</tspan><tspan dy="7.7" font-size="16.3">40</tspan></text><text x="57.5" y="157.4" font-family='"Liberation Sans", Arial, Helvetica, sans-serif' font-weight="bold" font-size="17"><tspan font-style="italic" dx="0.8">f</tspan><tspan dy="9.3" dx="-0.2" font-size="14.6" font-style="italic">N2</tspan><tspan dy="-9.3" dx="-0.6"> : 0.3</tspan></text><text x="55.8" y="216.7" font-family='"Liberation Sans", Arial, Helvetica, sans-serif' font-weight="bold" font-size="19.6">(b) Cr<tspan dy="7.7" font-size="16.3">62</tspan><tspan dy="-7.7">W</tspan><tspan dy="7.7" font-size="16.3">3</tspan><tspan dy="-7.7">N</tspan><tspan dy="7.7" font-size="16.3">35</tspan></text><text x="57.5" y="250.1" font-family='"Liberation Sans", Arial, Helvetica, sans-serif' font-weight="bold" font-size="17"><tspan font-style="italic" dx="0.8">f</tspan><tspan dy="9.3" dx="-0.2" font-size="14.6" font-style="italic">N2</tspan><tspan dy="-9.3" dx="-0.6"> : 0.2</tspan></text><text x="55.8" y="307.3" font-family='"Liberation Sans", Arial, Helvetica, sans-serif' font-weight="bold" font-size="19.6">(a) Cr<tspan dy="7.7" font-size="16.3">65</tspan><tspan dy="-7.7">W</tspan><tspan dy="7.7" font-size="16.3">4</tspan><tspan dy="-7.7">N</tspan><tspan dy="7.7" font-size="16.3">31</tspan></text><text x="57.5" y="338.5" font-family='"Liberation Sans", Arial, Helvetica, sans-serif' font-weight="bold" font-size="17"><tspan font-style="italic" dx="0.8">f</tspan><tspan dy="9.3" dx="-0.2" font-size="14.6" font-style="italic">N2</tspan><tspan dy="-9.3" dx="-0.6"> : 0.1</tspan></text><circle cx="430.3" cy="27" r="3.3" fill="#ff0000"/><text x="437.4" y="33.6" font-family='"Liberation Sans", Arial, Helvetica, sans-serif' font-weight="bold" font-size="16.5" fill="#ff0000">CrN</text><path d="M481,23 l4.2,4.6 l-4.2,4.6 l-4.2,-4.6z" fill="#0000ff"/><text x="486.4" y="33.6" font-family='"Liberation Sans", Arial, Helvetica, sans-serif' font-weight="bold" font-size="16.5" fill="#0000ff">Cr<tspan dy="7" font-size="14.5">2</tspan><tspan dy="-7">N</tspan></text><circle cx="185.8" cy="73.2" r="3.4" fill="#ff0000"/><circle cx="233.5" cy="68.2" r="3.4" fill="#ff0000"/><circle cx="402.4" cy="79.6" r="3.4" fill="#ff0000"/><text transform="translate(206.3,80.6) rotate(-90)" font-family='"Liberation Sans", Arial, Helvetica, sans-serif' font-weight="bold" font-size="17.2" fill="#ff0000">(111)</text><text transform="translate(255.5,79.8) rotate(-90)" font-family='"Liberation Sans", Arial, Helvetica, sans-serif' font-weight="bold" font-size="16.6" fill="#ff0000">(200)</text><text transform="translate(420.7,81.2) rotate(-90)" font-family='"Liberation Sans", Arial, Helvetica, sans-serif' font-weight="bold" font-size="16.6" fill="#ff0000">(220)</text><circle cx="199.1" cy="169.1" r="3.4" fill="#ff0000"/><circle cx="235.5" cy="167.2" r="3.4" fill="#ff0000"/><path d="M232.8,228.10000000000002 l4.3,4.7 l-4.3,4.7 l-4.3,-4.7z" fill="#0000ff"/><path d="M430.8,254.10000000000002 l4.3,4.7 l-4.3,4.7 l-4.3,-4.7z" fill="#0000ff"/><path d="M233.9,284.6 l4.3,4.7 l-4.3,4.7 l-4.3,-4.7z" fill="#0000ff"/><path d="M491.9,341.1 l4.3,4.7 l-4.3,4.7 l-4.3,-4.7z" fill="#0000ff"/><text transform="translate(255.0,245.6) rotate(-90)" font-family='"Liberation Sans", Arial, Helvetica, sans-serif' font-weight="bold" font-size="16.5" fill="#0000ff">(111)</text><text transform="translate(449.7,261.5) rotate(-90)" font-family='"Liberation Sans", Arial, Helvetica, sans-serif' font-weight="bold" font-size="16.6" fill="#0000ff">(300)</text><text transform="translate(511.0,350.9) rotate(-90)" font-family='"Liberation Sans", Arial, Helvetica, sans-serif' font-weight="bold" font-size="16.6" fill="#0000ff">(113)</text></g></svg></body></html>
